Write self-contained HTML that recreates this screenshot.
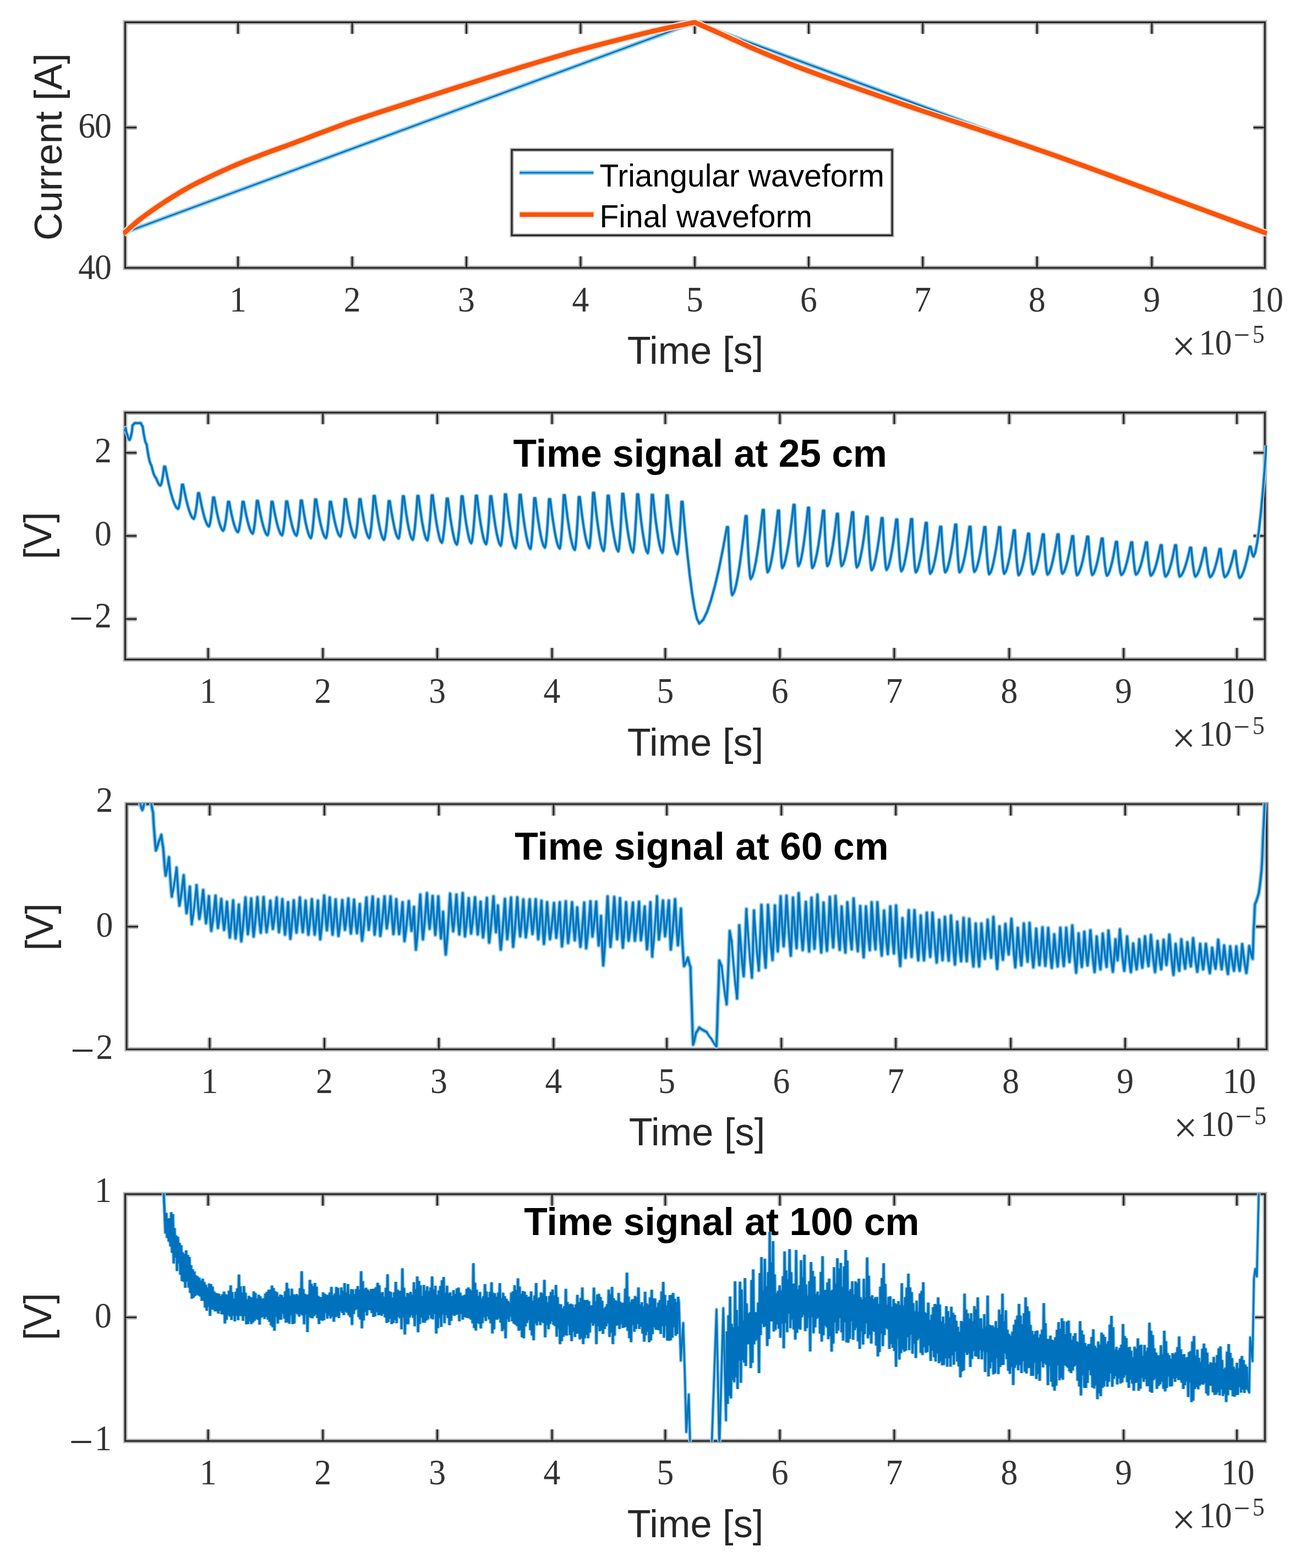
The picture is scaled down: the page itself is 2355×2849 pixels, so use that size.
<!DOCTYPE html>
<html lang="en"><head><meta charset="utf-8"><title>Time signals</title>
<style>
html,body{margin:0;padding:0;background:#fff}
svg{display:block}
.tk{font-family:'Liberation Serif',serif;font-size:65px;fill:#333}
.ex{font-family:'Liberation Serif',serif;font-size:46px;fill:#333}
.lb{font-family:'Liberation Sans',sans-serif;font-size:70.4px;fill:#262626}
.ti{font-family:'Liberation Sans',sans-serif;font-size:69.6px;font-weight:bold;fill:#000}
.lg{font-family:'Liberation Sans',sans-serif;font-size:57px;fill:#000}
</style></head>
<body>
<svg width="2355" height="2849" viewBox="0 0 2355 2849">
<rect width="2355" height="2849" fill="#fff"/>
<defs>
<clipPath id="c1"><rect x="223.4" y="36.5" width="2079.1" height="454.3"/></clipPath>
<clipPath id="c2"><rect x="223.4" y="748.2" width="2079.1" height="451.7"/></clipPath>
<clipPath id="c3"><rect x="226.1" y="1459.4" width="2079.7" height="448.8"/></clipPath>
<clipPath id="c4"><rect x="223.5" y="2168.1" width="2079.1" height="451.7"/></clipPath>
</defs>
<g id="plot1">
<path d="M227.4 40.5H2298.5V486.8H227.4ZM432.5 486.8v-21M432.5 40.5v21M640 486.8v-21M640 40.5v21M847.5 486.8v-21M847.5 40.5v21M1055 486.8v-21M1055 40.5v21M1262.5 486.8v-21M1262.5 40.5v21M1469.5 486.8v-21M1469.5 40.5v21M1676.8 486.8v-21M1676.8 40.5v21M1884.4 486.8v-21M1884.4 40.5v21M2093 486.8v-21M2093 40.5v21M227.4 231.8h21M2298.5 231.8h-21" fill="none" stroke="#b2b2b2" stroke-width="7.9" stroke-linecap="butt" stroke-linejoin="miter"/>
<path d="M227.4 40.5H2298.5V486.8H227.4ZM432.5 486.8v-21M432.5 40.5v21M640 486.8v-21M640 40.5v21M847.5 486.8v-21M847.5 40.5v21M1055 486.8v-21M1055 40.5v21M1262.5 486.8v-21M1262.5 40.5v21M1469.5 486.8v-21M1469.5 40.5v21M1676.8 486.8v-21M1676.8 40.5v21M1884.4 486.8v-21M1884.4 40.5v21M2093 486.8v-21M2093 40.5v21M227.4 231.8h21M2298.5 231.8h-21" fill="none" stroke="#242424" stroke-width="2.9" stroke-linecap="butt" stroke-linejoin="miter"/>

<g clip-path="url(#c1)"><path d="M223.9 423.7L1262.3 40.5L2302 423.7" fill="none" stroke="#8fcbe8" stroke-width="7.8" stroke-linejoin="miter" stroke-linecap="butt"/>
<path d="M223.9 423.7L1262.3 40.5L2302 423.7" fill="none" stroke="#0072bd" stroke-width="2.7" stroke-linejoin="miter" stroke-linecap="butt"/>
<path d="M223.9 425L226.7 422.5L230.6 418.9L235.3 414.7L240.3 410.3L245.3 405.9L249.9 402L254.3 398.5L258.6 395.2L262.9 392L267.3 388.8L271.8 385.6L276.5 382.2L281.4 378.8L286.4 375.4L291.6 371.9L296.9 368.4L302.4 364.8L308 361.2L313.8 357.6L319.8 353.9L325.9 350.1L332.3 346.4L338.8 342.6L345.6 338.9L352.7 335.1L360.3 331.3L368 327.5L375.9 323.7L383.6 320.1L391 316.6L398 313.3L404.7 310.2L411.4 307.2L418 304.2L425 301.2L432.5 298.1L440.5 294.8L449 291.4L457.8 288L466.7 284.6L475.6 281.2L484.4 277.9L493 274.7L501.7 271.5L510.3 268.4L518.9 265.3L527.6 262.1L536.2 258.9L544.9 255.7L553.5 252.5L562.2 249.2L570.8 245.9L579.4 242.7L588.1 239.4L596.1 236.4L603.5 233.6L610.8 230.8L618.8 227.8L628.3 224.3L640 220.3L654.2 215.5L670.7 210.1L688.6 204.3L707.2 198.3L725.8 192.3L743.7 186.5L761 180.9L778.2 175.4L795.5 169.9L812.8 164.3L830.1 158.8L847.4 153.4L864.7 147.9L882 142.4L899.3 136.9L916.5 131.5L933.8 126.1L951.1 120.8L968.4 115.6L985.7 110.4L1003 105.2L1020.3 100.1L1037.6 95.1L1054.8 90.2L1072.7 85.4L1091.3 80.5L1110 75.7L1127.8 71.2L1144.3 67L1158.6 63.5L1170.2 60.6L1179.7 58.3L1187.7 56.4L1195.1 54.8L1202.4 53.1L1210.4 51.4L1219.7 49.3L1229.6 47.2L1239.6 45.2L1248.9 43.3L1256.7 41.7L1262.3 40.5L1267.9 43L1275.7 46.4L1285 50.5L1295 54.9L1304.9 59.3L1314.2 63.5L1322.8 67.4L1331.4 71.4L1340.1 75.3L1348.7 79.3L1357.4 83.2L1366 87.1L1374.7 90.8L1383.3 94.5L1392 98.1L1400.6 101.7L1409.2 105.2L1417.9 108.7L1425.9 112L1433.3 115L1440.6 118L1448.6 121.2L1458.1 124.8L1469.8 129.1L1484 134.4L1500.5 140.3L1518.4 146.7L1537 153.3L1555.6 159.8L1573.5 166.1L1590.8 172.2L1608 178.2L1625.3 184.1L1642.6 190.1L1659.9 196L1677.2 201.8L1694.5 207.6L1711.8 213.4L1729.1 219.1L1746.3 224.8L1763.6 230.5L1780.9 236.2L1798.2 242L1815.5 247.8L1832.8 253.6L1850.1 259.5L1867.4 265.3L1884.6 271.3L1901.9 277.3L1919.2 283.4L1936.5 289.6L1953.8 295.8L1971.1 302L1988.4 308.3L2004.4 314.1L2019 319.5L2033.6 324.9L2049.7 330.8L2068.7 337.9L2092.1 346.5L2123.4 358.1L2162 372.3L2203.5 387.7L2243.6 402.5L2277.9 415.1L2302 424.0" fill="none" stroke="#fde0d4" stroke-width="13" stroke-linejoin="round"/>
<path d="M223.9 425L226.7 422.5L230.6 418.9L235.3 414.7L240.3 410.3L245.3 405.9L249.9 402L254.3 398.5L258.6 395.2L262.9 392L267.3 388.8L271.8 385.6L276.5 382.2L281.4 378.8L286.4 375.4L291.6 371.9L296.9 368.4L302.4 364.8L308 361.2L313.8 357.6L319.8 353.9L325.9 350.1L332.3 346.4L338.8 342.6L345.6 338.9L352.7 335.1L360.3 331.3L368 327.5L375.9 323.7L383.6 320.1L391 316.6L398 313.3L404.7 310.2L411.4 307.2L418 304.2L425 301.2L432.5 298.1L440.5 294.8L449 291.4L457.8 288L466.7 284.6L475.6 281.2L484.4 277.9L493 274.7L501.7 271.5L510.3 268.4L518.9 265.3L527.6 262.1L536.2 258.9L544.9 255.7L553.5 252.5L562.2 249.2L570.8 245.9L579.4 242.7L588.1 239.4L596.1 236.4L603.5 233.6L610.8 230.8L618.8 227.8L628.3 224.3L640 220.3L654.2 215.5L670.7 210.1L688.6 204.3L707.2 198.3L725.8 192.3L743.7 186.5L761 180.9L778.2 175.4L795.5 169.9L812.8 164.3L830.1 158.8L847.4 153.4L864.7 147.9L882 142.4L899.3 136.9L916.5 131.5L933.8 126.1L951.1 120.8L968.4 115.6L985.7 110.4L1003 105.2L1020.3 100.1L1037.6 95.1L1054.8 90.2L1072.7 85.4L1091.3 80.5L1110 75.7L1127.8 71.2L1144.3 67L1158.6 63.5L1170.2 60.6L1179.7 58.3L1187.7 56.4L1195.1 54.8L1202.4 53.1L1210.4 51.4L1219.7 49.3L1229.6 47.2L1239.6 45.2L1248.9 43.3L1256.7 41.7L1262.3 40.5L1267.9 43L1275.7 46.4L1285 50.5L1295 54.9L1304.9 59.3L1314.2 63.5L1322.8 67.4L1331.4 71.4L1340.1 75.3L1348.7 79.3L1357.4 83.2L1366 87.1L1374.7 90.8L1383.3 94.5L1392 98.1L1400.6 101.7L1409.2 105.2L1417.9 108.7L1425.9 112L1433.3 115L1440.6 118L1448.6 121.2L1458.1 124.8L1469.8 129.1L1484 134.4L1500.5 140.3L1518.4 146.7L1537 153.3L1555.6 159.8L1573.5 166.1L1590.8 172.2L1608 178.2L1625.3 184.1L1642.6 190.1L1659.9 196L1677.2 201.8L1694.5 207.6L1711.8 213.4L1729.1 219.1L1746.3 224.8L1763.6 230.5L1780.9 236.2L1798.2 242L1815.5 247.8L1832.8 253.6L1850.1 259.5L1867.4 265.3L1884.6 271.3L1901.9 277.3L1919.2 283.4L1936.5 289.6L1953.8 295.8L1971.1 302L1988.4 308.3L2004.4 314.1L2019 319.5L2033.6 324.9L2049.7 330.8L2068.7 337.9L2092.1 346.5L2123.4 358.1L2162 372.3L2203.5 387.7L2243.6 402.5L2277.9 415.1L2302 424.0" fill="none" stroke="#f9530a" stroke-width="8.8" stroke-linejoin="miter"/></g>
<rect x="930" y="272.3" width="691.2" height="155.3" fill="#fff" stroke="#b2b2b2" stroke-width="7"/>
<rect x="930" y="272.3" width="691.2" height="155.3" fill="none" stroke="#242424" stroke-width="3"/>
<path d="M944 313.8H1078.5" stroke="#8ecbe9" stroke-width="8" fill="none"/>
<path d="M944 313.8H1078.5" stroke="#0070be" stroke-width="2.8" fill="none"/>
<path d="M943 389.8H1079.5" stroke="#fde3d9" stroke-width="13.5" fill="none"/>
<path d="M944.5 389.8H1078.5" stroke="#f9530a" stroke-width="8.3" fill="none"/>
<text class="lg" x="1089.5" y="339">Triangular waveform</text>
<text class="lg" x="1089.5" y="413.4">Final waveform</text>
<text class="tk" transform="scale(0.95 1)"><tspan x="439" y="566">1</tspan></text>
<text class="tk" transform="scale(0.95 1)"><tspan x="657.4" y="566">2</tspan></text>
<text class="tk" transform="scale(0.95 1)"><tspan x="875.9" y="566">3</tspan></text>
<text class="tk" transform="scale(0.95 1)"><tspan x="1094.3" y="566">4</tspan></text>
<text class="tk" transform="scale(0.95 1)"><tspan x="1312.7" y="566">5</tspan></text>
<text class="tk" transform="scale(0.95 1)"><tspan x="1530.6" y="566">6</tspan></text>
<text class="tk" transform="scale(0.95 1)"><tspan x="1748.8" y="566">7</tspan></text>
<text class="tk" transform="scale(0.95 1)"><tspan x="1967.3" y="566">8</tspan></text>
<text class="tk" transform="scale(0.95 1)"><tspan x="2186.9" y="566">9</tspan></text>
<text class="tk" transform="scale(0.95 1)"><tspan x="2391.1" y="566" style="letter-spacing:-1.3px">10</tspan></text>
<text class="tk" transform="scale(0.95 1)"><tspan x="149.8" y="506.6" style="letter-spacing:-1.3px">40</tspan></text>
<text class="tk" transform="scale(0.95 1)"><tspan x="149.8" y="249.8" style="letter-spacing:-1.3px">60</tspan></text>
<text class="lb" x="1263.5" y="661.3" text-anchor="middle">Time [s]</text>
<text class="tk" transform="scale(0.95 1)"><tspan x="2241.3" y="656.3" style="font-size:81px">×</tspan><tspan x="2292.8" y="643.8" style="letter-spacing:-1.3px">10</tspan><tspan x="2359.6" y="627.3" style="font-size:55px">−</tspan><tspan x="2395.8" y="623" style="font-size:46px">5</tspan></text>
<text class="lb" transform="translate(112 266.8) rotate(-90)" text-anchor="middle">Current [A]</text>
</g>
<g id="plot2">
<path d="M227.4 749.8H2298.5V1198.3H227.4ZM378.2 1198.3v-21M378.2 749.8v21M586.7 1198.3v-21M586.7 749.8v21M794.6 1198.3v-21M794.6 749.8v21M1003.1 1198.3v-21M1003.1 749.8v21M1208.9 1198.3v-21M1208.9 749.8v21M1417.1 1198.3v-21M1417.1 749.8v21M1625 1198.3v-21M1625 749.8v21M1833.9 1198.3v-21M1833.9 749.8v21M2041.8 1198.3v-21M2041.8 749.8v21M2247.6 1198.3v-21M2247.6 749.8v21M227.4 822.7h21M2298.5 822.7h-21M227.4 973.7h21M2298.5 973.7h-21M227.4 1124.7h21M2298.5 1124.7h-21" fill="none" stroke="#b2b2b2" stroke-width="7.9" stroke-linecap="butt" stroke-linejoin="miter"/>
<path d="M227.4 749.8H2298.5V1198.3H227.4ZM378.2 1198.3v-21M378.2 749.8v21M586.7 1198.3v-21M586.7 749.8v21M794.6 1198.3v-21M794.6 749.8v21M1003.1 1198.3v-21M1003.1 749.8v21M1208.9 1198.3v-21M1208.9 749.8v21M1417.1 1198.3v-21M1417.1 749.8v21M1625 1198.3v-21M1625 749.8v21M1833.9 1198.3v-21M1833.9 749.8v21M2041.8 1198.3v-21M2041.8 749.8v21M2247.6 1198.3v-21M2247.6 749.8v21M227.4 822.7h21M2298.5 822.7h-21M227.4 973.7h21M2298.5 973.7h-21M227.4 1124.7h21M2298.5 1124.7h-21" fill="none" stroke="#242424" stroke-width="2.9" stroke-linecap="butt" stroke-linejoin="miter"/>
<text class="ti" x="932.5" y="847.6">Time signal at 25 cm</text>
<g clip-path="url(#c2)"><path d="M225.8 782.9L226.2 782.7L226.5 782.2L226.9 781.5L227.3 780.7L227.6 779.7L228 778.5L228.4 777.2L228.8 780.1L229.2 782.6L229.6 784.9L230.1 786.7L230.5 788.3L230.9 789.4L231.3 789.9L231.9 792L232.5 793.9L233 795.6L233.6 797L234.2 798.2L234.7 799L235.3 799.4L235.7 799L236.2 798.2L236.6 797L237.1 795.6L237.5 793.9L238 792L238.4 789.9L238.8 789.2L239.1 787.7L239.4 785.6L239.8 783L240.1 779.9L240.5 776.5L240.8 772.6L241.3 772.4L241.8 772.1L242.3 771.6L242.8 771.1L243.3 770.4L243.8 769.6L244.3 768.8L256 768.8L256.5 770L256.9 771.1L257.4 772.1L257.8 772.9L258.3 773.6L258.7 774.1L259.1 774.3L260.2 781.7L261.2 788.3L262.3 794.1L263.3 799L264.3 803L265.4 805.8L266.4 807.1L267.6 815.7L268.9 823.3L270.1 830.1L271.3 835.8L272.6 840.3L273.8 843.6L275 845.2L276.3 850.4L277.5 855.1L278.7 859.2L280 862.7L281.2 865.5L282.5 867.5L283.7 868.5L284.8 871.6L285.9 874.4L287 876.8L288.1 878.9L289.2 880.6L290.4 881.8L291.5 882.3L292.4 880.9L293.4 877.9L294.4 873.8L295.3 868.6L296.3 862.5L297.3 855.5L298.2 847.8L300.2 847.8L303.6 865L306.9 880.5L310.2 894.1L313.5 905.7L316.8 914.9L320.1 921.6L323.4 924.7L324.5 922.9L325.5 919.1L326.6 913.8L327.6 907.2L328.6 899.4L329.7 890.5L330.7 880.6L332.7 880.6L335.5 894.6L338.2 907.1L341 918.1L343.7 927.4L346.5 934.9L349.2 940.3L351.9 942.8L353.1 940.9L354.2 936.9L355.4 931.3L356.5 924.3L357.7 916L358.8 906.6L359.9 896.1L361.9 896.1L364.5 909.7L367 921.9L369.5 932.6L372 941.7L374.6 949L377.1 954.2L379.6 956.6L380.7 954.5L381.8 950L382.9 943.6L384 935.7L385.1 926.4L386.1 915.8L387.2 903.9L389.2 903.9L391.6 917.5L393.9 929.7L396.2 940.4L398.5 949.5L400.9 956.7L403.2 962L405.5 964.4L406.8 962.3L408 957.7L409.3 951.4L410.6 943.5L411.8 934.1L413.1 923.5L414.4 911.7L416.4 911.7L418.6 924.1L420.9 935.3L423.2 945L425.5 953.3L427.8 960L430 964.8L432.3 967L433.5 964.8L434.7 960L435.9 953.3L437.2 945L438.4 935.3L439.6 924.1L440.8 911.7L442.8 911.7L445.1 924.7L447.5 936.4L449.8 946.6L452.1 955.3L454.4 962.3L456.8 967.3L459.1 969.6L460.2 967.2L461.3 962L462.4 954.9L463.5 945.9L464.5 935.4L465.6 923.4L466.7 910L468.7 910L471.2 924L473.7 936.7L476.2 947.7L478.7 957.1L481.2 964.7L483.6 970.1L486.1 972.6L487.2 970.2L488.2 964.9L489.3 957.6L490.3 948.4L491.3 937.7L492.4 925.4L493.4 911.8L495.4 911.8L497.8 925.4L500.3 937.7L502.7 948.4L505.1 957.6L507.5 964.9L510 970.2L512.4 972.6L513.5 970.1L514.6 964.8L515.7 957.4L516.8 948.2L517.9 937.3L518.9 924.9L520 911.1L522 911.1L524.4 925.1L526.8 937.6L529.2 948.6L531.5 957.9L533.9 965.4L536.3 970.8L538.7 973.3L539.8 970.7L540.9 965.2L542.1 957.5L543.2 947.9L544.4 936.6L545.5 923.7L546.6 909.4L548.6 909.4L551 924.7L553.3 938.5L555.6 950.6L558 960.9L560.3 969.1L562.6 975L564.9 977.8L566 975L567.1 968.9L568.2 960.5L569.3 949.9L570.4 937.5L571.5 923.4L572.6 907.6L574.6 907.6L577.1 923.4L579.6 937.5L582.1 949.9L584.7 960.5L587.2 968.9L589.7 975L592.2 977.8L593.3 975.1L594.3 969.4L595.4 961.5L596.4 951.6L597.4 939.9L598.5 926.6L599.5 911.8L601.5 911.8L604 926L606.4 938.7L608.8 949.9L611.2 959.4L613.7 967L616.1 972.5L618.5 975L619.6 972.3L620.8 966.4L621.9 958.2L623.1 948L624.2 935.9L625.3 922.2L626.5 906.9L628.5 906.9L630.9 922.6L633.2 936.7L635.6 949L638 959.5L640.4 967.9L642.7 973.9L645.1 976.8L646.3 973.9L647.4 967.9L648.5 959.5L649.7 949L650.8 936.7L652 922.6L653.1 906.9L655.1 906.9L657.4 922.8L659.7 937.1L661.9 949.6L664.2 960.3L666.5 968.8L668.8 974.9L671 977.8L672.2 974.7L673.3 968.1L674.5 958.8L675.6 947.3L676.7 933.7L677.9 918.3L679 901.1L681 901.1L683.4 919L685.8 935.1L688.1 949.2L690.5 961.2L692.9 970.8L695.3 977.7L697.6 980.9L698.9 978.1L700.1 972L701.4 963.5L702.6 952.9L703.8 940.4L705.1 926.2L706.3 910.4L708.3 910.4L710.6 925.7L712.9 939.4L715.2 951.4L717.4 961.7L719.7 969.9L722 975.7L724.3 978.5L725.4 975.4L726.4 968.8L727.5 959.5L728.6 948L729.7 934.4L730.8 919L731.9 901.8L733.9 901.8L736.2 919.5L738.5 935.5L740.7 949.5L743 961.3L745.3 970.9L747.6 977.7L749.8 980.9L751.1 977.7L752.3 970.8L753.6 961.2L754.8 949.2L756 935.1L757.3 919L758.5 901.1L760.5 901.1L762.8 919.2L765.1 935.5L767.3 949.8L769.6 962L771.9 971.7L774.2 978.7L776.5 981.9L777.6 978.6L778.7 971.6L779.9 961.7L781 949.4L782.2 934.9L783.3 918.4L784.4 900L786.4 900L788.8 919.4L791.1 936.7L793.4 951.9L795.8 964.8L798.1 975.2L800.4 982.6L802.8 986.1L804.1 982.8L805.3 975.9L806.6 966.3L807.9 954.2L809.2 940.1L810.5 923.9L811.8 905.9L813.8 905.9L816.1 924.7L818.4 941.5L820.8 956.3L823.1 968.9L825.4 979L827.7 986.2L830.1 989.5L831.3 986L832.5 978.4L833.8 967.8L835 954.7L836.3 939.2L837.5 921.5L838.7 901.8L840.7 901.8L843 920.9L845.2 938.1L847.4 953.2L849.7 966L851.9 976.3L854.1 983.7L856.3 987.1L857.5 983.6L858.7 976.2L859.9 965.8L861.1 952.8L862.3 937.5L863.5 920.1L864.7 900.7L866.7 900.7L869 920.5L871.4 938.3L873.8 953.8L876.2 967.1L878.5 977.7L880.9 985.3L883.3 988.8L884.4 985.3L885.5 977.8L886.6 967.3L887.7 954.3L888.8 938.9L889.8 921.3L890.9 901.8L892.9 901.8L895.4 921.9L897.8 940L900.2 955.9L902.6 969.4L905.1 980.2L907.5 988L909.9 991.6L911 987.8L912.1 979.8L913.2 968.6L914.3 954.5L915.4 938.1L916.5 919.3L917.5 898.3L919.5 898.3L922 920.2L924.5 939.8L927 957L929.4 971.7L931.9 983.4L934.4 991.8L936.9 995.8L937.9 991.9L939 983.5L940 971.8L941 957.3L942.1 940.2L943.1 920.7L944.2 899L946.2 899L948.7 921.1L951.2 941L953.7 958.4L956.3 973.2L958.8 985L961.3 993.5L963.8 997.5L964.8 993.8L965.8 985.8L966.8 974.7L967.8 960.8L968.8 944.5L969.8 925.9L970.8 905.2L972.8 905.2L975.2 925.4L977.7 943.5L980.2 959.4L982.7 972.9L985.1 983.7L987.6 991.4L990.1 995.1L991.2 991.5L992.3 983.9L993.4 973.3L994.5 960.1L995.5 944.5L996.6 926.7L997.7 906.9L999.7 906.9L1002.2 927.1L1004.7 945.2L1007.2 961.1L1009.6 974.6L1012.1 985.4L1014.6 993.2L1017.1 996.8L1018.1 992.9L1019.1 984.5L1020.2 972.8L1021.2 958.2L1022.3 941.1L1023.3 921.5L1024.3 899.7L1026.3 899.7L1028.9 922L1031.5 942.1L1034.1 959.7L1036.6 974.6L1039.2 986.6L1041.8 995.2L1044.4 999.2L1045.4 995.3L1046.4 987.1L1047.5 975.5L1048.5 961.1L1049.6 944.1L1050.6 924.7L1051.6 903.1L1053.6 903.1L1056.1 923.9L1058.5 942.6L1060.9 959L1063.3 972.9L1065.8 984L1068.2 992L1070.6 995.8L1071.6 991.7L1072.6 983.1L1073.6 971L1074.6 956L1075.6 938.2L1076.6 918L1077.6 895.5L1079.6 895.5L1082 919.2L1084.5 940.4L1087 959.1L1089.5 974.9L1091.9 987.6L1094.4 996.7L1096.9 1000.9L1097.9 996.9L1099 988.3L1100 976.2L1101.1 961.1L1102.1 943.4L1103.1 923.2L1104.2 900.7L1106.2 900.7L1108.7 923.5L1111.1 943.9L1113.6 961.8L1116.1 977L1118.6 989.2L1121 997.9L1123.5 1002L1124.5 997.8L1125.6 988.7L1126.6 976.1L1127.7 960.4L1128.7 941.9L1129.8 920.8L1130.8 897.3L1132.8 897.3L1135.3 921.2L1137.7 942.6L1140.2 961.4L1142.7 977.4L1145.2 990.2L1147.6 999.4L1150.1 1003.7L1151.2 999.5L1152.3 990.4L1153.4 977.7L1154.5 961.8L1155.6 943.2L1156.7 922L1157.8 898.3L1159.8 898.3L1162.2 922.3L1164.7 943.8L1167.2 962.7L1169.7 978.7L1172.1 991.6L1174.6 1000.8L1177.1 1005.1L1178.1 1000.8L1179.2 991.7L1180.2 978.9L1181.2 962.9L1182.3 944.2L1183.3 922.8L1184.4 899L1186.4 899L1188.8 922.7L1191.3 943.9L1193.8 962.5L1196.3 978.4L1198.7 991.1L1201.2 1000.1L1203.7 1004.4L1204.8 1000.2L1205.9 991.2L1207 978.6L1208.1 962.9L1209.1 944.5L1210.2 923.5L1211.3 900L1213.3 900L1215.8 924L1218.3 945.5L1220.7 964.4L1223.2 980.4L1225.7 993.3L1228.2 1002.5L1230.6 1006.8L1231.7 1003L1232.8 994.8L1233.9 983.3L1235 969.1L1236.1 952.3L1237.2 933.1L1238.3 911.8L1240.3 911.8L1244.6 961.5L1249 1006L1253.3 1045.1L1257.7 1078.3L1262 1105L1266.4 1124.1L1270.7 1133L1277.9 1125.9L1285.1 1110.8L1292.2 1089.7L1299.4 1063.4L1306.6 1032.4L1313.7 997.1L1320.9 957.7L1322.9 957.7L1324 985.5L1325.1 1010.5L1326.2 1032.3L1327.3 1050.9L1328.3 1065.8L1329.4 1076.5L1330.5 1081.5L1334 1075.7L1337.5 1063.3L1340.9 1045.9L1344.4 1024.4L1347.8 999L1351.3 970L1354.8 937.7L1356.8 937.7L1357.8 963.4L1358.8 986.4L1359.9 1006.7L1360.9 1023.8L1362 1037.6L1363 1047.5L1364.1 1052.1L1367.2 1047L1370.3 1036.2L1373.4 1021.1L1376.5 1002.3L1379.7 980.1L1382.8 954.8L1385.9 926.6L1387.9 926.6L1388.9 952.1L1389.9 974.9L1390.9 995L1391.9 1012L1392.9 1025.7L1393.9 1035.4L1394.9 1040L1397.5 1035.5L1400.2 1025.8L1402.9 1012.2L1405.5 995.4L1408.2 975.5L1410.9 952.9L1413.6 927.7L1415.6 927.7L1416.4 951.1L1417.3 972.1L1418.1 990.6L1418.9 1006.3L1419.8 1018.8L1420.6 1027.8L1421.5 1032.1L1424.4 1027.4L1427.3 1017.5L1430.2 1003.7L1433.1 986.5L1436.1 966.2L1439 943.1L1441.9 917.3L1443.9 917.3L1444.9 942.3L1445.9 964.7L1446.9 984.4L1447.9 1001.1L1448.9 1014.5L1449.9 1024.1L1450.9 1028.6L1453.3 1024.3L1455.8 1015.2L1458.3 1002.4L1460.7 986.5L1463.2 967.7L1465.7 946.3L1468.2 922.5L1470.2 922.5L1471 947.1L1471.9 969.2L1472.7 988.5L1473.5 1005L1474.4 1018.2L1475.2 1027.6L1476.1 1032.1L1478.9 1027.8L1481.6 1018.8L1484.4 1006.3L1487.2 990.6L1489.9 972.1L1492.7 951.1L1495.5 927.7L1497.5 927.7L1498.3 950.3L1499.2 970.7L1500 988.5L1500.9 1003.7L1501.7 1015.8L1502.5 1024.5L1503.4 1028.6L1505.9 1024.8L1508.3 1016.6L1510.8 1005.1L1513.3 990.8L1515.8 974L1518.2 954.9L1520.7 933.5L1522.7 933.5L1523.6 954.9L1524.6 974L1525.5 990.8L1526.5 1005.1L1527.4 1016.6L1528.4 1024.8L1529.3 1028.6L1532 1024.7L1534.8 1016.2L1537.5 1004.4L1540.2 989.7L1542.9 972.5L1545.6 952.7L1548.4 930.8L1550.4 930.8L1551.3 953.3L1552.2 973.5L1553.2 991.2L1554.1 1006.2L1555.1 1018.3L1556 1027L1557 1031L1559.5 1027.3L1562 1019.3L1564.5 1008.2L1567.1 994.4L1569.6 978L1572.1 959.5L1574.6 938.7L1576.6 938.7L1577.7 960.6L1578.7 980.3L1579.7 997.5L1580.8 1012.1L1581.8 1023.9L1582.9 1032.3L1583.9 1036.2L1586.5 1032.4L1589.1 1024.2L1591.6 1012.8L1594.2 998.6L1596.8 981.8L1599.4 962.8L1601.9 941.5L1603.9 941.5L1604.9 962.6L1605.9 981.5L1606.9 998.2L1607.9 1012.3L1608.9 1023.6L1609.9 1031.7L1610.9 1035.5L1613.4 1031.8L1615.9 1023.9L1618.4 1012.9L1621 999.1L1623.5 982.9L1626 964.5L1628.5 943.9L1630.5 943.9L1631.6 965L1632.6 984L1633.7 1000.6L1634.7 1014.7L1635.7 1026L1636.8 1034.1L1637.8 1037.9L1640.4 1034.1L1642.9 1025.9L1645.4 1014.5L1647.9 1000.3L1650.5 983.6L1653 964.5L1655.5 943.2L1657.5 943.2L1658.4 965L1659.4 984.5L1660.3 1001.6L1661.3 1016.1L1662.2 1027.8L1663.2 1036.1L1664.1 1040L1666.7 1036.4L1669.2 1028.6L1671.8 1017.8L1674.4 1004.3L1677 988.4L1679.5 970.3L1682.1 950.1L1684.1 950.1L1685 970.9L1685.9 989.5L1686.8 1005.8L1687.7 1019.6L1688.6 1030.7L1689.5 1038.7L1690.4 1042.4L1692.9 1039L1695.5 1031.6L1698.1 1021.3L1700.7 1008.5L1703.2 993.4L1705.8 976.2L1708.4 957.1L1710.4 957.1L1711.4 975.7L1712.5 992.4L1713.5 1007.1L1714.5 1019.5L1715.6 1029.5L1716.6 1036.7L1717.7 1040L1720.2 1036.5L1722.8 1029L1725.4 1018.6L1728 1005.5L1730.5 990.2L1733.1 972.7L1735.7 953.2L1737.7 953.2L1738.5 972.7L1739.4 990.2L1740.2 1005.5L1741.1 1018.6L1741.9 1029L1742.7 1036.5L1743.6 1040L1746.2 1036.7L1748.7 1029.5L1751.3 1019.5L1753.9 1007.1L1756.5 992.4L1759 975.7L1761.6 957.1L1763.6 957.1L1764.6 975.4L1765.6 991.9L1766.6 1006.4L1767.6 1018.7L1768.6 1028.6L1769.6 1035.7L1770.6 1039L1773.1 1035.7L1775.7 1028.7L1778.3 1018.9L1780.8 1006.7L1783.4 992.3L1786 976L1788.6 957.7L1790.6 957.7L1791.6 977L1792.5 994.3L1793.5 1009.4L1794.5 1022.3L1795.5 1032.6L1796.5 1040L1797.5 1043.5L1800.1 1040L1802.7 1032.6L1805.2 1022.3L1807.8 1009.4L1810.4 994.3L1812.9 977L1815.5 957.7L1817.5 957.7L1818.6 976.8L1819.6 993.8L1820.6 1008.8L1821.7 1021.5L1822.7 1031.7L1823.8 1039L1824.8 1042.4L1827.3 1039.2L1829.8 1032.4L1832.2 1022.9L1834.7 1011.1L1837.2 997.2L1839.7 981.3L1842.1 963.6L1844.1 963.6L1845.1 981.9L1846.1 998.4L1847.1 1012.8L1848.1 1025L1849.1 1034.9L1850.1 1041.9L1851.1 1045.2L1853.5 1042.1L1855.9 1035.6L1858.4 1026.6L1860.8 1015.3L1863.2 1001.9L1865.6 986.8L1868.1 969.8L1870.1 969.8L1871 986.4L1872 1001.2L1873 1014.2L1874 1025.3L1875 1034.1L1876 1040.5L1877 1043.5L1879.5 1040.5L1882.1 1034.3L1884.6 1025.5L1887.1 1014.6L1889.6 1001.8L1892.1 987.2L1894.7 970.9L1896.7 970.9L1897.7 987.3L1898.7 1002.1L1899.6 1015L1900.6 1026L1901.6 1034.9L1902.6 1041.2L1903.6 1044.1L1906.2 1041.2L1908.8 1034.9L1911.3 1026L1913.9 1015L1916.5 1002.1L1919.1 987.3L1921.6 970.9L1923.6 970.9L1924.6 986.9L1925.6 1001.4L1926.6 1014L1927.6 1024.7L1928.6 1033.4L1929.6 1039.5L1930.6 1042.4L1933.1 1039.7L1935.6 1033.8L1938.1 1025.6L1940.7 1015.4L1943.2 1003.3L1945.7 989.6L1948.2 974.3L1950.2 974.3L1951.2 990.2L1952.2 1004.5L1953.2 1017L1954.2 1027.7L1955.2 1036.2L1956.2 1042.3L1957.2 1045.2L1959.8 1042.4L1962.4 1036.3L1965.1 1027.8L1967.7 1017.3L1970.3 1004.9L1972.9 990.8L1975.5 975L1977.5 975L1978.6 990.7L1979.6 1004.8L1980.7 1017.1L1981.7 1027.6L1982.8 1036L1983.8 1042L1984.8 1044.8L1987.3 1042.2L1989.7 1036.4L1992.1 1028.4L1994.5 1018.5L1997 1006.8L1999.4 993.4L2001.8 978.5L2003.8 978.5L2004.9 993.6L2006 1007.2L2007.1 1019.1L2008.2 1029.2L2009.3 1037.3L2010.4 1043.2L2011.5 1045.9L2013.8 1043.4L2016.1 1038.1L2018.4 1030.7L2020.8 1021.4L2023.1 1010.6L2025.4 998.2L2027.7 984.4L2029.7 984.4L2030.9 997.9L2032 1010.1L2033.2 1020.8L2034.3 1029.9L2035.4 1037.2L2036.6 1042.4L2037.7 1044.8L2040.2 1042.4L2042.8 1037.3L2045.3 1030.2L2047.8 1021.2L2050.3 1010.7L2052.9 998.7L2055.4 985.4L2057.4 985.4L2058.4 998.6L2059.4 1010.4L2060.4 1020.8L2061.4 1029.6L2062.3 1036.7L2063.3 1041.8L2064.3 1044.1L2066.9 1041.8L2069.5 1036.7L2072.1 1029.6L2074.6 1020.8L2077.2 1010.4L2079.8 998.6L2082.3 985.4L2084.3 985.4L2085.3 999L2086.3 1011.2L2087.3 1021.9L2088.3 1030.9L2089.3 1038.2L2090.3 1043.4L2091.3 1045.9L2093.8 1043.6L2096.3 1038.9L2098.9 1032.2L2101.4 1023.9L2103.9 1014.1L2106.4 1003L2109 990.6L2111 990.6L2111.9 1003.4L2112.9 1014.9L2113.9 1025L2114.9 1033.5L2115.9 1040.4L2116.9 1045.3L2117.9 1047.6L2120.4 1045.3L2122.9 1040.4L2125.3 1033.5L2127.8 1025L2130.3 1014.9L2132.7 1003.4L2135.2 990.6L2137.2 990.6L2138.2 1003.4L2139.1 1014.9L2140.1 1025L2141 1033.5L2141.9 1040.4L2142.9 1045.3L2143.8 1047.6L2146.5 1045.5L2149.2 1041L2151.8 1034.6L2154.5 1026.7L2157.2 1017.5L2159.9 1006.9L2162.5 995.1L2164.5 995.1L2165.6 1006.9L2166.7 1017.5L2167.8 1026.7L2168.9 1034.6L2170 1041L2171.1 1045.5L2172.2 1047.6L2174.5 1045.5L2176.9 1041L2179.3 1034.8L2181.7 1027L2184 1017.8L2186.4 1007.4L2188.8 995.8L2190.8 995.8L2192 1007.6L2193.2 1018.3L2194.4 1027.6L2195.6 1035.6L2196.7 1041.9L2197.9 1046.5L2199.1 1048.6L2201.5 1046.6L2204 1042.2L2206.4 1036L2208.8 1028.3L2211.2 1019.3L2213.7 1009L2216.1 997.5L2218.1 997.5L2219.2 1009L2220.3 1019.3L2221.4 1028.3L2222.5 1036L2223.6 1042.2L2224.6 1046.6L2225.7 1048.6L2228.2 1046.7L2230.7 1042.6L2233.2 1036.9L2235.6 1029.7L2238.1 1021.3L2240.6 1011.7L2243.1 1000.9L2245.1 1000.9L2246.1 1012L2247.2 1021.9L2248.3 1030.5L2249.4 1037.9L2250.5 1043.8L2251.6 1048L2252.7 1050L2255.3 1047.7L2257.8 1042.8L2260.4 1036L2263 1027.5L2265.6 1017.5L2268.1 1006.1L2270.7 993.3L2272.7 993.3L2273.5 997.4L2274.2 1001L2274.9 1004.2L2275.7 1006.9L2276.4 1009L2277.2 1010.6L2277.9 1011.3L2281.2 1003.2L2284.5 985.7L2287.9 961.4L2291.2 931L2294.5 895.3L2297.8 854.5L2301.1 809.1" fill="none" stroke="#a9d6ee" stroke-width="7.0" stroke-linejoin="round" stroke-linecap="butt"/>
<path d="M225.8 782.9L226.2 782.7L226.5 782.2L226.9 781.5L227.3 780.7L227.6 779.7L228 778.5L228.4 777.2L228.8 780.1L229.2 782.6L229.6 784.9L230.1 786.7L230.5 788.3L230.9 789.4L231.3 789.9L231.9 792L232.5 793.9L233 795.6L233.6 797L234.2 798.2L234.7 799L235.3 799.4L235.7 799L236.2 798.2L236.6 797L237.1 795.6L237.5 793.9L238 792L238.4 789.9L238.8 789.2L239.1 787.7L239.4 785.6L239.8 783L240.1 779.9L240.5 776.5L240.8 772.6L241.3 772.4L241.8 772.1L242.3 771.6L242.8 771.1L243.3 770.4L243.8 769.6L244.3 768.8L256 768.8L256.5 770L256.9 771.1L257.4 772.1L257.8 772.9L258.3 773.6L258.7 774.1L259.1 774.3L260.2 781.7L261.2 788.3L262.3 794.1L263.3 799L264.3 803L265.4 805.8L266.4 807.1L267.6 815.7L268.9 823.3L270.1 830.1L271.3 835.8L272.6 840.3L273.8 843.6L275 845.2L276.3 850.4L277.5 855.1L278.7 859.2L280 862.7L281.2 865.5L282.5 867.5L283.7 868.5L284.8 871.6L285.9 874.4L287 876.8L288.1 878.9L289.2 880.6L290.4 881.8L291.5 882.3L292.4 880.9L293.4 877.9L294.4 873.8L295.3 868.6L296.3 862.5L297.3 855.5L298.2 847.8L300.2 847.8L303.6 865L306.9 880.5L310.2 894.1L313.5 905.7L316.8 914.9L320.1 921.6L323.4 924.7L324.5 922.9L325.5 919.1L326.6 913.8L327.6 907.2L328.6 899.4L329.7 890.5L330.7 880.6L332.7 880.6L335.5 894.6L338.2 907.1L341 918.1L343.7 927.4L346.5 934.9L349.2 940.3L351.9 942.8L353.1 940.9L354.2 936.9L355.4 931.3L356.5 924.3L357.7 916L358.8 906.6L359.9 896.1L361.9 896.1L364.5 909.7L367 921.9L369.5 932.6L372 941.7L374.6 949L377.1 954.2L379.6 956.6L380.7 954.5L381.8 950L382.9 943.6L384 935.7L385.1 926.4L386.1 915.8L387.2 903.9L389.2 903.9L391.6 917.5L393.9 929.7L396.2 940.4L398.5 949.5L400.9 956.7L403.2 962L405.5 964.4L406.8 962.3L408 957.7L409.3 951.4L410.6 943.5L411.8 934.1L413.1 923.5L414.4 911.7L416.4 911.7L418.6 924.1L420.9 935.3L423.2 945L425.5 953.3L427.8 960L430 964.8L432.3 967L433.5 964.8L434.7 960L435.9 953.3L437.2 945L438.4 935.3L439.6 924.1L440.8 911.7L442.8 911.7L445.1 924.7L447.5 936.4L449.8 946.6L452.1 955.3L454.4 962.3L456.8 967.3L459.1 969.6L460.2 967.2L461.3 962L462.4 954.9L463.5 945.9L464.5 935.4L465.6 923.4L466.7 910L468.7 910L471.2 924L473.7 936.7L476.2 947.7L478.7 957.1L481.2 964.7L483.6 970.1L486.1 972.6L487.2 970.2L488.2 964.9L489.3 957.6L490.3 948.4L491.3 937.7L492.4 925.4L493.4 911.8L495.4 911.8L497.8 925.4L500.3 937.7L502.7 948.4L505.1 957.6L507.5 964.9L510 970.2L512.4 972.6L513.5 970.1L514.6 964.8L515.7 957.4L516.8 948.2L517.9 937.3L518.9 924.9L520 911.1L522 911.1L524.4 925.1L526.8 937.6L529.2 948.6L531.5 957.9L533.9 965.4L536.3 970.8L538.7 973.3L539.8 970.7L540.9 965.2L542.1 957.5L543.2 947.9L544.4 936.6L545.5 923.7L546.6 909.4L548.6 909.4L551 924.7L553.3 938.5L555.6 950.6L558 960.9L560.3 969.1L562.6 975L564.9 977.8L566 975L567.1 968.9L568.2 960.5L569.3 949.9L570.4 937.5L571.5 923.4L572.6 907.6L574.6 907.6L577.1 923.4L579.6 937.5L582.1 949.9L584.7 960.5L587.2 968.9L589.7 975L592.2 977.8L593.3 975.1L594.3 969.4L595.4 961.5L596.4 951.6L597.4 939.9L598.5 926.6L599.5 911.8L601.5 911.8L604 926L606.4 938.7L608.8 949.9L611.2 959.4L613.7 967L616.1 972.5L618.5 975L619.6 972.3L620.8 966.4L621.9 958.2L623.1 948L624.2 935.9L625.3 922.2L626.5 906.9L628.5 906.9L630.9 922.6L633.2 936.7L635.6 949L638 959.5L640.4 967.9L642.7 973.9L645.1 976.8L646.3 973.9L647.4 967.9L648.5 959.5L649.7 949L650.8 936.7L652 922.6L653.1 906.9L655.1 906.9L657.4 922.8L659.7 937.1L661.9 949.6L664.2 960.3L666.5 968.8L668.8 974.9L671 977.8L672.2 974.7L673.3 968.1L674.5 958.8L675.6 947.3L676.7 933.7L677.9 918.3L679 901.1L681 901.1L683.4 919L685.8 935.1L688.1 949.2L690.5 961.2L692.9 970.8L695.3 977.7L697.6 980.9L698.9 978.1L700.1 972L701.4 963.5L702.6 952.9L703.8 940.4L705.1 926.2L706.3 910.4L708.3 910.4L710.6 925.7L712.9 939.4L715.2 951.4L717.4 961.7L719.7 969.9L722 975.7L724.3 978.5L725.4 975.4L726.4 968.8L727.5 959.5L728.6 948L729.7 934.4L730.8 919L731.9 901.8L733.9 901.8L736.2 919.5L738.5 935.5L740.7 949.5L743 961.3L745.3 970.9L747.6 977.7L749.8 980.9L751.1 977.7L752.3 970.8L753.6 961.2L754.8 949.2L756 935.1L757.3 919L758.5 901.1L760.5 901.1L762.8 919.2L765.1 935.5L767.3 949.8L769.6 962L771.9 971.7L774.2 978.7L776.5 981.9L777.6 978.6L778.7 971.6L779.9 961.7L781 949.4L782.2 934.9L783.3 918.4L784.4 900L786.4 900L788.8 919.4L791.1 936.7L793.4 951.9L795.8 964.8L798.1 975.2L800.4 982.6L802.8 986.1L804.1 982.8L805.3 975.9L806.6 966.3L807.9 954.2L809.2 940.1L810.5 923.9L811.8 905.9L813.8 905.9L816.1 924.7L818.4 941.5L820.8 956.3L823.1 968.9L825.4 979L827.7 986.2L830.1 989.5L831.3 986L832.5 978.4L833.8 967.8L835 954.7L836.3 939.2L837.5 921.5L838.7 901.8L840.7 901.8L843 920.9L845.2 938.1L847.4 953.2L849.7 966L851.9 976.3L854.1 983.7L856.3 987.1L857.5 983.6L858.7 976.2L859.9 965.8L861.1 952.8L862.3 937.5L863.5 920.1L864.7 900.7L866.7 900.7L869 920.5L871.4 938.3L873.8 953.8L876.2 967.1L878.5 977.7L880.9 985.3L883.3 988.8L884.4 985.3L885.5 977.8L886.6 967.3L887.7 954.3L888.8 938.9L889.8 921.3L890.9 901.8L892.9 901.8L895.4 921.9L897.8 940L900.2 955.9L902.6 969.4L905.1 980.2L907.5 988L909.9 991.6L911 987.8L912.1 979.8L913.2 968.6L914.3 954.5L915.4 938.1L916.5 919.3L917.5 898.3L919.5 898.3L922 920.2L924.5 939.8L927 957L929.4 971.7L931.9 983.4L934.4 991.8L936.9 995.8L937.9 991.9L939 983.5L940 971.8L941 957.3L942.1 940.2L943.1 920.7L944.2 899L946.2 899L948.7 921.1L951.2 941L953.7 958.4L956.3 973.2L958.8 985L961.3 993.5L963.8 997.5L964.8 993.8L965.8 985.8L966.8 974.7L967.8 960.8L968.8 944.5L969.8 925.9L970.8 905.2L972.8 905.2L975.2 925.4L977.7 943.5L980.2 959.4L982.7 972.9L985.1 983.7L987.6 991.4L990.1 995.1L991.2 991.5L992.3 983.9L993.4 973.3L994.5 960.1L995.5 944.5L996.6 926.7L997.7 906.9L999.7 906.9L1002.2 927.1L1004.7 945.2L1007.2 961.1L1009.6 974.6L1012.1 985.4L1014.6 993.2L1017.1 996.8L1018.1 992.9L1019.1 984.5L1020.2 972.8L1021.2 958.2L1022.3 941.1L1023.3 921.5L1024.3 899.7L1026.3 899.7L1028.9 922L1031.5 942.1L1034.1 959.7L1036.6 974.6L1039.2 986.6L1041.8 995.2L1044.4 999.2L1045.4 995.3L1046.4 987.1L1047.5 975.5L1048.5 961.1L1049.6 944.1L1050.6 924.7L1051.6 903.1L1053.6 903.1L1056.1 923.9L1058.5 942.6L1060.9 959L1063.3 972.9L1065.8 984L1068.2 992L1070.6 995.8L1071.6 991.7L1072.6 983.1L1073.6 971L1074.6 956L1075.6 938.2L1076.6 918L1077.6 895.5L1079.6 895.5L1082 919.2L1084.5 940.4L1087 959.1L1089.5 974.9L1091.9 987.6L1094.4 996.7L1096.9 1000.9L1097.9 996.9L1099 988.3L1100 976.2L1101.1 961.1L1102.1 943.4L1103.1 923.2L1104.2 900.7L1106.2 900.7L1108.7 923.5L1111.1 943.9L1113.6 961.8L1116.1 977L1118.6 989.2L1121 997.9L1123.5 1002L1124.5 997.8L1125.6 988.7L1126.6 976.1L1127.7 960.4L1128.7 941.9L1129.8 920.8L1130.8 897.3L1132.8 897.3L1135.3 921.2L1137.7 942.6L1140.2 961.4L1142.7 977.4L1145.2 990.2L1147.6 999.4L1150.1 1003.7L1151.2 999.5L1152.3 990.4L1153.4 977.7L1154.5 961.8L1155.6 943.2L1156.7 922L1157.8 898.3L1159.8 898.3L1162.2 922.3L1164.7 943.8L1167.2 962.7L1169.7 978.7L1172.1 991.6L1174.6 1000.8L1177.1 1005.1L1178.1 1000.8L1179.2 991.7L1180.2 978.9L1181.2 962.9L1182.3 944.2L1183.3 922.8L1184.4 899L1186.4 899L1188.8 922.7L1191.3 943.9L1193.8 962.5L1196.3 978.4L1198.7 991.1L1201.2 1000.1L1203.7 1004.4L1204.8 1000.2L1205.9 991.2L1207 978.6L1208.1 962.9L1209.1 944.5L1210.2 923.5L1211.3 900L1213.3 900L1215.8 924L1218.3 945.5L1220.7 964.4L1223.2 980.4L1225.7 993.3L1228.2 1002.5L1230.6 1006.8L1231.7 1003L1232.8 994.8L1233.9 983.3L1235 969.1L1236.1 952.3L1237.2 933.1L1238.3 911.8L1240.3 911.8L1244.6 961.5L1249 1006L1253.3 1045.1L1257.7 1078.3L1262 1105L1266.4 1124.1L1270.7 1133L1277.9 1125.9L1285.1 1110.8L1292.2 1089.7L1299.4 1063.4L1306.6 1032.4L1313.7 997.1L1320.9 957.7L1322.9 957.7L1324 985.5L1325.1 1010.5L1326.2 1032.3L1327.3 1050.9L1328.3 1065.8L1329.4 1076.5L1330.5 1081.5L1334 1075.7L1337.5 1063.3L1340.9 1045.9L1344.4 1024.4L1347.8 999L1351.3 970L1354.8 937.7L1356.8 937.7L1357.8 963.4L1358.8 986.4L1359.9 1006.7L1360.9 1023.8L1362 1037.6L1363 1047.5L1364.1 1052.1L1367.2 1047L1370.3 1036.2L1373.4 1021.1L1376.5 1002.3L1379.7 980.1L1382.8 954.8L1385.9 926.6L1387.9 926.6L1388.9 952.1L1389.9 974.9L1390.9 995L1391.9 1012L1392.9 1025.7L1393.9 1035.4L1394.9 1040L1397.5 1035.5L1400.2 1025.8L1402.9 1012.2L1405.5 995.4L1408.2 975.5L1410.9 952.9L1413.6 927.7L1415.6 927.7L1416.4 951.1L1417.3 972.1L1418.1 990.6L1418.9 1006.3L1419.8 1018.8L1420.6 1027.8L1421.5 1032.1L1424.4 1027.4L1427.3 1017.5L1430.2 1003.7L1433.1 986.5L1436.1 966.2L1439 943.1L1441.9 917.3L1443.9 917.3L1444.9 942.3L1445.9 964.7L1446.9 984.4L1447.9 1001.1L1448.9 1014.5L1449.9 1024.1L1450.9 1028.6L1453.3 1024.3L1455.8 1015.2L1458.3 1002.4L1460.7 986.5L1463.2 967.7L1465.7 946.3L1468.2 922.5L1470.2 922.5L1471 947.1L1471.9 969.2L1472.7 988.5L1473.5 1005L1474.4 1018.2L1475.2 1027.6L1476.1 1032.1L1478.9 1027.8L1481.6 1018.8L1484.4 1006.3L1487.2 990.6L1489.9 972.1L1492.7 951.1L1495.5 927.7L1497.5 927.7L1498.3 950.3L1499.2 970.7L1500 988.5L1500.9 1003.7L1501.7 1015.8L1502.5 1024.5L1503.4 1028.6L1505.9 1024.8L1508.3 1016.6L1510.8 1005.1L1513.3 990.8L1515.8 974L1518.2 954.9L1520.7 933.5L1522.7 933.5L1523.6 954.9L1524.6 974L1525.5 990.8L1526.5 1005.1L1527.4 1016.6L1528.4 1024.8L1529.3 1028.6L1532 1024.7L1534.8 1016.2L1537.5 1004.4L1540.2 989.7L1542.9 972.5L1545.6 952.7L1548.4 930.8L1550.4 930.8L1551.3 953.3L1552.2 973.5L1553.2 991.2L1554.1 1006.2L1555.1 1018.3L1556 1027L1557 1031L1559.5 1027.3L1562 1019.3L1564.5 1008.2L1567.1 994.4L1569.6 978L1572.1 959.5L1574.6 938.7L1576.6 938.7L1577.7 960.6L1578.7 980.3L1579.7 997.5L1580.8 1012.1L1581.8 1023.9L1582.9 1032.3L1583.9 1036.2L1586.5 1032.4L1589.1 1024.2L1591.6 1012.8L1594.2 998.6L1596.8 981.8L1599.4 962.8L1601.9 941.5L1603.9 941.5L1604.9 962.6L1605.9 981.5L1606.9 998.2L1607.9 1012.3L1608.9 1023.6L1609.9 1031.7L1610.9 1035.5L1613.4 1031.8L1615.9 1023.9L1618.4 1012.9L1621 999.1L1623.5 982.9L1626 964.5L1628.5 943.9L1630.5 943.9L1631.6 965L1632.6 984L1633.7 1000.6L1634.7 1014.7L1635.7 1026L1636.8 1034.1L1637.8 1037.9L1640.4 1034.1L1642.9 1025.9L1645.4 1014.5L1647.9 1000.3L1650.5 983.6L1653 964.5L1655.5 943.2L1657.5 943.2L1658.4 965L1659.4 984.5L1660.3 1001.6L1661.3 1016.1L1662.2 1027.8L1663.2 1036.1L1664.1 1040L1666.7 1036.4L1669.2 1028.6L1671.8 1017.8L1674.4 1004.3L1677 988.4L1679.5 970.3L1682.1 950.1L1684.1 950.1L1685 970.9L1685.9 989.5L1686.8 1005.8L1687.7 1019.6L1688.6 1030.7L1689.5 1038.7L1690.4 1042.4L1692.9 1039L1695.5 1031.6L1698.1 1021.3L1700.7 1008.5L1703.2 993.4L1705.8 976.2L1708.4 957.1L1710.4 957.1L1711.4 975.7L1712.5 992.4L1713.5 1007.1L1714.5 1019.5L1715.6 1029.5L1716.6 1036.7L1717.7 1040L1720.2 1036.5L1722.8 1029L1725.4 1018.6L1728 1005.5L1730.5 990.2L1733.1 972.7L1735.7 953.2L1737.7 953.2L1738.5 972.7L1739.4 990.2L1740.2 1005.5L1741.1 1018.6L1741.9 1029L1742.7 1036.5L1743.6 1040L1746.2 1036.7L1748.7 1029.5L1751.3 1019.5L1753.9 1007.1L1756.5 992.4L1759 975.7L1761.6 957.1L1763.6 957.1L1764.6 975.4L1765.6 991.9L1766.6 1006.4L1767.6 1018.7L1768.6 1028.6L1769.6 1035.7L1770.6 1039L1773.1 1035.7L1775.7 1028.7L1778.3 1018.9L1780.8 1006.7L1783.4 992.3L1786 976L1788.6 957.7L1790.6 957.7L1791.6 977L1792.5 994.3L1793.5 1009.4L1794.5 1022.3L1795.5 1032.6L1796.5 1040L1797.5 1043.5L1800.1 1040L1802.7 1032.6L1805.2 1022.3L1807.8 1009.4L1810.4 994.3L1812.9 977L1815.5 957.7L1817.5 957.7L1818.6 976.8L1819.6 993.8L1820.6 1008.8L1821.7 1021.5L1822.7 1031.7L1823.8 1039L1824.8 1042.4L1827.3 1039.2L1829.8 1032.4L1832.2 1022.9L1834.7 1011.1L1837.2 997.2L1839.7 981.3L1842.1 963.6L1844.1 963.6L1845.1 981.9L1846.1 998.4L1847.1 1012.8L1848.1 1025L1849.1 1034.9L1850.1 1041.9L1851.1 1045.2L1853.5 1042.1L1855.9 1035.6L1858.4 1026.6L1860.8 1015.3L1863.2 1001.9L1865.6 986.8L1868.1 969.8L1870.1 969.8L1871 986.4L1872 1001.2L1873 1014.2L1874 1025.3L1875 1034.1L1876 1040.5L1877 1043.5L1879.5 1040.5L1882.1 1034.3L1884.6 1025.5L1887.1 1014.6L1889.6 1001.8L1892.1 987.2L1894.7 970.9L1896.7 970.9L1897.7 987.3L1898.7 1002.1L1899.6 1015L1900.6 1026L1901.6 1034.9L1902.6 1041.2L1903.6 1044.1L1906.2 1041.2L1908.8 1034.9L1911.3 1026L1913.9 1015L1916.5 1002.1L1919.1 987.3L1921.6 970.9L1923.6 970.9L1924.6 986.9L1925.6 1001.4L1926.6 1014L1927.6 1024.7L1928.6 1033.4L1929.6 1039.5L1930.6 1042.4L1933.1 1039.7L1935.6 1033.8L1938.1 1025.6L1940.7 1015.4L1943.2 1003.3L1945.7 989.6L1948.2 974.3L1950.2 974.3L1951.2 990.2L1952.2 1004.5L1953.2 1017L1954.2 1027.7L1955.2 1036.2L1956.2 1042.3L1957.2 1045.2L1959.8 1042.4L1962.4 1036.3L1965.1 1027.8L1967.7 1017.3L1970.3 1004.9L1972.9 990.8L1975.5 975L1977.5 975L1978.6 990.7L1979.6 1004.8L1980.7 1017.1L1981.7 1027.6L1982.8 1036L1983.8 1042L1984.8 1044.8L1987.3 1042.2L1989.7 1036.4L1992.1 1028.4L1994.5 1018.5L1997 1006.8L1999.4 993.4L2001.8 978.5L2003.8 978.5L2004.9 993.6L2006 1007.2L2007.1 1019.1L2008.2 1029.2L2009.3 1037.3L2010.4 1043.2L2011.5 1045.9L2013.8 1043.4L2016.1 1038.1L2018.4 1030.7L2020.8 1021.4L2023.1 1010.6L2025.4 998.2L2027.7 984.4L2029.7 984.4L2030.9 997.9L2032 1010.1L2033.2 1020.8L2034.3 1029.9L2035.4 1037.2L2036.6 1042.4L2037.7 1044.8L2040.2 1042.4L2042.8 1037.3L2045.3 1030.2L2047.8 1021.2L2050.3 1010.7L2052.9 998.7L2055.4 985.4L2057.4 985.4L2058.4 998.6L2059.4 1010.4L2060.4 1020.8L2061.4 1029.6L2062.3 1036.7L2063.3 1041.8L2064.3 1044.1L2066.9 1041.8L2069.5 1036.7L2072.1 1029.6L2074.6 1020.8L2077.2 1010.4L2079.8 998.6L2082.3 985.4L2084.3 985.4L2085.3 999L2086.3 1011.2L2087.3 1021.9L2088.3 1030.9L2089.3 1038.2L2090.3 1043.4L2091.3 1045.9L2093.8 1043.6L2096.3 1038.9L2098.9 1032.2L2101.4 1023.9L2103.9 1014.1L2106.4 1003L2109 990.6L2111 990.6L2111.9 1003.4L2112.9 1014.9L2113.9 1025L2114.9 1033.5L2115.9 1040.4L2116.9 1045.3L2117.9 1047.6L2120.4 1045.3L2122.9 1040.4L2125.3 1033.5L2127.8 1025L2130.3 1014.9L2132.7 1003.4L2135.2 990.6L2137.2 990.6L2138.2 1003.4L2139.1 1014.9L2140.1 1025L2141 1033.5L2141.9 1040.4L2142.9 1045.3L2143.8 1047.6L2146.5 1045.5L2149.2 1041L2151.8 1034.6L2154.5 1026.7L2157.2 1017.5L2159.9 1006.9L2162.5 995.1L2164.5 995.1L2165.6 1006.9L2166.7 1017.5L2167.8 1026.7L2168.9 1034.6L2170 1041L2171.1 1045.5L2172.2 1047.6L2174.5 1045.5L2176.9 1041L2179.3 1034.8L2181.7 1027L2184 1017.8L2186.4 1007.4L2188.8 995.8L2190.8 995.8L2192 1007.6L2193.2 1018.3L2194.4 1027.6L2195.6 1035.6L2196.7 1041.9L2197.9 1046.5L2199.1 1048.6L2201.5 1046.6L2204 1042.2L2206.4 1036L2208.8 1028.3L2211.2 1019.3L2213.7 1009L2216.1 997.5L2218.1 997.5L2219.2 1009L2220.3 1019.3L2221.4 1028.3L2222.5 1036L2223.6 1042.2L2224.6 1046.6L2225.7 1048.6L2228.2 1046.7L2230.7 1042.6L2233.2 1036.9L2235.6 1029.7L2238.1 1021.3L2240.6 1011.7L2243.1 1000.9L2245.1 1000.9L2246.1 1012L2247.2 1021.9L2248.3 1030.5L2249.4 1037.9L2250.5 1043.8L2251.6 1048L2252.7 1050L2255.3 1047.7L2257.8 1042.8L2260.4 1036L2263 1027.5L2265.6 1017.5L2268.1 1006.1L2270.7 993.3L2272.7 993.3L2273.5 997.4L2274.2 1001L2274.9 1004.2L2275.7 1006.9L2276.4 1009L2277.2 1010.6L2277.9 1011.3L2281.2 1003.2L2284.5 985.7L2287.9 961.4L2291.2 931L2294.5 895.3L2297.8 854.5L2301.1 809.1" fill="none" stroke="#3fa2da" stroke-width="4.4" stroke-linejoin="round" stroke-linecap="butt"/>
<path d="M225.8 782.9L226.2 782.7L226.5 782.2L226.9 781.5L227.3 780.7L227.6 779.7L228 778.5L228.4 777.2L228.8 780.1L229.2 782.6L229.6 784.9L230.1 786.7L230.5 788.3L230.9 789.4L231.3 789.9L231.9 792L232.5 793.9L233 795.6L233.6 797L234.2 798.2L234.7 799L235.3 799.4L235.7 799L236.2 798.2L236.6 797L237.1 795.6L237.5 793.9L238 792L238.4 789.9L238.8 789.2L239.1 787.7L239.4 785.6L239.8 783L240.1 779.9L240.5 776.5L240.8 772.6L241.3 772.4L241.8 772.1L242.3 771.6L242.8 771.1L243.3 770.4L243.8 769.6L244.3 768.8L256 768.8L256.5 770L256.9 771.1L257.4 772.1L257.8 772.9L258.3 773.6L258.7 774.1L259.1 774.3L260.2 781.7L261.2 788.3L262.3 794.1L263.3 799L264.3 803L265.4 805.8L266.4 807.1L267.6 815.7L268.9 823.3L270.1 830.1L271.3 835.8L272.6 840.3L273.8 843.6L275 845.2L276.3 850.4L277.5 855.1L278.7 859.2L280 862.7L281.2 865.5L282.5 867.5L283.7 868.5L284.8 871.6L285.9 874.4L287 876.8L288.1 878.9L289.2 880.6L290.4 881.8L291.5 882.3L292.4 880.9L293.4 877.9L294.4 873.8L295.3 868.6L296.3 862.5L297.3 855.5L298.2 847.8L300.2 847.8L303.6 865L306.9 880.5L310.2 894.1L313.5 905.7L316.8 914.9L320.1 921.6L323.4 924.7L324.5 922.9L325.5 919.1L326.6 913.8L327.6 907.2L328.6 899.4L329.7 890.5L330.7 880.6L332.7 880.6L335.5 894.6L338.2 907.1L341 918.1L343.7 927.4L346.5 934.9L349.2 940.3L351.9 942.8L353.1 940.9L354.2 936.9L355.4 931.3L356.5 924.3L357.7 916L358.8 906.6L359.9 896.1L361.9 896.1L364.5 909.7L367 921.9L369.5 932.6L372 941.7L374.6 949L377.1 954.2L379.6 956.6L380.7 954.5L381.8 950L382.9 943.6L384 935.7L385.1 926.4L386.1 915.8L387.2 903.9L389.2 903.9L391.6 917.5L393.9 929.7L396.2 940.4L398.5 949.5L400.9 956.7L403.2 962L405.5 964.4L406.8 962.3L408 957.7L409.3 951.4L410.6 943.5L411.8 934.1L413.1 923.5L414.4 911.7L416.4 911.7L418.6 924.1L420.9 935.3L423.2 945L425.5 953.3L427.8 960L430 964.8L432.3 967L433.5 964.8L434.7 960L435.9 953.3L437.2 945L438.4 935.3L439.6 924.1L440.8 911.7L442.8 911.7L445.1 924.7L447.5 936.4L449.8 946.6L452.1 955.3L454.4 962.3L456.8 967.3L459.1 969.6L460.2 967.2L461.3 962L462.4 954.9L463.5 945.9L464.5 935.4L465.6 923.4L466.7 910L468.7 910L471.2 924L473.7 936.7L476.2 947.7L478.7 957.1L481.2 964.7L483.6 970.1L486.1 972.6L487.2 970.2L488.2 964.9L489.3 957.6L490.3 948.4L491.3 937.7L492.4 925.4L493.4 911.8L495.4 911.8L497.8 925.4L500.3 937.7L502.7 948.4L505.1 957.6L507.5 964.9L510 970.2L512.4 972.6L513.5 970.1L514.6 964.8L515.7 957.4L516.8 948.2L517.9 937.3L518.9 924.9L520 911.1L522 911.1L524.4 925.1L526.8 937.6L529.2 948.6L531.5 957.9L533.9 965.4L536.3 970.8L538.7 973.3L539.8 970.7L540.9 965.2L542.1 957.5L543.2 947.9L544.4 936.6L545.5 923.7L546.6 909.4L548.6 909.4L551 924.7L553.3 938.5L555.6 950.6L558 960.9L560.3 969.1L562.6 975L564.9 977.8L566 975L567.1 968.9L568.2 960.5L569.3 949.9L570.4 937.5L571.5 923.4L572.6 907.6L574.6 907.6L577.1 923.4L579.6 937.5L582.1 949.9L584.7 960.5L587.2 968.9L589.7 975L592.2 977.8L593.3 975.1L594.3 969.4L595.4 961.5L596.4 951.6L597.4 939.9L598.5 926.6L599.5 911.8L601.5 911.8L604 926L606.4 938.7L608.8 949.9L611.2 959.4L613.7 967L616.1 972.5L618.5 975L619.6 972.3L620.8 966.4L621.9 958.2L623.1 948L624.2 935.9L625.3 922.2L626.5 906.9L628.5 906.9L630.9 922.6L633.2 936.7L635.6 949L638 959.5L640.4 967.9L642.7 973.9L645.1 976.8L646.3 973.9L647.4 967.9L648.5 959.5L649.7 949L650.8 936.7L652 922.6L653.1 906.9L655.1 906.9L657.4 922.8L659.7 937.1L661.9 949.6L664.2 960.3L666.5 968.8L668.8 974.9L671 977.8L672.2 974.7L673.3 968.1L674.5 958.8L675.6 947.3L676.7 933.7L677.9 918.3L679 901.1L681 901.1L683.4 919L685.8 935.1L688.1 949.2L690.5 961.2L692.9 970.8L695.3 977.7L697.6 980.9L698.9 978.1L700.1 972L701.4 963.5L702.6 952.9L703.8 940.4L705.1 926.2L706.3 910.4L708.3 910.4L710.6 925.7L712.9 939.4L715.2 951.4L717.4 961.7L719.7 969.9L722 975.7L724.3 978.5L725.4 975.4L726.4 968.8L727.5 959.5L728.6 948L729.7 934.4L730.8 919L731.9 901.8L733.9 901.8L736.2 919.5L738.5 935.5L740.7 949.5L743 961.3L745.3 970.9L747.6 977.7L749.8 980.9L751.1 977.7L752.3 970.8L753.6 961.2L754.8 949.2L756 935.1L757.3 919L758.5 901.1L760.5 901.1L762.8 919.2L765.1 935.5L767.3 949.8L769.6 962L771.9 971.7L774.2 978.7L776.5 981.9L777.6 978.6L778.7 971.6L779.9 961.7L781 949.4L782.2 934.9L783.3 918.4L784.4 900L786.4 900L788.8 919.4L791.1 936.7L793.4 951.9L795.8 964.8L798.1 975.2L800.4 982.6L802.8 986.1L804.1 982.8L805.3 975.9L806.6 966.3L807.9 954.2L809.2 940.1L810.5 923.9L811.8 905.9L813.8 905.9L816.1 924.7L818.4 941.5L820.8 956.3L823.1 968.9L825.4 979L827.7 986.2L830.1 989.5L831.3 986L832.5 978.4L833.8 967.8L835 954.7L836.3 939.2L837.5 921.5L838.7 901.8L840.7 901.8L843 920.9L845.2 938.1L847.4 953.2L849.7 966L851.9 976.3L854.1 983.7L856.3 987.1L857.5 983.6L858.7 976.2L859.9 965.8L861.1 952.8L862.3 937.5L863.5 920.1L864.7 900.7L866.7 900.7L869 920.5L871.4 938.3L873.8 953.8L876.2 967.1L878.5 977.7L880.9 985.3L883.3 988.8L884.4 985.3L885.5 977.8L886.6 967.3L887.7 954.3L888.8 938.9L889.8 921.3L890.9 901.8L892.9 901.8L895.4 921.9L897.8 940L900.2 955.9L902.6 969.4L905.1 980.2L907.5 988L909.9 991.6L911 987.8L912.1 979.8L913.2 968.6L914.3 954.5L915.4 938.1L916.5 919.3L917.5 898.3L919.5 898.3L922 920.2L924.5 939.8L927 957L929.4 971.7L931.9 983.4L934.4 991.8L936.9 995.8L937.9 991.9L939 983.5L940 971.8L941 957.3L942.1 940.2L943.1 920.7L944.2 899L946.2 899L948.7 921.1L951.2 941L953.7 958.4L956.3 973.2L958.8 985L961.3 993.5L963.8 997.5L964.8 993.8L965.8 985.8L966.8 974.7L967.8 960.8L968.8 944.5L969.8 925.9L970.8 905.2L972.8 905.2L975.2 925.4L977.7 943.5L980.2 959.4L982.7 972.9L985.1 983.7L987.6 991.4L990.1 995.1L991.2 991.5L992.3 983.9L993.4 973.3L994.5 960.1L995.5 944.5L996.6 926.7L997.7 906.9L999.7 906.9L1002.2 927.1L1004.7 945.2L1007.2 961.1L1009.6 974.6L1012.1 985.4L1014.6 993.2L1017.1 996.8L1018.1 992.9L1019.1 984.5L1020.2 972.8L1021.2 958.2L1022.3 941.1L1023.3 921.5L1024.3 899.7L1026.3 899.7L1028.9 922L1031.5 942.1L1034.1 959.7L1036.6 974.6L1039.2 986.6L1041.8 995.2L1044.4 999.2L1045.4 995.3L1046.4 987.1L1047.5 975.5L1048.5 961.1L1049.6 944.1L1050.6 924.7L1051.6 903.1L1053.6 903.1L1056.1 923.9L1058.5 942.6L1060.9 959L1063.3 972.9L1065.8 984L1068.2 992L1070.6 995.8L1071.6 991.7L1072.6 983.1L1073.6 971L1074.6 956L1075.6 938.2L1076.6 918L1077.6 895.5L1079.6 895.5L1082 919.2L1084.5 940.4L1087 959.1L1089.5 974.9L1091.9 987.6L1094.4 996.7L1096.9 1000.9L1097.9 996.9L1099 988.3L1100 976.2L1101.1 961.1L1102.1 943.4L1103.1 923.2L1104.2 900.7L1106.2 900.7L1108.7 923.5L1111.1 943.9L1113.6 961.8L1116.1 977L1118.6 989.2L1121 997.9L1123.5 1002L1124.5 997.8L1125.6 988.7L1126.6 976.1L1127.7 960.4L1128.7 941.9L1129.8 920.8L1130.8 897.3L1132.8 897.3L1135.3 921.2L1137.7 942.6L1140.2 961.4L1142.7 977.4L1145.2 990.2L1147.6 999.4L1150.1 1003.7L1151.2 999.5L1152.3 990.4L1153.4 977.7L1154.5 961.8L1155.6 943.2L1156.7 922L1157.8 898.3L1159.8 898.3L1162.2 922.3L1164.7 943.8L1167.2 962.7L1169.7 978.7L1172.1 991.6L1174.6 1000.8L1177.1 1005.1L1178.1 1000.8L1179.2 991.7L1180.2 978.9L1181.2 962.9L1182.3 944.2L1183.3 922.8L1184.4 899L1186.4 899L1188.8 922.7L1191.3 943.9L1193.8 962.5L1196.3 978.4L1198.7 991.1L1201.2 1000.1L1203.7 1004.4L1204.8 1000.2L1205.9 991.2L1207 978.6L1208.1 962.9L1209.1 944.5L1210.2 923.5L1211.3 900L1213.3 900L1215.8 924L1218.3 945.5L1220.7 964.4L1223.2 980.4L1225.7 993.3L1228.2 1002.5L1230.6 1006.8L1231.7 1003L1232.8 994.8L1233.9 983.3L1235 969.1L1236.1 952.3L1237.2 933.1L1238.3 911.8L1240.3 911.8L1244.6 961.5L1249 1006L1253.3 1045.1L1257.7 1078.3L1262 1105L1266.4 1124.1L1270.7 1133L1277.9 1125.9L1285.1 1110.8L1292.2 1089.7L1299.4 1063.4L1306.6 1032.4L1313.7 997.1L1320.9 957.7L1322.9 957.7L1324 985.5L1325.1 1010.5L1326.2 1032.3L1327.3 1050.9L1328.3 1065.8L1329.4 1076.5L1330.5 1081.5L1334 1075.7L1337.5 1063.3L1340.9 1045.9L1344.4 1024.4L1347.8 999L1351.3 970L1354.8 937.7L1356.8 937.7L1357.8 963.4L1358.8 986.4L1359.9 1006.7L1360.9 1023.8L1362 1037.6L1363 1047.5L1364.1 1052.1L1367.2 1047L1370.3 1036.2L1373.4 1021.1L1376.5 1002.3L1379.7 980.1L1382.8 954.8L1385.9 926.6L1387.9 926.6L1388.9 952.1L1389.9 974.9L1390.9 995L1391.9 1012L1392.9 1025.7L1393.9 1035.4L1394.9 1040L1397.5 1035.5L1400.2 1025.8L1402.9 1012.2L1405.5 995.4L1408.2 975.5L1410.9 952.9L1413.6 927.7L1415.6 927.7L1416.4 951.1L1417.3 972.1L1418.1 990.6L1418.9 1006.3L1419.8 1018.8L1420.6 1027.8L1421.5 1032.1L1424.4 1027.4L1427.3 1017.5L1430.2 1003.7L1433.1 986.5L1436.1 966.2L1439 943.1L1441.9 917.3L1443.9 917.3L1444.9 942.3L1445.9 964.7L1446.9 984.4L1447.9 1001.1L1448.9 1014.5L1449.9 1024.1L1450.9 1028.6L1453.3 1024.3L1455.8 1015.2L1458.3 1002.4L1460.7 986.5L1463.2 967.7L1465.7 946.3L1468.2 922.5L1470.2 922.5L1471 947.1L1471.9 969.2L1472.7 988.5L1473.5 1005L1474.4 1018.2L1475.2 1027.6L1476.1 1032.1L1478.9 1027.8L1481.6 1018.8L1484.4 1006.3L1487.2 990.6L1489.9 972.1L1492.7 951.1L1495.5 927.7L1497.5 927.7L1498.3 950.3L1499.2 970.7L1500 988.5L1500.9 1003.7L1501.7 1015.8L1502.5 1024.5L1503.4 1028.6L1505.9 1024.8L1508.3 1016.6L1510.8 1005.1L1513.3 990.8L1515.8 974L1518.2 954.9L1520.7 933.5L1522.7 933.5L1523.6 954.9L1524.6 974L1525.5 990.8L1526.5 1005.1L1527.4 1016.6L1528.4 1024.8L1529.3 1028.6L1532 1024.7L1534.8 1016.2L1537.5 1004.4L1540.2 989.7L1542.9 972.5L1545.6 952.7L1548.4 930.8L1550.4 930.8L1551.3 953.3L1552.2 973.5L1553.2 991.2L1554.1 1006.2L1555.1 1018.3L1556 1027L1557 1031L1559.5 1027.3L1562 1019.3L1564.5 1008.2L1567.1 994.4L1569.6 978L1572.1 959.5L1574.6 938.7L1576.6 938.7L1577.7 960.6L1578.7 980.3L1579.7 997.5L1580.8 1012.1L1581.8 1023.9L1582.9 1032.3L1583.9 1036.2L1586.5 1032.4L1589.1 1024.2L1591.6 1012.8L1594.2 998.6L1596.8 981.8L1599.4 962.8L1601.9 941.5L1603.9 941.5L1604.9 962.6L1605.9 981.5L1606.9 998.2L1607.9 1012.3L1608.9 1023.6L1609.9 1031.7L1610.9 1035.5L1613.4 1031.8L1615.9 1023.9L1618.4 1012.9L1621 999.1L1623.5 982.9L1626 964.5L1628.5 943.9L1630.5 943.9L1631.6 965L1632.6 984L1633.7 1000.6L1634.7 1014.7L1635.7 1026L1636.8 1034.1L1637.8 1037.9L1640.4 1034.1L1642.9 1025.9L1645.4 1014.5L1647.9 1000.3L1650.5 983.6L1653 964.5L1655.5 943.2L1657.5 943.2L1658.4 965L1659.4 984.5L1660.3 1001.6L1661.3 1016.1L1662.2 1027.8L1663.2 1036.1L1664.1 1040L1666.7 1036.4L1669.2 1028.6L1671.8 1017.8L1674.4 1004.3L1677 988.4L1679.5 970.3L1682.1 950.1L1684.1 950.1L1685 970.9L1685.9 989.5L1686.8 1005.8L1687.7 1019.6L1688.6 1030.7L1689.5 1038.7L1690.4 1042.4L1692.9 1039L1695.5 1031.6L1698.1 1021.3L1700.7 1008.5L1703.2 993.4L1705.8 976.2L1708.4 957.1L1710.4 957.1L1711.4 975.7L1712.5 992.4L1713.5 1007.1L1714.5 1019.5L1715.6 1029.5L1716.6 1036.7L1717.7 1040L1720.2 1036.5L1722.8 1029L1725.4 1018.6L1728 1005.5L1730.5 990.2L1733.1 972.7L1735.7 953.2L1737.7 953.2L1738.5 972.7L1739.4 990.2L1740.2 1005.5L1741.1 1018.6L1741.9 1029L1742.7 1036.5L1743.6 1040L1746.2 1036.7L1748.7 1029.5L1751.3 1019.5L1753.9 1007.1L1756.5 992.4L1759 975.7L1761.6 957.1L1763.6 957.1L1764.6 975.4L1765.6 991.9L1766.6 1006.4L1767.6 1018.7L1768.6 1028.6L1769.6 1035.7L1770.6 1039L1773.1 1035.7L1775.7 1028.7L1778.3 1018.9L1780.8 1006.7L1783.4 992.3L1786 976L1788.6 957.7L1790.6 957.7L1791.6 977L1792.5 994.3L1793.5 1009.4L1794.5 1022.3L1795.5 1032.6L1796.5 1040L1797.5 1043.5L1800.1 1040L1802.7 1032.6L1805.2 1022.3L1807.8 1009.4L1810.4 994.3L1812.9 977L1815.5 957.7L1817.5 957.7L1818.6 976.8L1819.6 993.8L1820.6 1008.8L1821.7 1021.5L1822.7 1031.7L1823.8 1039L1824.8 1042.4L1827.3 1039.2L1829.8 1032.4L1832.2 1022.9L1834.7 1011.1L1837.2 997.2L1839.7 981.3L1842.1 963.6L1844.1 963.6L1845.1 981.9L1846.1 998.4L1847.1 1012.8L1848.1 1025L1849.1 1034.9L1850.1 1041.9L1851.1 1045.2L1853.5 1042.1L1855.9 1035.6L1858.4 1026.6L1860.8 1015.3L1863.2 1001.9L1865.6 986.8L1868.1 969.8L1870.1 969.8L1871 986.4L1872 1001.2L1873 1014.2L1874 1025.3L1875 1034.1L1876 1040.5L1877 1043.5L1879.5 1040.5L1882.1 1034.3L1884.6 1025.5L1887.1 1014.6L1889.6 1001.8L1892.1 987.2L1894.7 970.9L1896.7 970.9L1897.7 987.3L1898.7 1002.1L1899.6 1015L1900.6 1026L1901.6 1034.9L1902.6 1041.2L1903.6 1044.1L1906.2 1041.2L1908.8 1034.9L1911.3 1026L1913.9 1015L1916.5 1002.1L1919.1 987.3L1921.6 970.9L1923.6 970.9L1924.6 986.9L1925.6 1001.4L1926.6 1014L1927.6 1024.7L1928.6 1033.4L1929.6 1039.5L1930.6 1042.4L1933.1 1039.7L1935.6 1033.8L1938.1 1025.6L1940.7 1015.4L1943.2 1003.3L1945.7 989.6L1948.2 974.3L1950.2 974.3L1951.2 990.2L1952.2 1004.5L1953.2 1017L1954.2 1027.7L1955.2 1036.2L1956.2 1042.3L1957.2 1045.2L1959.8 1042.4L1962.4 1036.3L1965.1 1027.8L1967.7 1017.3L1970.3 1004.9L1972.9 990.8L1975.5 975L1977.5 975L1978.6 990.7L1979.6 1004.8L1980.7 1017.1L1981.7 1027.6L1982.8 1036L1983.8 1042L1984.8 1044.8L1987.3 1042.2L1989.7 1036.4L1992.1 1028.4L1994.5 1018.5L1997 1006.8L1999.4 993.4L2001.8 978.5L2003.8 978.5L2004.9 993.6L2006 1007.2L2007.1 1019.1L2008.2 1029.2L2009.3 1037.3L2010.4 1043.2L2011.5 1045.9L2013.8 1043.4L2016.1 1038.1L2018.4 1030.7L2020.8 1021.4L2023.1 1010.6L2025.4 998.2L2027.7 984.4L2029.7 984.4L2030.9 997.9L2032 1010.1L2033.2 1020.8L2034.3 1029.9L2035.4 1037.2L2036.6 1042.4L2037.7 1044.8L2040.2 1042.4L2042.8 1037.3L2045.3 1030.2L2047.8 1021.2L2050.3 1010.7L2052.9 998.7L2055.4 985.4L2057.4 985.4L2058.4 998.6L2059.4 1010.4L2060.4 1020.8L2061.4 1029.6L2062.3 1036.7L2063.3 1041.8L2064.3 1044.1L2066.9 1041.8L2069.5 1036.7L2072.1 1029.6L2074.6 1020.8L2077.2 1010.4L2079.8 998.6L2082.3 985.4L2084.3 985.4L2085.3 999L2086.3 1011.2L2087.3 1021.9L2088.3 1030.9L2089.3 1038.2L2090.3 1043.4L2091.3 1045.9L2093.8 1043.6L2096.3 1038.9L2098.9 1032.2L2101.4 1023.9L2103.9 1014.1L2106.4 1003L2109 990.6L2111 990.6L2111.9 1003.4L2112.9 1014.9L2113.9 1025L2114.9 1033.5L2115.9 1040.4L2116.9 1045.3L2117.9 1047.6L2120.4 1045.3L2122.9 1040.4L2125.3 1033.5L2127.8 1025L2130.3 1014.9L2132.7 1003.4L2135.2 990.6L2137.2 990.6L2138.2 1003.4L2139.1 1014.9L2140.1 1025L2141 1033.5L2141.9 1040.4L2142.9 1045.3L2143.8 1047.6L2146.5 1045.5L2149.2 1041L2151.8 1034.6L2154.5 1026.7L2157.2 1017.5L2159.9 1006.9L2162.5 995.1L2164.5 995.1L2165.6 1006.9L2166.7 1017.5L2167.8 1026.7L2168.9 1034.6L2170 1041L2171.1 1045.5L2172.2 1047.6L2174.5 1045.5L2176.9 1041L2179.3 1034.8L2181.7 1027L2184 1017.8L2186.4 1007.4L2188.8 995.8L2190.8 995.8L2192 1007.6L2193.2 1018.3L2194.4 1027.6L2195.6 1035.6L2196.7 1041.9L2197.9 1046.5L2199.1 1048.6L2201.5 1046.6L2204 1042.2L2206.4 1036L2208.8 1028.3L2211.2 1019.3L2213.7 1009L2216.1 997.5L2218.1 997.5L2219.2 1009L2220.3 1019.3L2221.4 1028.3L2222.5 1036L2223.6 1042.2L2224.6 1046.6L2225.7 1048.6L2228.2 1046.7L2230.7 1042.6L2233.2 1036.9L2235.6 1029.7L2238.1 1021.3L2240.6 1011.7L2243.1 1000.9L2245.1 1000.9L2246.1 1012L2247.2 1021.9L2248.3 1030.5L2249.4 1037.9L2250.5 1043.8L2251.6 1048L2252.7 1050L2255.3 1047.7L2257.8 1042.8L2260.4 1036L2263 1027.5L2265.6 1017.5L2268.1 1006.1L2270.7 993.3L2272.7 993.3L2273.5 997.4L2274.2 1001L2274.9 1004.2L2275.7 1006.9L2276.4 1009L2277.2 1010.6L2277.9 1011.3L2281.2 1003.2L2284.5 985.7L2287.9 961.4L2291.2 931L2294.5 895.3L2297.8 854.5L2301.1 809.1" fill="none" stroke="#0072bd" stroke-width="3.0" stroke-linejoin="round" stroke-linecap="butt"/>
</g>
<text class="tk" transform="scale(0.95 1)"><tspan x="381.9" y="1277.5">1</tspan></text>
<text class="tk" transform="scale(0.95 1)"><tspan x="601.3" y="1277.5">2</tspan></text>
<text class="tk" transform="scale(0.95 1)"><tspan x="820.2" y="1277.5">3</tspan></text>
<text class="tk" transform="scale(0.95 1)"><tspan x="1039.6" y="1277.5">4</tspan></text>
<text class="tk" transform="scale(0.95 1)"><tspan x="1256.3" y="1277.5">5</tspan></text>
<text class="tk" transform="scale(0.95 1)"><tspan x="1475.4" y="1277.5">6</tspan></text>
<text class="tk" transform="scale(0.95 1)"><tspan x="1694.3" y="1277.5">7</tspan></text>
<text class="tk" transform="scale(0.95 1)"><tspan x="1914.2" y="1277.5">8</tspan></text>
<text class="tk" transform="scale(0.95 1)"><tspan x="2133" y="1277.5">9</tspan></text>
<text class="tk" transform="scale(0.95 1)"><tspan x="2335.9" y="1277.5" style="letter-spacing:-1.3px">10</tspan></text>
<text class="tk" transform="scale(0.95 1)"><tspan x="181" y="840.1">2</tspan></text>
<text class="tk" transform="scale(0.95 1)"><tspan x="181" y="991">0</tspan></text>
<text class="tk" transform="scale(0.95 1)"><tspan x="132" y="1151.4" style="font-size:82px">−</tspan><tspan x="181" y="1139.6">2</tspan></text>
<text class="lb" x="1263.5" y="1372.8" text-anchor="middle">Time [s]</text>
<text class="tk" transform="scale(0.95 1)"><tspan x="2241.3" y="1367.8" style="font-size:81px">×</tspan><tspan x="2292.8" y="1355.3" style="letter-spacing:-1.3px">10</tspan><tspan x="2359.6" y="1338.8" style="font-size:55px">−</tspan><tspan x="2395.8" y="1334.5" style="font-size:46px">5</tspan></text>
<text class="lb" transform="translate(93 973.3) rotate(-90)" text-anchor="middle">[V]</text>
</g>
<g id="plot3">
<path d="M230.1 1461H2301.8V1906.6H230.1ZM381 1906.6v-21M381 1461v21M589.5 1906.6v-21M589.5 1461v21M797.4 1906.6v-21M797.4 1461v21M1005.9 1906.6v-21M1005.9 1461v21M1211.7 1906.6v-21M1211.7 1461v21M1419.9 1906.6v-21M1419.9 1461v21M1627.8 1906.6v-21M1627.8 1461v21M1836.7 1906.6v-21M1836.7 1461v21M2044.6 1906.6v-21M2044.6 1461v21M2250.4 1906.6v-21M2250.4 1461v21M230.1 1683.8h21M2301.8 1683.8h-21" fill="none" stroke="#b2b2b2" stroke-width="7.9" stroke-linecap="butt" stroke-linejoin="miter"/>
<path d="M230.1 1461H2301.8V1906.6H230.1ZM381 1906.6v-21M381 1461v21M589.5 1906.6v-21M589.5 1461v21M797.4 1906.6v-21M797.4 1461v21M1005.9 1906.6v-21M1005.9 1461v21M1211.7 1906.6v-21M1211.7 1461v21M1419.9 1906.6v-21M1419.9 1461v21M1627.8 1906.6v-21M1627.8 1461v21M1836.7 1906.6v-21M1836.7 1461v21M2044.6 1906.6v-21M2044.6 1461v21M2250.4 1906.6v-21M2250.4 1461v21M230.1 1683.8h21M2301.8 1683.8h-21" fill="none" stroke="#242424" stroke-width="2.9" stroke-linecap="butt" stroke-linejoin="miter"/>
<text class="ti" x="935.2" y="1562.2">Time signal at 60 cm</text>
<g clip-path="url(#c3)"><path d="M253.4 1454.6L255.2 1461.2L256.9 1467.2L258.6 1471.8L260.2 1467.2L261.7 1461.2L263.3 1454.6M274.2 1454.6L275.5 1463.2L276.8 1471L278.2 1477L278.8 1489.7L279.5 1501.1L280.2 1509.9L281.3 1523.5L282.3 1535.8L283.3 1545.3L284.9 1541.4L286.5 1536.3L288 1530.6L289.7 1526.9L291.5 1522.1L293.2 1516.8L294.3 1526.1L295.5 1534.5L296.6 1541L298.1 1560.3L299.5 1577.7L301 1591.1L303 1582.1L305 1570.4L307 1557.4L308.7 1585L310.5 1609.9L312.2 1629.1M320.8 1576.4L322.6 1603L324.3 1627L326 1645.5L328.6 1630.7L331.2 1611.5L333.8 1590.2L335.5 1616.8L337.3 1640.8L339 1659.3L341 1646.4L343 1629.6L345 1611L346.2 1637.3L347.3 1661L348.5 1679.2M357.1 1608.4L358.9 1632L360.6 1653.3L362.3 1669.7L364.6 1655.6L366.9 1637.3L369.2 1617L371 1640.3L372.7 1661.3L374.4 1677.5L376.1 1664.3L377.9 1647.2L379.6 1628.2L381 1652.5L382.5 1674.4L383.9 1691.3L386.5 1674.2L389.1 1652L391.7 1627.4L393.1 1650L394.6 1670.4L396 1686.1L398 1672L400 1653.7L402.1 1633.4L403.8 1655.1L405.5 1674.6L407.2 1689.6L409 1675.9L410.7 1658.2L412.4 1638.6L414.2 1663.6L415.9 1686.1L417.6 1703.4L419.6 1685.4L421.6 1662L423.7 1636L425.1 1662.6L426.5 1686.6L428 1705.1L430 1688.7L432 1667.4L434 1643.8L435.5 1669.4L436.9 1692.5L438.4 1710.3L440.9 1689.1L443.5 1661.5L446.1 1630.8L447.6 1656.5L449 1679.6L450.4 1697.4L452.5 1680L454.5 1657.5L456.5 1632.6L457.9 1659.2L459.4 1683.2L460.8 1701.7L463.1 1682.5L465.4 1657.6L467.7 1630L469.7 1654.9L471.8 1677.4L473.8 1694.8L475.5 1677.4L477.2 1654.9L479 1630L480.8 1654.5L482.6 1676.6L484.4 1693.7L486.7 1678.4L489 1658.6L491.3 1636.6L492.8 1656.3L494.3 1674.1L495.8 1687.8L498.1 1672.5L500.4 1652.7L502.7 1630.8L504.1 1655L505.5 1676.8L506.9 1693.7L508.9 1677.7L511 1656.9L513.1 1633.9L514.7 1658.6L516.3 1681L517.9 1698.2L519.8 1682.4L521.6 1662L523.5 1639.4L524.8 1665L526.2 1688L527.6 1705.8L529.7 1687.1L531.8 1662.8L533.8 1635.9L535.4 1658.4L537.1 1678.7L538.7 1694.4L540.7 1677.3L542.8 1655.3L544.9 1630.8L546.6 1655L548.3 1676.8L550.1 1693.7L551.8 1678.4L553.5 1658.6L555.3 1636.6L557 1660.3L558.7 1681.7L560.4 1698.2L562.5 1681L564.6 1658.6L566.7 1633.9L568.4 1658.6L570.1 1681L571.8 1698.2L573.8 1681.7L575.8 1660.3L577.7 1636.6L579.1 1663.7L580.5 1688L581.9 1706.8L584.3 1685.5L586.7 1657.9L589.1 1627.3L590.7 1651.5L592.4 1673.4L594 1690.2L595.7 1674.3L597.4 1653.7L599.1 1630.8L600.9 1656.7L602.6 1680.1L604.3 1698.2L606.2 1681L608 1658.9L609.9 1634.2L611.6 1659.8L613.3 1682.8L615 1700.6L617.4 1683.2L619.7 1660.6L622 1635.6L623.6 1656.4L625.2 1675.1L626.8 1689.5L628.9 1674.3L630.9 1654.5L633 1632.5L634.5 1657L636 1679.1L637.5 1696.1L639.5 1679.7L641.4 1658.5L643.4 1634.9L645.1 1658.2L646.8 1679.2L648.6 1695.4L650.3 1681.2L652 1662.9L653.8 1642.5L655.1 1668.2L656.5 1691.4L657.9 1709.2L660.6 1688.2L663.2 1661L665.9 1630.8L667.2 1653.4L668.6 1673.8L670 1689.5L672.4 1673.3L674.8 1652.3L677.3 1629L678.4 1655.7L679.6 1679.7L680.7 1698.2L682.9 1681L685.1 1658.6L687.3 1633.9L688.5 1659.6L689.8 1682.7L691.1 1700.6L693.6 1681.3L696.2 1656.4L698.7 1628.7L700.1 1651.1L701.5 1671.2L702.8 1686.8L705.1 1671.2L707.4 1651.1L709.7 1628.7L711.5 1655.1L713.2 1678.8L714.9 1697.1L716.7 1680.2L718.4 1658.2L720.1 1633.9L721.8 1658.2L723.6 1680.2L725.3 1697.1L727.4 1681.7L729.4 1661.6L731.5 1639.4L732.7 1666.6L733.8 1691L735 1709.9L737.6 1690.5L740.3 1665.3L742.9 1637.3L744.5 1658.1L746.2 1676.8L747.8 1691.2L749.3 1679.6L750.8 1664.5L752.3 1647.7L753.4 1677.7L754.6 1704.7L755.7 1725.5L758.4 1698.7L761 1664.1L763.7 1625.6L765.3 1656.9L766.9 1685.1L768.5 1706.8L770.9 1684.3L773.3 1655.2L775.8 1622.8L777.4 1647.8L779 1670.4L780.6 1687.8L782.4 1671.8L784.3 1651L786.1 1628L787.7 1655.3L789.4 1679.9L791 1698.8L792.8 1680.1L794.7 1655.7L796.5 1628.7L798.1 1658.1L799.7 1684.6L801.3 1705.1L802.6 1692.1L803.9 1675.3L805.1 1656.7L806.8 1686.6L808.4 1713.6L810 1734.4L812.6 1704.9L815.3 1666.5L817.9 1623.8L819.8 1650.1L821.6 1673.7L823.5 1691.9L825.5 1674.2L827.4 1651.1L829.4 1625.6L831.1 1653.4L832.8 1678.5L834.6 1697.8L836.6 1677.7L838.7 1651.7L840.8 1622.8L842.2 1653L843.5 1680.3L844.9 1701.3L847.2 1682.8L849.5 1658.8L851.8 1632.1L853.2 1656.8L854.6 1679L856 1696.1L858.4 1678.5L860.8 1655.7L863.2 1630.4L864.9 1656.4L866.5 1679.8L868.1 1697.8L869.8 1681.9L871.5 1661.3L873.3 1638.4L874.8 1663.4L876.3 1686L877.8 1703.3L880.1 1684.1L882.4 1659.1L884.7 1631.5L886.1 1662.7L887.4 1690.9L888.8 1712.7L891.5 1690.2L894.1 1661L896.8 1628.7L898.3 1653.7L899.8 1676.3L901.3 1693.7L902.4 1680.7L903.6 1663.9L904.7 1645.3L906.5 1676.2L908.2 1704L909.9 1725.5L912.4 1700.8L915 1668.7L917.5 1633.2L918.9 1661.4L920.3 1686.8L921.7 1706.5L924 1686.2L926.3 1659.9L928.6 1630.8L929.8 1665.2L931.1 1696.3L932.4 1720.3L934.9 1696.2L937.4 1665L940 1630.4L941.7 1657.7L943.4 1682.3L945.2 1701.3L947.1 1683.3L949.1 1660L951 1634.2L952.5 1660.7L954 1684.6L955.5 1703L957.8 1684.6L960.1 1660.7L962.4 1634.2L964.2 1658.5L965.9 1680.3L967.6 1697.1L969.6 1680.2L971.5 1658.2L973.5 1633.9L975 1661.8L976.5 1687L978 1706.5L980 1687.8L981.9 1663.5L983.9 1636.6L985.4 1666.9L986.9 1694.1L988.4 1715.1L990.3 1694.8L992.3 1668.6L994.2 1639.4L996 1665.2L997.7 1688.5L999.4 1706.5L1001.8 1688.9L1004.3 1666.1L1006.7 1640.8L1008.1 1665.2L1009.4 1687.1L1010.8 1704L1012.9 1686.7L1015 1664.3L1017.1 1639.4L1018.4 1670.3L1019.8 1698.1L1021.2 1719.6L1023.5 1697.7L1025.8 1669.2L1028.1 1637.7L1029.5 1666.8L1030.9 1693.1L1032.3 1713.4L1034.7 1693.6L1037.1 1667.9L1039.5 1639.4L1041.1 1666L1042.7 1690L1044.4 1708.5L1045.9 1692.5L1047.4 1671.8L1048.8 1648.7L1050.8 1676.3L1052.8 1701.1L1054.7 1720.3L1057 1698.8L1059.3 1671L1061.6 1640.1L1062.8 1672L1063.9 1700.8L1065.1 1723L1067.7 1700.2L1070.4 1670.6L1073 1637.7L1074.2 1662.3L1075.3 1684.5L1076.5 1701.6L1078.8 1684.7L1081.1 1662.7L1083.4 1638.4L1084.9 1669L1086.4 1696.6L1087.9 1717.9L1089.3 1703.5L1090.7 1684.9L1092.1 1664.3L1093.4 1698.9L1094.8 1730.1L1096.2 1754.1L1098.8 1720.6L1101.5 1677L1104.1 1628.7L1105.9 1664L1107.6 1695.8L1109.3 1720.3L1111.6 1696L1113.9 1664.6L1116.2 1629.7L1118 1659.3L1119.7 1685.9L1121.4 1706.5L1123.2 1686.6L1124.9 1660.8L1126.6 1632.1L1128.3 1666.8L1130.1 1698L1131.8 1722L1133.8 1699.9L1135.7 1671.2L1137.7 1639.4L1139.2 1666.3L1140.7 1690.5L1142.2 1709.2L1144.8 1690.7L1147.5 1666.7L1150.1 1640.1L1151.3 1666.7L1152.4 1690.7L1153.6 1709.2L1156.1 1690.3L1158.6 1665.7L1161.2 1638.4L1162.3 1665.4L1163.5 1689.8L1164.6 1708.5L1166.9 1692.1L1169.2 1670.7L1171.5 1647L1172.9 1677L1174.3 1704L1175.7 1724.8L1177.8 1701.9L1179.8 1672.3L1181.9 1639.4L1183 1677.5L1184.1 1711.8L1185.2 1738.2M1193.8 1628.5L1195 1658.8L1196.1 1686.1L1197.3 1707.1L1199.8 1688.2L1202.2 1663.6L1204.7 1636.3L1206 1661.3L1207.2 1683.8L1208.5 1701.1L1210.8 1683.8L1213.1 1661.3L1215.4 1636.3L1216.6 1670.6L1217.7 1701.5L1218.9 1725.3L1221.5 1700.8L1224.1 1669L1226.7 1633.7L1228.4 1666L1230.1 1695.1L1231.8 1717.5L1233.7 1699.7L1235.5 1676.6L1237.4 1651L1238.4 1677.9L1239.4 1702.2L1240.5 1721L1241.3 1734.3L1242.2 1746.3L1243.1 1755.5L1245.4 1751.4L1247.7 1746L1250 1740L1251.5 1746.6L1253.1 1752.6L1254.7 1757.3L1255.4 1783.2L1256.2 1806.6L1256.9 1824.7L1257.8 1852.9L1258.6 1878.4L1259.5 1898.1L1261.2 1892.3L1262.9 1884.8L1264.7 1876.5L1266.7 1874L1268.7 1870.7L1270.7 1867L1272.7 1868.7L1274.8 1870.2L1276.8 1871.3L1279.1 1872.6L1281.4 1873.8L1283.7 1874.8M1301.8 1901.6L1302.7 1881L1303.6 1854.3L1304.4 1824.7L1305.3 1803.4L1306.2 1775.8L1307 1745.2L1308.5 1749.2L1309.9 1752.8L1311.3 1755.5M1320.3 1824.7L1322.2 1789L1324.1 1742.9L1326 1691.6L1327.2 1698.9L1328.3 1705.5L1329.5 1710.6M1339.3 1814.3L1340.7 1778.7L1342 1732.5L1343.3 1681.2L1346 1716.8L1348.7 1748.9L1351.4 1773.7L1353 1741.1L1354.7 1698.8L1356.3 1651.8M1366.3 1776.3L1367.6 1743.7L1368.8 1701.4L1370.1 1654.4M1378.7 1763.3L1380.3 1731.4L1382 1690L1383.6 1644.1L1386.1 1688L1388.6 1727.6L1391.2 1758.1L1392.6 1727.6L1394.1 1688L1395.5 1644.1L1398.3 1682.7L1401 1717.5L1403.8 1744.3L1405.2 1717.8L1406.7 1683.4L1408.1 1645.3L1409.8 1677.4L1411.6 1706.4L1413.3 1728.7L1415 1701.9L1416.8 1667.1L1418.5 1628.5L1420.3 1663.5L1422.2 1695L1424 1719.2L1425.7 1694.7L1427.5 1662.9L1429.2 1627.6L1431.8 1669.6L1434.4 1707.4L1437 1736.5L1438.3 1708.3L1439.6 1671.7L1440.9 1631.1L1443.1 1666.4L1445.3 1698.2L1447.5 1722.7L1448.8 1696L1450 1661.4L1451.3 1623L1453.7 1662.7L1456.2 1698.5L1458.6 1726.2L1460.5 1702.8L1462.4 1672.5L1464.3 1638.9L1466.3 1673.5L1468.3 1704.7L1470.3 1728.7L1471.8 1702.6L1473.2 1668.7L1474.6 1631.1L1476.4 1666.7L1478.2 1698.8L1480 1723.6L1481.8 1697.3L1483.6 1663.3L1485.4 1625.6L1487.7 1666.1L1490 1702.5L1492.3 1730.6L1493.7 1706.4L1495.1 1675L1496.5 1640.1L1498.5 1673.8L1500.6 1704.1L1502.7 1727.5L1504.4 1701.4L1506.2 1667.4L1507.9 1629.7L1510 1665L1512 1696.8L1514.1 1721.3L1515.5 1696.3L1516.9 1663.9L1518.2 1628L1520.8 1665.7L1523.3 1699.6L1525.9 1725.8L1527 1704.7L1528.2 1677.4L1529.3 1647L1531.6 1679.2L1533.9 1708.3L1536.2 1730.6L1537.4 1706.2L1538.5 1674.6L1539.7 1639.4L1542.3 1672.3L1545 1701.9L1547.6 1724.8L1548.8 1700.1L1549.9 1668L1551.1 1632.5L1553.6 1669.4L1556.2 1702.6L1558.7 1728.2L1560.2 1706.3L1561.7 1677.9L1563.2 1646.3L1565.3 1682.1L1567.3 1714.4L1569.4 1739.3L1570.8 1714.6L1572.2 1682.6L1573.5 1647L1575.9 1677.6L1578.2 1705.2L1580.5 1726.5L1581.6 1703.2L1582.8 1673L1583.9 1639.4L1586.2 1672.3L1588.5 1701.9L1590.8 1724.8L1592 1701.9L1593.1 1672.3L1594.3 1639.4L1596.9 1676.7L1599.6 1710.3L1602.2 1736.2L1603.6 1714.3L1605 1686L1606.4 1654.6L1608.7 1685L1611 1712.3L1613.3 1733.4L1614.8 1710.3L1616.3 1680.3L1617.8 1647L1620 1679.9L1622.2 1709.5L1624.4 1732.4L1625.6 1709.1L1626.9 1678.8L1628.2 1645.3L1630.7 1687.6L1633.2 1725.8L1635.8 1755.2L1637.1 1732L1638.5 1701.9L1639.9 1668.4L1641.8 1696.1L1643.6 1721.1L1645.4 1740.3L1647.4 1717.2L1649.4 1687.2L1651.3 1653.9L1653 1686.5L1654.8 1715.9L1656.5 1738.6L1658.2 1715.9L1660 1686.5L1661.7 1653.9L1664 1688.9L1666.3 1720.5L1668.6 1744.8L1670.1 1723.1L1671.6 1694.9L1673.1 1663.6L1675 1694.9L1677 1723.1L1679 1744.8L1680.7 1721.7L1682.4 1691.7L1684.1 1658.4L1686.2 1689.3L1688.3 1717.1L1690.4 1738.6L1691.8 1717.1L1693.1 1689.3L1694.5 1658.4L1697.1 1693.3L1699.6 1724.7L1702.1 1749L1703.6 1728.2L1705.1 1701.2L1706.6 1671.2L1708.7 1699.4L1710.8 1724.9L1712.8 1744.5L1714.2 1723.5L1715.6 1696.2L1717 1666L1719.3 1696.6L1721.6 1724.2L1723.9 1745.5L1725.3 1723.6L1726.7 1695.2L1728 1663.6L1730.5 1697.8L1732.9 1728.7L1735.3 1752.4L1736.7 1731.6L1738.1 1704.6L1739.4 1674.7L1741.8 1702.4L1744.1 1727.3L1746.4 1746.5L1747.9 1725.5L1749.4 1698.1L1750.9 1667.7L1752.8 1698.1L1754.8 1725.5L1756.7 1746.5L1758.2 1725.9L1759.7 1699.2L1761.2 1669.5L1763.8 1702.8L1766.3 1732.8L1768.8 1755.9L1770.2 1735.1L1771.6 1708.1L1773 1678.1L1775 1708.1L1777.1 1735.1L1779.2 1755.9L1780.6 1735.1L1782 1708.1L1783.3 1678.1L1785.4 1702.7L1787.5 1724.9L1789.6 1742.1L1791.3 1723.1L1793 1698.5L1794.7 1671.2L1796.8 1697.8L1798.9 1721.8L1801 1740.3L1802.4 1720.4L1803.7 1694.6L1805.1 1666L1807.4 1702.4L1809.7 1735.1L1812 1760.4L1813.4 1739.7L1814.8 1713L1816.2 1683.3L1818.2 1706.6L1820.3 1727.6L1822.4 1743.8L1823.9 1726.4L1825.4 1703.8L1826.9 1678.8L1828.8 1700.1L1830.8 1719.3L1832.8 1734.1L1834.5 1716.8L1836.2 1694.4L1837.9 1669.5L1840.3 1703.4L1842.6 1734L1844.9 1757.6L1846.4 1738.5L1847.9 1713.6L1849.4 1686.1L1851.5 1712.3L1853.7 1735.9L1855.9 1754.1L1857.4 1733.8L1858.9 1707.4L1860.4 1678.1L1862.7 1704.7L1865 1728.7L1867.3 1747.2L1868.5 1728.5L1869.6 1704.1L1870.8 1677.1L1873.1 1708.1L1875.4 1736.1L1877.7 1757.6L1879.4 1738.8L1881.2 1714.5L1882.9 1687.4L1884.8 1712.9L1886.8 1735.8L1888.8 1753.5L1890.6 1735.1L1892.4 1711.4L1894.3 1685L1896 1711.9L1897.7 1736.2L1899.5 1754.8L1901.2 1736.4L1902.9 1712.6L1904.7 1686.1L1906.8 1714L1909 1739.2L1911.2 1758.6L1912.7 1742.4L1914.2 1721.2L1915.7 1697.8L1917.8 1720.2L1919.9 1740.3L1921.9 1755.9L1923.5 1737.1L1925.2 1712.7L1926.8 1685.7L1928.8 1712.5L1930.9 1736.6L1933 1755.2L1934.5 1736.6L1936 1712.5L1937.5 1685.7L1939.4 1709.7L1941.4 1731.3L1943.4 1747.9L1945.1 1730.2L1946.8 1707.1L1948.5 1681.6L1950.9 1714.6L1953.2 1744.3L1955.5 1767.3L1957 1748.2L1958.5 1723.5L1960 1696.1L1961.9 1719.5L1963.9 1740.6L1965.8 1756.9L1967.3 1739.8L1968.8 1717.6L1970.3 1693L1972.3 1716.5L1974.2 1737.8L1976.2 1754.1L1977.9 1737L1979.7 1714.8L1981.4 1690.2L1983.9 1719.5L1986.5 1745.9L1989 1766.2L1990.3 1749L1991.5 1726.5L1992.8 1701.6L1995.1 1724.5L1997.4 1745.2L1999.7 1761.1L2001.1 1743.8L2002.5 1721.3L2003.8 1696.4L2006.2 1719.6L2008.5 1740.5L2010.8 1756.6L2011.9 1739L2013.1 1716.2L2014.2 1690.9L2016.9 1719.7L2019.5 1745.6L2022.2 1765.6L2023.8 1749.8L2025.4 1729.4L2027 1706.8L2028.3 1721.4L2029.5 1734.6L2030.8 1744.8L2032.2 1729.7L2033.6 1710.2L2035 1688.5L2037.6 1717.5L2040.3 1743.7L2042.9 1763.8L2044.6 1747.2L2046.4 1725.6L2048.1 1701.6L2050.4 1726.5L2052.7 1749L2055 1766.2L2056.4 1752.4L2057.8 1734.4L2059.1 1714.4L2061.2 1732.4L2063.3 1748.6L2065.4 1761.1L2067 1746.5L2068.6 1727.7L2070.2 1706.8L2072.1 1726.6L2073.9 1744.5L2075.7 1758.3L2077.4 1743L2079 1723.2L2080.6 1701.3L2082.6 1722L2084.7 1740.8L2086.8 1755.2L2088.3 1740.1L2089.8 1720.6L2091.3 1698.8L2093.8 1724.8L2096.4 1748.2L2098.9 1766.2L2100.4 1751.2L2101.9 1731.6L2103.4 1709.9L2105.6 1729.6L2107.8 1747.4L2110 1761.1L2111.5 1746.7L2112.9 1728.1L2114.4 1707.5L2116.2 1725.1L2117.9 1740.9L2119.6 1753.1L2121.4 1738.4L2123.1 1719.3L2124.8 1698.2L2127.4 1726.4L2129.9 1751.8L2132.4 1771.4L2133.7 1756.4L2135 1736.8L2136.2 1715.1L2138.4 1733.9L2140.6 1750.8L2142.8 1763.8L2144.1 1748.6L2145.3 1728.8L2146.6 1706.8L2148.9 1727.3L2151.2 1745.8L2153.5 1760L2154.9 1747.2L2156.3 1730.5L2157.6 1712L2159.7 1728.9L2161.8 1744.1L2163.9 1755.9L2165.3 1742.2L2166.6 1724.4L2168 1704.7L2170.6 1728.2L2173.1 1749.3L2175.6 1765.6L2177.4 1752.1L2179.1 1734.5L2180.8 1715.1L2182.6 1732.8L2184.5 1748.8L2186.3 1761.1L2187.9 1748.8L2189.6 1732.8L2191.2 1715.1L2193.6 1735.5L2196 1753.8L2198.4 1768L2199.8 1755.7L2201.2 1739.7L2202.6 1722L2204.7 1736.7L2206.7 1749.9L2208.8 1760L2210.4 1746L2212 1727.7L2213.6 1707.5L2215.7 1728.1L2217.8 1746.7L2219.9 1761.1L2221.4 1749.5L2222.9 1734.5L2224.4 1717.9L2226.7 1737.8L2229 1755.8L2231.3 1769.7L2232.6 1756.3L2234 1738.9L2235.4 1719.6L2237.7 1736.6L2240 1752L2242.3 1763.8L2243.7 1752L2245.1 1736.6L2246.5 1719.6L2248.5 1736.6L2250.6 1752L2252.7 1763.8L2254.2 1750.9L2255.7 1734.1L2257.2 1715.4L2259.7 1735.7L2262.3 1753.9L2264.8 1768L2266.5 1754.8L2268.2 1737.8L2270 1718.9L2272.1 1727.8L2274.1 1735.9L2276.2 1742.1L2276.8 1728.6L2277.4 1711.2L2277.9 1691.9L2278.7 1679L2279.5 1662.2L2280.3 1643.5L2282.6 1638L2285 1630.8L2287.3 1622.8L2289 1611.7L2290.7 1597.3L2292.4 1581.3L2293.4 1564.7L2294.3 1543.1L2295.2 1519.1L2296.2 1500.6L2297.3 1476.6L2298.3 1450.0" fill="none" stroke="#9fd1ec" stroke-width="8" stroke-linejoin="round" stroke-linecap="round"/>
<path d="M263.3 1454.6L274.2 1454.6M312.2 1629.1L315.1 1615L318 1596.7L320.8 1576.4M348.5 1679.2L351.4 1660.3L354.3 1635.7L357.1 1608.4M1185.2 1738.2L1188.1 1708.9L1190.9 1670.8L1193.8 1628.5M1283.7 1874.8L1286.6 1879.4L1289.4 1883.6L1292.3 1886.9L1295.5 1892.5L1298.7 1897.6L1301.8 1901.6M1311.3 1755.5L1314.3 1782.2L1317.3 1806.2L1320.3 1824.7M1329.5 1710.6L1332.8 1750.5L1336 1786.5L1339.3 1814.3M1356.3 1651.8L1359.6 1699.8L1362.9 1743L1366.3 1776.3M1370.1 1654.4L1373 1696.4L1375.9 1734.2L1378.7 1763.3" fill="none" stroke="#a9d6ee" stroke-width="6.8" stroke-linejoin="round" stroke-linecap="round"/>
<path d="M253.4 1454.6L255.2 1461.2L256.9 1467.2L258.6 1471.8L260.2 1467.2L261.7 1461.2L263.3 1454.6M274.2 1454.6L275.5 1463.2L276.8 1471L278.2 1477L278.8 1489.7L279.5 1501.1L280.2 1509.9L281.3 1523.5L282.3 1535.8L283.3 1545.3L284.9 1541.4L286.5 1536.3L288 1530.6L289.7 1526.9L291.5 1522.1L293.2 1516.8L294.3 1526.1L295.5 1534.5L296.6 1541L298.1 1560.3L299.5 1577.7L301 1591.1L303 1582.1L305 1570.4L307 1557.4L308.7 1585L310.5 1609.9L312.2 1629.1M320.8 1576.4L322.6 1603L324.3 1627L326 1645.5L328.6 1630.7L331.2 1611.5L333.8 1590.2L335.5 1616.8L337.3 1640.8L339 1659.3L341 1646.4L343 1629.6L345 1611L346.2 1637.3L347.3 1661L348.5 1679.2M357.1 1608.4L358.9 1632L360.6 1653.3L362.3 1669.7L364.6 1655.6L366.9 1637.3L369.2 1617L371 1640.3L372.7 1661.3L374.4 1677.5L376.1 1664.3L377.9 1647.2L379.6 1628.2L381 1652.5L382.5 1674.4L383.9 1691.3L386.5 1674.2L389.1 1652L391.7 1627.4L393.1 1650L394.6 1670.4L396 1686.1L398 1672L400 1653.7L402.1 1633.4L403.8 1655.1L405.5 1674.6L407.2 1689.6L409 1675.9L410.7 1658.2L412.4 1638.6L414.2 1663.6L415.9 1686.1L417.6 1703.4L419.6 1685.4L421.6 1662L423.7 1636L425.1 1662.6L426.5 1686.6L428 1705.1L430 1688.7L432 1667.4L434 1643.8L435.5 1669.4L436.9 1692.5L438.4 1710.3L440.9 1689.1L443.5 1661.5L446.1 1630.8L447.6 1656.5L449 1679.6L450.4 1697.4L452.5 1680L454.5 1657.5L456.5 1632.6L457.9 1659.2L459.4 1683.2L460.8 1701.7L463.1 1682.5L465.4 1657.6L467.7 1630L469.7 1654.9L471.8 1677.4L473.8 1694.8L475.5 1677.4L477.2 1654.9L479 1630L480.8 1654.5L482.6 1676.6L484.4 1693.7L486.7 1678.4L489 1658.6L491.3 1636.6L492.8 1656.3L494.3 1674.1L495.8 1687.8L498.1 1672.5L500.4 1652.7L502.7 1630.8L504.1 1655L505.5 1676.8L506.9 1693.7L508.9 1677.7L511 1656.9L513.1 1633.9L514.7 1658.6L516.3 1681L517.9 1698.2L519.8 1682.4L521.6 1662L523.5 1639.4L524.8 1665L526.2 1688L527.6 1705.8L529.7 1687.1L531.8 1662.8L533.8 1635.9L535.4 1658.4L537.1 1678.7L538.7 1694.4L540.7 1677.3L542.8 1655.3L544.9 1630.8L546.6 1655L548.3 1676.8L550.1 1693.7L551.8 1678.4L553.5 1658.6L555.3 1636.6L557 1660.3L558.7 1681.7L560.4 1698.2L562.5 1681L564.6 1658.6L566.7 1633.9L568.4 1658.6L570.1 1681L571.8 1698.2L573.8 1681.7L575.8 1660.3L577.7 1636.6L579.1 1663.7L580.5 1688L581.9 1706.8L584.3 1685.5L586.7 1657.9L589.1 1627.3L590.7 1651.5L592.4 1673.4L594 1690.2L595.7 1674.3L597.4 1653.7L599.1 1630.8L600.9 1656.7L602.6 1680.1L604.3 1698.2L606.2 1681L608 1658.9L609.9 1634.2L611.6 1659.8L613.3 1682.8L615 1700.6L617.4 1683.2L619.7 1660.6L622 1635.6L623.6 1656.4L625.2 1675.1L626.8 1689.5L628.9 1674.3L630.9 1654.5L633 1632.5L634.5 1657L636 1679.1L637.5 1696.1L639.5 1679.7L641.4 1658.5L643.4 1634.9L645.1 1658.2L646.8 1679.2L648.6 1695.4L650.3 1681.2L652 1662.9L653.8 1642.5L655.1 1668.2L656.5 1691.4L657.9 1709.2L660.6 1688.2L663.2 1661L665.9 1630.8L667.2 1653.4L668.6 1673.8L670 1689.5L672.4 1673.3L674.8 1652.3L677.3 1629L678.4 1655.7L679.6 1679.7L680.7 1698.2L682.9 1681L685.1 1658.6L687.3 1633.9L688.5 1659.6L689.8 1682.7L691.1 1700.6L693.6 1681.3L696.2 1656.4L698.7 1628.7L700.1 1651.1L701.5 1671.2L702.8 1686.8L705.1 1671.2L707.4 1651.1L709.7 1628.7L711.5 1655.1L713.2 1678.8L714.9 1697.1L716.7 1680.2L718.4 1658.2L720.1 1633.9L721.8 1658.2L723.6 1680.2L725.3 1697.1L727.4 1681.7L729.4 1661.6L731.5 1639.4L732.7 1666.6L733.8 1691L735 1709.9L737.6 1690.5L740.3 1665.3L742.9 1637.3L744.5 1658.1L746.2 1676.8L747.8 1691.2L749.3 1679.6L750.8 1664.5L752.3 1647.7L753.4 1677.7L754.6 1704.7L755.7 1725.5L758.4 1698.7L761 1664.1L763.7 1625.6L765.3 1656.9L766.9 1685.1L768.5 1706.8L770.9 1684.3L773.3 1655.2L775.8 1622.8L777.4 1647.8L779 1670.4L780.6 1687.8L782.4 1671.8L784.3 1651L786.1 1628L787.7 1655.3L789.4 1679.9L791 1698.8L792.8 1680.1L794.7 1655.7L796.5 1628.7L798.1 1658.1L799.7 1684.6L801.3 1705.1L802.6 1692.1L803.9 1675.3L805.1 1656.7L806.8 1686.6L808.4 1713.6L810 1734.4L812.6 1704.9L815.3 1666.5L817.9 1623.8L819.8 1650.1L821.6 1673.7L823.5 1691.9L825.5 1674.2L827.4 1651.1L829.4 1625.6L831.1 1653.4L832.8 1678.5L834.6 1697.8L836.6 1677.7L838.7 1651.7L840.8 1622.8L842.2 1653L843.5 1680.3L844.9 1701.3L847.2 1682.8L849.5 1658.8L851.8 1632.1L853.2 1656.8L854.6 1679L856 1696.1L858.4 1678.5L860.8 1655.7L863.2 1630.4L864.9 1656.4L866.5 1679.8L868.1 1697.8L869.8 1681.9L871.5 1661.3L873.3 1638.4L874.8 1663.4L876.3 1686L877.8 1703.3L880.1 1684.1L882.4 1659.1L884.7 1631.5L886.1 1662.7L887.4 1690.9L888.8 1712.7L891.5 1690.2L894.1 1661L896.8 1628.7L898.3 1653.7L899.8 1676.3L901.3 1693.7L902.4 1680.7L903.6 1663.9L904.7 1645.3L906.5 1676.2L908.2 1704L909.9 1725.5L912.4 1700.8L915 1668.7L917.5 1633.2L918.9 1661.4L920.3 1686.8L921.7 1706.5L924 1686.2L926.3 1659.9L928.6 1630.8L929.8 1665.2L931.1 1696.3L932.4 1720.3L934.9 1696.2L937.4 1665L940 1630.4L941.7 1657.7L943.4 1682.3L945.2 1701.3L947.1 1683.3L949.1 1660L951 1634.2L952.5 1660.7L954 1684.6L955.5 1703L957.8 1684.6L960.1 1660.7L962.4 1634.2L964.2 1658.5L965.9 1680.3L967.6 1697.1L969.6 1680.2L971.5 1658.2L973.5 1633.9L975 1661.8L976.5 1687L978 1706.5L980 1687.8L981.9 1663.5L983.9 1636.6L985.4 1666.9L986.9 1694.1L988.4 1715.1L990.3 1694.8L992.3 1668.6L994.2 1639.4L996 1665.2L997.7 1688.5L999.4 1706.5L1001.8 1688.9L1004.3 1666.1L1006.7 1640.8L1008.1 1665.2L1009.4 1687.1L1010.8 1704L1012.9 1686.7L1015 1664.3L1017.1 1639.4L1018.4 1670.3L1019.8 1698.1L1021.2 1719.6L1023.5 1697.7L1025.8 1669.2L1028.1 1637.7L1029.5 1666.8L1030.9 1693.1L1032.3 1713.4L1034.7 1693.6L1037.1 1667.9L1039.5 1639.4L1041.1 1666L1042.7 1690L1044.4 1708.5L1045.9 1692.5L1047.4 1671.8L1048.8 1648.7L1050.8 1676.3L1052.8 1701.1L1054.7 1720.3L1057 1698.8L1059.3 1671L1061.6 1640.1L1062.8 1672L1063.9 1700.8L1065.1 1723L1067.7 1700.2L1070.4 1670.6L1073 1637.7L1074.2 1662.3L1075.3 1684.5L1076.5 1701.6L1078.8 1684.7L1081.1 1662.7L1083.4 1638.4L1084.9 1669L1086.4 1696.6L1087.9 1717.9L1089.3 1703.5L1090.7 1684.9L1092.1 1664.3L1093.4 1698.9L1094.8 1730.1L1096.2 1754.1L1098.8 1720.6L1101.5 1677L1104.1 1628.7L1105.9 1664L1107.6 1695.8L1109.3 1720.3L1111.6 1696L1113.9 1664.6L1116.2 1629.7L1118 1659.3L1119.7 1685.9L1121.4 1706.5L1123.2 1686.6L1124.9 1660.8L1126.6 1632.1L1128.3 1666.8L1130.1 1698L1131.8 1722L1133.8 1699.9L1135.7 1671.2L1137.7 1639.4L1139.2 1666.3L1140.7 1690.5L1142.2 1709.2L1144.8 1690.7L1147.5 1666.7L1150.1 1640.1L1151.3 1666.7L1152.4 1690.7L1153.6 1709.2L1156.1 1690.3L1158.6 1665.7L1161.2 1638.4L1162.3 1665.4L1163.5 1689.8L1164.6 1708.5L1166.9 1692.1L1169.2 1670.7L1171.5 1647L1172.9 1677L1174.3 1704L1175.7 1724.8L1177.8 1701.9L1179.8 1672.3L1181.9 1639.4L1183 1677.5L1184.1 1711.8L1185.2 1738.2M1193.8 1628.5L1195 1658.8L1196.1 1686.1L1197.3 1707.1L1199.8 1688.2L1202.2 1663.6L1204.7 1636.3L1206 1661.3L1207.2 1683.8L1208.5 1701.1L1210.8 1683.8L1213.1 1661.3L1215.4 1636.3L1216.6 1670.6L1217.7 1701.5L1218.9 1725.3L1221.5 1700.8L1224.1 1669L1226.7 1633.7L1228.4 1666L1230.1 1695.1L1231.8 1717.5L1233.7 1699.7L1235.5 1676.6L1237.4 1651L1238.4 1677.9L1239.4 1702.2L1240.5 1721L1241.3 1734.3L1242.2 1746.3L1243.1 1755.5L1245.4 1751.4L1247.7 1746L1250 1740L1251.5 1746.6L1253.1 1752.6L1254.7 1757.3L1255.4 1783.2L1256.2 1806.6L1256.9 1824.7L1257.8 1852.9L1258.6 1878.4L1259.5 1898.1L1261.2 1892.3L1262.9 1884.8L1264.7 1876.5L1266.7 1874L1268.7 1870.7L1270.7 1867L1272.7 1868.7L1274.8 1870.2L1276.8 1871.3L1279.1 1872.6L1281.4 1873.8L1283.7 1874.8M1301.8 1901.6L1302.7 1881L1303.6 1854.3L1304.4 1824.7L1305.3 1803.4L1306.2 1775.8L1307 1745.2L1308.5 1749.2L1309.9 1752.8L1311.3 1755.5M1320.3 1824.7L1322.2 1789L1324.1 1742.9L1326 1691.6L1327.2 1698.9L1328.3 1705.5L1329.5 1710.6M1339.3 1814.3L1340.7 1778.7L1342 1732.5L1343.3 1681.2L1346 1716.8L1348.7 1748.9L1351.4 1773.7L1353 1741.1L1354.7 1698.8L1356.3 1651.8M1366.3 1776.3L1367.6 1743.7L1368.8 1701.4L1370.1 1654.4M1378.7 1763.3L1380.3 1731.4L1382 1690L1383.6 1644.1L1386.1 1688L1388.6 1727.6L1391.2 1758.1L1392.6 1727.6L1394.1 1688L1395.5 1644.1L1398.3 1682.7L1401 1717.5L1403.8 1744.3L1405.2 1717.8L1406.7 1683.4L1408.1 1645.3L1409.8 1677.4L1411.6 1706.4L1413.3 1728.7L1415 1701.9L1416.8 1667.1L1418.5 1628.5L1420.3 1663.5L1422.2 1695L1424 1719.2L1425.7 1694.7L1427.5 1662.9L1429.2 1627.6L1431.8 1669.6L1434.4 1707.4L1437 1736.5L1438.3 1708.3L1439.6 1671.7L1440.9 1631.1L1443.1 1666.4L1445.3 1698.2L1447.5 1722.7L1448.8 1696L1450 1661.4L1451.3 1623L1453.7 1662.7L1456.2 1698.5L1458.6 1726.2L1460.5 1702.8L1462.4 1672.5L1464.3 1638.9L1466.3 1673.5L1468.3 1704.7L1470.3 1728.7L1471.8 1702.6L1473.2 1668.7L1474.6 1631.1L1476.4 1666.7L1478.2 1698.8L1480 1723.6L1481.8 1697.3L1483.6 1663.3L1485.4 1625.6L1487.7 1666.1L1490 1702.5L1492.3 1730.6L1493.7 1706.4L1495.1 1675L1496.5 1640.1L1498.5 1673.8L1500.6 1704.1L1502.7 1727.5L1504.4 1701.4L1506.2 1667.4L1507.9 1629.7L1510 1665L1512 1696.8L1514.1 1721.3L1515.5 1696.3L1516.9 1663.9L1518.2 1628L1520.8 1665.7L1523.3 1699.6L1525.9 1725.8L1527 1704.7L1528.2 1677.4L1529.3 1647L1531.6 1679.2L1533.9 1708.3L1536.2 1730.6L1537.4 1706.2L1538.5 1674.6L1539.7 1639.4L1542.3 1672.3L1545 1701.9L1547.6 1724.8L1548.8 1700.1L1549.9 1668L1551.1 1632.5L1553.6 1669.4L1556.2 1702.6L1558.7 1728.2L1560.2 1706.3L1561.7 1677.9L1563.2 1646.3L1565.3 1682.1L1567.3 1714.4L1569.4 1739.3L1570.8 1714.6L1572.2 1682.6L1573.5 1647L1575.9 1677.6L1578.2 1705.2L1580.5 1726.5L1581.6 1703.2L1582.8 1673L1583.9 1639.4L1586.2 1672.3L1588.5 1701.9L1590.8 1724.8L1592 1701.9L1593.1 1672.3L1594.3 1639.4L1596.9 1676.7L1599.6 1710.3L1602.2 1736.2L1603.6 1714.3L1605 1686L1606.4 1654.6L1608.7 1685L1611 1712.3L1613.3 1733.4L1614.8 1710.3L1616.3 1680.3L1617.8 1647L1620 1679.9L1622.2 1709.5L1624.4 1732.4L1625.6 1709.1L1626.9 1678.8L1628.2 1645.3L1630.7 1687.6L1633.2 1725.8L1635.8 1755.2L1637.1 1732L1638.5 1701.9L1639.9 1668.4L1641.8 1696.1L1643.6 1721.1L1645.4 1740.3L1647.4 1717.2L1649.4 1687.2L1651.3 1653.9L1653 1686.5L1654.8 1715.9L1656.5 1738.6L1658.2 1715.9L1660 1686.5L1661.7 1653.9L1664 1688.9L1666.3 1720.5L1668.6 1744.8L1670.1 1723.1L1671.6 1694.9L1673.1 1663.6L1675 1694.9L1677 1723.1L1679 1744.8L1680.7 1721.7L1682.4 1691.7L1684.1 1658.4L1686.2 1689.3L1688.3 1717.1L1690.4 1738.6L1691.8 1717.1L1693.1 1689.3L1694.5 1658.4L1697.1 1693.3L1699.6 1724.7L1702.1 1749L1703.6 1728.2L1705.1 1701.2L1706.6 1671.2L1708.7 1699.4L1710.8 1724.9L1712.8 1744.5L1714.2 1723.5L1715.6 1696.2L1717 1666L1719.3 1696.6L1721.6 1724.2L1723.9 1745.5L1725.3 1723.6L1726.7 1695.2L1728 1663.6L1730.5 1697.8L1732.9 1728.7L1735.3 1752.4L1736.7 1731.6L1738.1 1704.6L1739.4 1674.7L1741.8 1702.4L1744.1 1727.3L1746.4 1746.5L1747.9 1725.5L1749.4 1698.1L1750.9 1667.7L1752.8 1698.1L1754.8 1725.5L1756.7 1746.5L1758.2 1725.9L1759.7 1699.2L1761.2 1669.5L1763.8 1702.8L1766.3 1732.8L1768.8 1755.9L1770.2 1735.1L1771.6 1708.1L1773 1678.1L1775 1708.1L1777.1 1735.1L1779.2 1755.9L1780.6 1735.1L1782 1708.1L1783.3 1678.1L1785.4 1702.7L1787.5 1724.9L1789.6 1742.1L1791.3 1723.1L1793 1698.5L1794.7 1671.2L1796.8 1697.8L1798.9 1721.8L1801 1740.3L1802.4 1720.4L1803.7 1694.6L1805.1 1666L1807.4 1702.4L1809.7 1735.1L1812 1760.4L1813.4 1739.7L1814.8 1713L1816.2 1683.3L1818.2 1706.6L1820.3 1727.6L1822.4 1743.8L1823.9 1726.4L1825.4 1703.8L1826.9 1678.8L1828.8 1700.1L1830.8 1719.3L1832.8 1734.1L1834.5 1716.8L1836.2 1694.4L1837.9 1669.5L1840.3 1703.4L1842.6 1734L1844.9 1757.6L1846.4 1738.5L1847.9 1713.6L1849.4 1686.1L1851.5 1712.3L1853.7 1735.9L1855.9 1754.1L1857.4 1733.8L1858.9 1707.4L1860.4 1678.1L1862.7 1704.7L1865 1728.7L1867.3 1747.2L1868.5 1728.5L1869.6 1704.1L1870.8 1677.1L1873.1 1708.1L1875.4 1736.1L1877.7 1757.6L1879.4 1738.8L1881.2 1714.5L1882.9 1687.4L1884.8 1712.9L1886.8 1735.8L1888.8 1753.5L1890.6 1735.1L1892.4 1711.4L1894.3 1685L1896 1711.9L1897.7 1736.2L1899.5 1754.8L1901.2 1736.4L1902.9 1712.6L1904.7 1686.1L1906.8 1714L1909 1739.2L1911.2 1758.6L1912.7 1742.4L1914.2 1721.2L1915.7 1697.8L1917.8 1720.2L1919.9 1740.3L1921.9 1755.9L1923.5 1737.1L1925.2 1712.7L1926.8 1685.7L1928.8 1712.5L1930.9 1736.6L1933 1755.2L1934.5 1736.6L1936 1712.5L1937.5 1685.7L1939.4 1709.7L1941.4 1731.3L1943.4 1747.9L1945.1 1730.2L1946.8 1707.1L1948.5 1681.6L1950.9 1714.6L1953.2 1744.3L1955.5 1767.3L1957 1748.2L1958.5 1723.5L1960 1696.1L1961.9 1719.5L1963.9 1740.6L1965.8 1756.9L1967.3 1739.8L1968.8 1717.6L1970.3 1693L1972.3 1716.5L1974.2 1737.8L1976.2 1754.1L1977.9 1737L1979.7 1714.8L1981.4 1690.2L1983.9 1719.5L1986.5 1745.9L1989 1766.2L1990.3 1749L1991.5 1726.5L1992.8 1701.6L1995.1 1724.5L1997.4 1745.2L1999.7 1761.1L2001.1 1743.8L2002.5 1721.3L2003.8 1696.4L2006.2 1719.6L2008.5 1740.5L2010.8 1756.6L2011.9 1739L2013.1 1716.2L2014.2 1690.9L2016.9 1719.7L2019.5 1745.6L2022.2 1765.6L2023.8 1749.8L2025.4 1729.4L2027 1706.8L2028.3 1721.4L2029.5 1734.6L2030.8 1744.8L2032.2 1729.7L2033.6 1710.2L2035 1688.5L2037.6 1717.5L2040.3 1743.7L2042.9 1763.8L2044.6 1747.2L2046.4 1725.6L2048.1 1701.6L2050.4 1726.5L2052.7 1749L2055 1766.2L2056.4 1752.4L2057.8 1734.4L2059.1 1714.4L2061.2 1732.4L2063.3 1748.6L2065.4 1761.1L2067 1746.5L2068.6 1727.7L2070.2 1706.8L2072.1 1726.6L2073.9 1744.5L2075.7 1758.3L2077.4 1743L2079 1723.2L2080.6 1701.3L2082.6 1722L2084.7 1740.8L2086.8 1755.2L2088.3 1740.1L2089.8 1720.6L2091.3 1698.8L2093.8 1724.8L2096.4 1748.2L2098.9 1766.2L2100.4 1751.2L2101.9 1731.6L2103.4 1709.9L2105.6 1729.6L2107.8 1747.4L2110 1761.1L2111.5 1746.7L2112.9 1728.1L2114.4 1707.5L2116.2 1725.1L2117.9 1740.9L2119.6 1753.1L2121.4 1738.4L2123.1 1719.3L2124.8 1698.2L2127.4 1726.4L2129.9 1751.8L2132.4 1771.4L2133.7 1756.4L2135 1736.8L2136.2 1715.1L2138.4 1733.9L2140.6 1750.8L2142.8 1763.8L2144.1 1748.6L2145.3 1728.8L2146.6 1706.8L2148.9 1727.3L2151.2 1745.8L2153.5 1760L2154.9 1747.2L2156.3 1730.5L2157.6 1712L2159.7 1728.9L2161.8 1744.1L2163.9 1755.9L2165.3 1742.2L2166.6 1724.4L2168 1704.7L2170.6 1728.2L2173.1 1749.3L2175.6 1765.6L2177.4 1752.1L2179.1 1734.5L2180.8 1715.1L2182.6 1732.8L2184.5 1748.8L2186.3 1761.1L2187.9 1748.8L2189.6 1732.8L2191.2 1715.1L2193.6 1735.5L2196 1753.8L2198.4 1768L2199.8 1755.7L2201.2 1739.7L2202.6 1722L2204.7 1736.7L2206.7 1749.9L2208.8 1760L2210.4 1746L2212 1727.7L2213.6 1707.5L2215.7 1728.1L2217.8 1746.7L2219.9 1761.1L2221.4 1749.5L2222.9 1734.5L2224.4 1717.9L2226.7 1737.8L2229 1755.8L2231.3 1769.7L2232.6 1756.3L2234 1738.9L2235.4 1719.6L2237.7 1736.6L2240 1752L2242.3 1763.8L2243.7 1752L2245.1 1736.6L2246.5 1719.6L2248.5 1736.6L2250.6 1752L2252.7 1763.8L2254.2 1750.9L2255.7 1734.1L2257.2 1715.4L2259.7 1735.7L2262.3 1753.9L2264.8 1768L2266.5 1754.8L2268.2 1737.8L2270 1718.9L2272.1 1727.8L2274.1 1735.9L2276.2 1742.1L2276.8 1728.6L2277.4 1711.2L2277.9 1691.9L2278.7 1679L2279.5 1662.2L2280.3 1643.5L2282.6 1638L2285 1630.8L2287.3 1622.8L2289 1611.7L2290.7 1597.3L2292.4 1581.3L2293.4 1564.7L2294.3 1543.1L2295.2 1519.1L2296.2 1500.6L2297.3 1476.6L2298.3 1450.0" fill="none" stroke="#47a7dc" stroke-width="4.6" stroke-linejoin="round" stroke-linecap="round"/>
<path d="M263.3 1454.6L274.2 1454.6M312.2 1629.1L315.1 1615L318 1596.7L320.8 1576.4M348.5 1679.2L351.4 1660.3L354.3 1635.7L357.1 1608.4M1185.2 1738.2L1188.1 1708.9L1190.9 1670.8L1193.8 1628.5M1283.7 1874.8L1286.6 1879.4L1289.4 1883.6L1292.3 1886.9L1295.5 1892.5L1298.7 1897.6L1301.8 1901.6M1311.3 1755.5L1314.3 1782.2L1317.3 1806.2L1320.3 1824.7M1329.5 1710.6L1332.8 1750.5L1336 1786.5L1339.3 1814.3M1356.3 1651.8L1359.6 1699.8L1362.9 1743L1366.3 1776.3M1370.1 1654.4L1373 1696.4L1375.9 1734.2L1378.7 1763.3" fill="none" stroke="#47a7dc" stroke-width="4.0" stroke-linejoin="round" stroke-linecap="round"/>
<path d="M253.4 1454.6L255.2 1461.2L256.9 1467.2L258.6 1471.8L260.2 1467.2L261.7 1461.2L263.3 1454.6M274.2 1454.6L275.5 1463.2L276.8 1471L278.2 1477L278.8 1489.7L279.5 1501.1L280.2 1509.9L281.3 1523.5L282.3 1535.8L283.3 1545.3L284.9 1541.4L286.5 1536.3L288 1530.6L289.7 1526.9L291.5 1522.1L293.2 1516.8L294.3 1526.1L295.5 1534.5L296.6 1541L298.1 1560.3L299.5 1577.7L301 1591.1L303 1582.1L305 1570.4L307 1557.4L308.7 1585L310.5 1609.9L312.2 1629.1M320.8 1576.4L322.6 1603L324.3 1627L326 1645.5L328.6 1630.7L331.2 1611.5L333.8 1590.2L335.5 1616.8L337.3 1640.8L339 1659.3L341 1646.4L343 1629.6L345 1611L346.2 1637.3L347.3 1661L348.5 1679.2M357.1 1608.4L358.9 1632L360.6 1653.3L362.3 1669.7L364.6 1655.6L366.9 1637.3L369.2 1617L371 1640.3L372.7 1661.3L374.4 1677.5L376.1 1664.3L377.9 1647.2L379.6 1628.2L381 1652.5L382.5 1674.4L383.9 1691.3L386.5 1674.2L389.1 1652L391.7 1627.4L393.1 1650L394.6 1670.4L396 1686.1L398 1672L400 1653.7L402.1 1633.4L403.8 1655.1L405.5 1674.6L407.2 1689.6L409 1675.9L410.7 1658.2L412.4 1638.6L414.2 1663.6L415.9 1686.1L417.6 1703.4L419.6 1685.4L421.6 1662L423.7 1636L425.1 1662.6L426.5 1686.6L428 1705.1L430 1688.7L432 1667.4L434 1643.8L435.5 1669.4L436.9 1692.5L438.4 1710.3L440.9 1689.1L443.5 1661.5L446.1 1630.8L447.6 1656.5L449 1679.6L450.4 1697.4L452.5 1680L454.5 1657.5L456.5 1632.6L457.9 1659.2L459.4 1683.2L460.8 1701.7L463.1 1682.5L465.4 1657.6L467.7 1630L469.7 1654.9L471.8 1677.4L473.8 1694.8L475.5 1677.4L477.2 1654.9L479 1630L480.8 1654.5L482.6 1676.6L484.4 1693.7L486.7 1678.4L489 1658.6L491.3 1636.6L492.8 1656.3L494.3 1674.1L495.8 1687.8L498.1 1672.5L500.4 1652.7L502.7 1630.8L504.1 1655L505.5 1676.8L506.9 1693.7L508.9 1677.7L511 1656.9L513.1 1633.9L514.7 1658.6L516.3 1681L517.9 1698.2L519.8 1682.4L521.6 1662L523.5 1639.4L524.8 1665L526.2 1688L527.6 1705.8L529.7 1687.1L531.8 1662.8L533.8 1635.9L535.4 1658.4L537.1 1678.7L538.7 1694.4L540.7 1677.3L542.8 1655.3L544.9 1630.8L546.6 1655L548.3 1676.8L550.1 1693.7L551.8 1678.4L553.5 1658.6L555.3 1636.6L557 1660.3L558.7 1681.7L560.4 1698.2L562.5 1681L564.6 1658.6L566.7 1633.9L568.4 1658.6L570.1 1681L571.8 1698.2L573.8 1681.7L575.8 1660.3L577.7 1636.6L579.1 1663.7L580.5 1688L581.9 1706.8L584.3 1685.5L586.7 1657.9L589.1 1627.3L590.7 1651.5L592.4 1673.4L594 1690.2L595.7 1674.3L597.4 1653.7L599.1 1630.8L600.9 1656.7L602.6 1680.1L604.3 1698.2L606.2 1681L608 1658.9L609.9 1634.2L611.6 1659.8L613.3 1682.8L615 1700.6L617.4 1683.2L619.7 1660.6L622 1635.6L623.6 1656.4L625.2 1675.1L626.8 1689.5L628.9 1674.3L630.9 1654.5L633 1632.5L634.5 1657L636 1679.1L637.5 1696.1L639.5 1679.7L641.4 1658.5L643.4 1634.9L645.1 1658.2L646.8 1679.2L648.6 1695.4L650.3 1681.2L652 1662.9L653.8 1642.5L655.1 1668.2L656.5 1691.4L657.9 1709.2L660.6 1688.2L663.2 1661L665.9 1630.8L667.2 1653.4L668.6 1673.8L670 1689.5L672.4 1673.3L674.8 1652.3L677.3 1629L678.4 1655.7L679.6 1679.7L680.7 1698.2L682.9 1681L685.1 1658.6L687.3 1633.9L688.5 1659.6L689.8 1682.7L691.1 1700.6L693.6 1681.3L696.2 1656.4L698.7 1628.7L700.1 1651.1L701.5 1671.2L702.8 1686.8L705.1 1671.2L707.4 1651.1L709.7 1628.7L711.5 1655.1L713.2 1678.8L714.9 1697.1L716.7 1680.2L718.4 1658.2L720.1 1633.9L721.8 1658.2L723.6 1680.2L725.3 1697.1L727.4 1681.7L729.4 1661.6L731.5 1639.4L732.7 1666.6L733.8 1691L735 1709.9L737.6 1690.5L740.3 1665.3L742.9 1637.3L744.5 1658.1L746.2 1676.8L747.8 1691.2L749.3 1679.6L750.8 1664.5L752.3 1647.7L753.4 1677.7L754.6 1704.7L755.7 1725.5L758.4 1698.7L761 1664.1L763.7 1625.6L765.3 1656.9L766.9 1685.1L768.5 1706.8L770.9 1684.3L773.3 1655.2L775.8 1622.8L777.4 1647.8L779 1670.4L780.6 1687.8L782.4 1671.8L784.3 1651L786.1 1628L787.7 1655.3L789.4 1679.9L791 1698.8L792.8 1680.1L794.7 1655.7L796.5 1628.7L798.1 1658.1L799.7 1684.6L801.3 1705.1L802.6 1692.1L803.9 1675.3L805.1 1656.7L806.8 1686.6L808.4 1713.6L810 1734.4L812.6 1704.9L815.3 1666.5L817.9 1623.8L819.8 1650.1L821.6 1673.7L823.5 1691.9L825.5 1674.2L827.4 1651.1L829.4 1625.6L831.1 1653.4L832.8 1678.5L834.6 1697.8L836.6 1677.7L838.7 1651.7L840.8 1622.8L842.2 1653L843.5 1680.3L844.9 1701.3L847.2 1682.8L849.5 1658.8L851.8 1632.1L853.2 1656.8L854.6 1679L856 1696.1L858.4 1678.5L860.8 1655.7L863.2 1630.4L864.9 1656.4L866.5 1679.8L868.1 1697.8L869.8 1681.9L871.5 1661.3L873.3 1638.4L874.8 1663.4L876.3 1686L877.8 1703.3L880.1 1684.1L882.4 1659.1L884.7 1631.5L886.1 1662.7L887.4 1690.9L888.8 1712.7L891.5 1690.2L894.1 1661L896.8 1628.7L898.3 1653.7L899.8 1676.3L901.3 1693.7L902.4 1680.7L903.6 1663.9L904.7 1645.3L906.5 1676.2L908.2 1704L909.9 1725.5L912.4 1700.8L915 1668.7L917.5 1633.2L918.9 1661.4L920.3 1686.8L921.7 1706.5L924 1686.2L926.3 1659.9L928.6 1630.8L929.8 1665.2L931.1 1696.3L932.4 1720.3L934.9 1696.2L937.4 1665L940 1630.4L941.7 1657.7L943.4 1682.3L945.2 1701.3L947.1 1683.3L949.1 1660L951 1634.2L952.5 1660.7L954 1684.6L955.5 1703L957.8 1684.6L960.1 1660.7L962.4 1634.2L964.2 1658.5L965.9 1680.3L967.6 1697.1L969.6 1680.2L971.5 1658.2L973.5 1633.9L975 1661.8L976.5 1687L978 1706.5L980 1687.8L981.9 1663.5L983.9 1636.6L985.4 1666.9L986.9 1694.1L988.4 1715.1L990.3 1694.8L992.3 1668.6L994.2 1639.4L996 1665.2L997.7 1688.5L999.4 1706.5L1001.8 1688.9L1004.3 1666.1L1006.7 1640.8L1008.1 1665.2L1009.4 1687.1L1010.8 1704L1012.9 1686.7L1015 1664.3L1017.1 1639.4L1018.4 1670.3L1019.8 1698.1L1021.2 1719.6L1023.5 1697.7L1025.8 1669.2L1028.1 1637.7L1029.5 1666.8L1030.9 1693.1L1032.3 1713.4L1034.7 1693.6L1037.1 1667.9L1039.5 1639.4L1041.1 1666L1042.7 1690L1044.4 1708.5L1045.9 1692.5L1047.4 1671.8L1048.8 1648.7L1050.8 1676.3L1052.8 1701.1L1054.7 1720.3L1057 1698.8L1059.3 1671L1061.6 1640.1L1062.8 1672L1063.9 1700.8L1065.1 1723L1067.7 1700.2L1070.4 1670.6L1073 1637.7L1074.2 1662.3L1075.3 1684.5L1076.5 1701.6L1078.8 1684.7L1081.1 1662.7L1083.4 1638.4L1084.9 1669L1086.4 1696.6L1087.9 1717.9L1089.3 1703.5L1090.7 1684.9L1092.1 1664.3L1093.4 1698.9L1094.8 1730.1L1096.2 1754.1L1098.8 1720.6L1101.5 1677L1104.1 1628.7L1105.9 1664L1107.6 1695.8L1109.3 1720.3L1111.6 1696L1113.9 1664.6L1116.2 1629.7L1118 1659.3L1119.7 1685.9L1121.4 1706.5L1123.2 1686.6L1124.9 1660.8L1126.6 1632.1L1128.3 1666.8L1130.1 1698L1131.8 1722L1133.8 1699.9L1135.7 1671.2L1137.7 1639.4L1139.2 1666.3L1140.7 1690.5L1142.2 1709.2L1144.8 1690.7L1147.5 1666.7L1150.1 1640.1L1151.3 1666.7L1152.4 1690.7L1153.6 1709.2L1156.1 1690.3L1158.6 1665.7L1161.2 1638.4L1162.3 1665.4L1163.5 1689.8L1164.6 1708.5L1166.9 1692.1L1169.2 1670.7L1171.5 1647L1172.9 1677L1174.3 1704L1175.7 1724.8L1177.8 1701.9L1179.8 1672.3L1181.9 1639.4L1183 1677.5L1184.1 1711.8L1185.2 1738.2M1193.8 1628.5L1195 1658.8L1196.1 1686.1L1197.3 1707.1L1199.8 1688.2L1202.2 1663.6L1204.7 1636.3L1206 1661.3L1207.2 1683.8L1208.5 1701.1L1210.8 1683.8L1213.1 1661.3L1215.4 1636.3L1216.6 1670.6L1217.7 1701.5L1218.9 1725.3L1221.5 1700.8L1224.1 1669L1226.7 1633.7L1228.4 1666L1230.1 1695.1L1231.8 1717.5L1233.7 1699.7L1235.5 1676.6L1237.4 1651L1238.4 1677.9L1239.4 1702.2L1240.5 1721L1241.3 1734.3L1242.2 1746.3L1243.1 1755.5L1245.4 1751.4L1247.7 1746L1250 1740L1251.5 1746.6L1253.1 1752.6L1254.7 1757.3L1255.4 1783.2L1256.2 1806.6L1256.9 1824.7L1257.8 1852.9L1258.6 1878.4L1259.5 1898.1L1261.2 1892.3L1262.9 1884.8L1264.7 1876.5L1266.7 1874L1268.7 1870.7L1270.7 1867L1272.7 1868.7L1274.8 1870.2L1276.8 1871.3L1279.1 1872.6L1281.4 1873.8L1283.7 1874.8M1301.8 1901.6L1302.7 1881L1303.6 1854.3L1304.4 1824.7L1305.3 1803.4L1306.2 1775.8L1307 1745.2L1308.5 1749.2L1309.9 1752.8L1311.3 1755.5M1320.3 1824.7L1322.2 1789L1324.1 1742.9L1326 1691.6L1327.2 1698.9L1328.3 1705.5L1329.5 1710.6M1339.3 1814.3L1340.7 1778.7L1342 1732.5L1343.3 1681.2L1346 1716.8L1348.7 1748.9L1351.4 1773.7L1353 1741.1L1354.7 1698.8L1356.3 1651.8M1366.3 1776.3L1367.6 1743.7L1368.8 1701.4L1370.1 1654.4M1378.7 1763.3L1380.3 1731.4L1382 1690L1383.6 1644.1L1386.1 1688L1388.6 1727.6L1391.2 1758.1L1392.6 1727.6L1394.1 1688L1395.5 1644.1L1398.3 1682.7L1401 1717.5L1403.8 1744.3L1405.2 1717.8L1406.7 1683.4L1408.1 1645.3L1409.8 1677.4L1411.6 1706.4L1413.3 1728.7L1415 1701.9L1416.8 1667.1L1418.5 1628.5L1420.3 1663.5L1422.2 1695L1424 1719.2L1425.7 1694.7L1427.5 1662.9L1429.2 1627.6L1431.8 1669.6L1434.4 1707.4L1437 1736.5L1438.3 1708.3L1439.6 1671.7L1440.9 1631.1L1443.1 1666.4L1445.3 1698.2L1447.5 1722.7L1448.8 1696L1450 1661.4L1451.3 1623L1453.7 1662.7L1456.2 1698.5L1458.6 1726.2L1460.5 1702.8L1462.4 1672.5L1464.3 1638.9L1466.3 1673.5L1468.3 1704.7L1470.3 1728.7L1471.8 1702.6L1473.2 1668.7L1474.6 1631.1L1476.4 1666.7L1478.2 1698.8L1480 1723.6L1481.8 1697.3L1483.6 1663.3L1485.4 1625.6L1487.7 1666.1L1490 1702.5L1492.3 1730.6L1493.7 1706.4L1495.1 1675L1496.5 1640.1L1498.5 1673.8L1500.6 1704.1L1502.7 1727.5L1504.4 1701.4L1506.2 1667.4L1507.9 1629.7L1510 1665L1512 1696.8L1514.1 1721.3L1515.5 1696.3L1516.9 1663.9L1518.2 1628L1520.8 1665.7L1523.3 1699.6L1525.9 1725.8L1527 1704.7L1528.2 1677.4L1529.3 1647L1531.6 1679.2L1533.9 1708.3L1536.2 1730.6L1537.4 1706.2L1538.5 1674.6L1539.7 1639.4L1542.3 1672.3L1545 1701.9L1547.6 1724.8L1548.8 1700.1L1549.9 1668L1551.1 1632.5L1553.6 1669.4L1556.2 1702.6L1558.7 1728.2L1560.2 1706.3L1561.7 1677.9L1563.2 1646.3L1565.3 1682.1L1567.3 1714.4L1569.4 1739.3L1570.8 1714.6L1572.2 1682.6L1573.5 1647L1575.9 1677.6L1578.2 1705.2L1580.5 1726.5L1581.6 1703.2L1582.8 1673L1583.9 1639.4L1586.2 1672.3L1588.5 1701.9L1590.8 1724.8L1592 1701.9L1593.1 1672.3L1594.3 1639.4L1596.9 1676.7L1599.6 1710.3L1602.2 1736.2L1603.6 1714.3L1605 1686L1606.4 1654.6L1608.7 1685L1611 1712.3L1613.3 1733.4L1614.8 1710.3L1616.3 1680.3L1617.8 1647L1620 1679.9L1622.2 1709.5L1624.4 1732.4L1625.6 1709.1L1626.9 1678.8L1628.2 1645.3L1630.7 1687.6L1633.2 1725.8L1635.8 1755.2L1637.1 1732L1638.5 1701.9L1639.9 1668.4L1641.8 1696.1L1643.6 1721.1L1645.4 1740.3L1647.4 1717.2L1649.4 1687.2L1651.3 1653.9L1653 1686.5L1654.8 1715.9L1656.5 1738.6L1658.2 1715.9L1660 1686.5L1661.7 1653.9L1664 1688.9L1666.3 1720.5L1668.6 1744.8L1670.1 1723.1L1671.6 1694.9L1673.1 1663.6L1675 1694.9L1677 1723.1L1679 1744.8L1680.7 1721.7L1682.4 1691.7L1684.1 1658.4L1686.2 1689.3L1688.3 1717.1L1690.4 1738.6L1691.8 1717.1L1693.1 1689.3L1694.5 1658.4L1697.1 1693.3L1699.6 1724.7L1702.1 1749L1703.6 1728.2L1705.1 1701.2L1706.6 1671.2L1708.7 1699.4L1710.8 1724.9L1712.8 1744.5L1714.2 1723.5L1715.6 1696.2L1717 1666L1719.3 1696.6L1721.6 1724.2L1723.9 1745.5L1725.3 1723.6L1726.7 1695.2L1728 1663.6L1730.5 1697.8L1732.9 1728.7L1735.3 1752.4L1736.7 1731.6L1738.1 1704.6L1739.4 1674.7L1741.8 1702.4L1744.1 1727.3L1746.4 1746.5L1747.9 1725.5L1749.4 1698.1L1750.9 1667.7L1752.8 1698.1L1754.8 1725.5L1756.7 1746.5L1758.2 1725.9L1759.7 1699.2L1761.2 1669.5L1763.8 1702.8L1766.3 1732.8L1768.8 1755.9L1770.2 1735.1L1771.6 1708.1L1773 1678.1L1775 1708.1L1777.1 1735.1L1779.2 1755.9L1780.6 1735.1L1782 1708.1L1783.3 1678.1L1785.4 1702.7L1787.5 1724.9L1789.6 1742.1L1791.3 1723.1L1793 1698.5L1794.7 1671.2L1796.8 1697.8L1798.9 1721.8L1801 1740.3L1802.4 1720.4L1803.7 1694.6L1805.1 1666L1807.4 1702.4L1809.7 1735.1L1812 1760.4L1813.4 1739.7L1814.8 1713L1816.2 1683.3L1818.2 1706.6L1820.3 1727.6L1822.4 1743.8L1823.9 1726.4L1825.4 1703.8L1826.9 1678.8L1828.8 1700.1L1830.8 1719.3L1832.8 1734.1L1834.5 1716.8L1836.2 1694.4L1837.9 1669.5L1840.3 1703.4L1842.6 1734L1844.9 1757.6L1846.4 1738.5L1847.9 1713.6L1849.4 1686.1L1851.5 1712.3L1853.7 1735.9L1855.9 1754.1L1857.4 1733.8L1858.9 1707.4L1860.4 1678.1L1862.7 1704.7L1865 1728.7L1867.3 1747.2L1868.5 1728.5L1869.6 1704.1L1870.8 1677.1L1873.1 1708.1L1875.4 1736.1L1877.7 1757.6L1879.4 1738.8L1881.2 1714.5L1882.9 1687.4L1884.8 1712.9L1886.8 1735.8L1888.8 1753.5L1890.6 1735.1L1892.4 1711.4L1894.3 1685L1896 1711.9L1897.7 1736.2L1899.5 1754.8L1901.2 1736.4L1902.9 1712.6L1904.7 1686.1L1906.8 1714L1909 1739.2L1911.2 1758.6L1912.7 1742.4L1914.2 1721.2L1915.7 1697.8L1917.8 1720.2L1919.9 1740.3L1921.9 1755.9L1923.5 1737.1L1925.2 1712.7L1926.8 1685.7L1928.8 1712.5L1930.9 1736.6L1933 1755.2L1934.5 1736.6L1936 1712.5L1937.5 1685.7L1939.4 1709.7L1941.4 1731.3L1943.4 1747.9L1945.1 1730.2L1946.8 1707.1L1948.5 1681.6L1950.9 1714.6L1953.2 1744.3L1955.5 1767.3L1957 1748.2L1958.5 1723.5L1960 1696.1L1961.9 1719.5L1963.9 1740.6L1965.8 1756.9L1967.3 1739.8L1968.8 1717.6L1970.3 1693L1972.3 1716.5L1974.2 1737.8L1976.2 1754.1L1977.9 1737L1979.7 1714.8L1981.4 1690.2L1983.9 1719.5L1986.5 1745.9L1989 1766.2L1990.3 1749L1991.5 1726.5L1992.8 1701.6L1995.1 1724.5L1997.4 1745.2L1999.7 1761.1L2001.1 1743.8L2002.5 1721.3L2003.8 1696.4L2006.2 1719.6L2008.5 1740.5L2010.8 1756.6L2011.9 1739L2013.1 1716.2L2014.2 1690.9L2016.9 1719.7L2019.5 1745.6L2022.2 1765.6L2023.8 1749.8L2025.4 1729.4L2027 1706.8L2028.3 1721.4L2029.5 1734.6L2030.8 1744.8L2032.2 1729.7L2033.6 1710.2L2035 1688.5L2037.6 1717.5L2040.3 1743.7L2042.9 1763.8L2044.6 1747.2L2046.4 1725.6L2048.1 1701.6L2050.4 1726.5L2052.7 1749L2055 1766.2L2056.4 1752.4L2057.8 1734.4L2059.1 1714.4L2061.2 1732.4L2063.3 1748.6L2065.4 1761.1L2067 1746.5L2068.6 1727.7L2070.2 1706.8L2072.1 1726.6L2073.9 1744.5L2075.7 1758.3L2077.4 1743L2079 1723.2L2080.6 1701.3L2082.6 1722L2084.7 1740.8L2086.8 1755.2L2088.3 1740.1L2089.8 1720.6L2091.3 1698.8L2093.8 1724.8L2096.4 1748.2L2098.9 1766.2L2100.4 1751.2L2101.9 1731.6L2103.4 1709.9L2105.6 1729.6L2107.8 1747.4L2110 1761.1L2111.5 1746.7L2112.9 1728.1L2114.4 1707.5L2116.2 1725.1L2117.9 1740.9L2119.6 1753.1L2121.4 1738.4L2123.1 1719.3L2124.8 1698.2L2127.4 1726.4L2129.9 1751.8L2132.4 1771.4L2133.7 1756.4L2135 1736.8L2136.2 1715.1L2138.4 1733.9L2140.6 1750.8L2142.8 1763.8L2144.1 1748.6L2145.3 1728.8L2146.6 1706.8L2148.9 1727.3L2151.2 1745.8L2153.5 1760L2154.9 1747.2L2156.3 1730.5L2157.6 1712L2159.7 1728.9L2161.8 1744.1L2163.9 1755.9L2165.3 1742.2L2166.6 1724.4L2168 1704.7L2170.6 1728.2L2173.1 1749.3L2175.6 1765.6L2177.4 1752.1L2179.1 1734.5L2180.8 1715.1L2182.6 1732.8L2184.5 1748.8L2186.3 1761.1L2187.9 1748.8L2189.6 1732.8L2191.2 1715.1L2193.6 1735.5L2196 1753.8L2198.4 1768L2199.8 1755.7L2201.2 1739.7L2202.6 1722L2204.7 1736.7L2206.7 1749.9L2208.8 1760L2210.4 1746L2212 1727.7L2213.6 1707.5L2215.7 1728.1L2217.8 1746.7L2219.9 1761.1L2221.4 1749.5L2222.9 1734.5L2224.4 1717.9L2226.7 1737.8L2229 1755.8L2231.3 1769.7L2232.6 1756.3L2234 1738.9L2235.4 1719.6L2237.7 1736.6L2240 1752L2242.3 1763.8L2243.7 1752L2245.1 1736.6L2246.5 1719.6L2248.5 1736.6L2250.6 1752L2252.7 1763.8L2254.2 1750.9L2255.7 1734.1L2257.2 1715.4L2259.7 1735.7L2262.3 1753.9L2264.8 1768L2266.5 1754.8L2268.2 1737.8L2270 1718.9L2272.1 1727.8L2274.1 1735.9L2276.2 1742.1L2276.8 1728.6L2277.4 1711.2L2277.9 1691.9L2278.7 1679L2279.5 1662.2L2280.3 1643.5L2282.6 1638L2285 1630.8L2287.3 1622.8L2289 1611.7L2290.7 1597.3L2292.4 1581.3L2293.4 1564.7L2294.3 1543.1L2295.2 1519.1L2296.2 1500.6L2297.3 1476.6L2298.3 1450.0" fill="none" stroke="#0072bd" stroke-width="3.1" stroke-linejoin="round" stroke-linecap="round"/>
<path d="M263.3 1454.6L274.2 1454.6M312.2 1629.1L315.1 1615L318 1596.7L320.8 1576.4M348.5 1679.2L351.4 1660.3L354.3 1635.7L357.1 1608.4M1185.2 1738.2L1188.1 1708.9L1190.9 1670.8L1193.8 1628.5M1283.7 1874.8L1286.6 1879.4L1289.4 1883.6L1292.3 1886.9L1295.5 1892.5L1298.7 1897.6L1301.8 1901.6M1311.3 1755.5L1314.3 1782.2L1317.3 1806.2L1320.3 1824.7M1329.5 1710.6L1332.8 1750.5L1336 1786.5L1339.3 1814.3M1356.3 1651.8L1359.6 1699.8L1362.9 1743L1366.3 1776.3M1370.1 1654.4L1373 1696.4L1375.9 1734.2L1378.7 1763.3" fill="none" stroke="#0072bd" stroke-width="2.7" stroke-linejoin="round" stroke-linecap="round"/>
</g>
<text class="tk" transform="scale(0.95 1)"><tspan x="384.8" y="1985.8">1</tspan></text>
<text class="tk" transform="scale(0.95 1)"><tspan x="604.3" y="1985.8">2</tspan></text>
<text class="tk" transform="scale(0.95 1)"><tspan x="823.1" y="1985.8">3</tspan></text>
<text class="tk" transform="scale(0.95 1)"><tspan x="1042.6" y="1985.8">4</tspan></text>
<text class="tk" transform="scale(0.95 1)"><tspan x="1259.2" y="1985.8">5</tspan></text>
<text class="tk" transform="scale(0.95 1)"><tspan x="1478.4" y="1985.8">6</tspan></text>
<text class="tk" transform="scale(0.95 1)"><tspan x="1697.2" y="1985.8">7</tspan></text>
<text class="tk" transform="scale(0.95 1)"><tspan x="1917.1" y="1985.8">8</tspan></text>
<text class="tk" transform="scale(0.95 1)"><tspan x="2136" y="1985.8">9</tspan></text>
<text class="tk" transform="scale(0.95 1)"><tspan x="2338.9" y="1985.8" style="letter-spacing:-1.3px">10</tspan></text>
<text class="tk" transform="scale(0.95 1)"><tspan x="183.8" y="1475.3">2</tspan></text>
<text class="tk" transform="scale(0.95 1)"><tspan x="183.8" y="1702.3">0</tspan></text>
<text class="tk" transform="scale(0.95 1)"><tspan x="134.8" y="1935.8" style="font-size:82px">−</tspan><tspan x="183.8" y="1924">2</tspan></text>
<text class="lb" x="1266.5" y="2081.1" text-anchor="middle">Time [s]</text>
<text class="tk" transform="scale(0.95 1)"><tspan x="2244.8" y="2076.1" style="font-size:81px">×</tspan><tspan x="2296.3" y="2063.6" style="letter-spacing:-1.3px">10</tspan><tspan x="2363" y="2047.1" style="font-size:55px">−</tspan><tspan x="2399.2" y="2042.8" style="font-size:46px">5</tspan></text>
<text class="lb" transform="translate(95.7 1684.2) rotate(-90)" text-anchor="middle">[V]</text>
</g>
<g id="plot4">
<path d="M227.5 2169.7H2298.6V2618.2H227.5ZM378.2 2618.2v-21M378.2 2169.7v21M586.7 2618.2v-21M586.7 2169.7v21M794.6 2618.2v-21M794.6 2169.7v21M1003.1 2618.2v-21M1003.1 2169.7v21M1208.9 2618.2v-21M1208.9 2169.7v21M1417.1 2618.2v-21M1417.1 2169.7v21M1625 2618.2v-21M1625 2169.7v21M1833.9 2618.2v-21M1833.9 2169.7v21M2041.8 2618.2v-21M2041.8 2169.7v21M2247.6 2618.2v-21M2247.6 2169.7v21M227.5 2393.6h21M2298.6 2393.6h-21" fill="none" stroke="#b2b2b2" stroke-width="7.9" stroke-linecap="butt" stroke-linejoin="miter"/>
<path d="M227.5 2169.7H2298.6V2618.2H227.5ZM378.2 2618.2v-21M378.2 2169.7v21M586.7 2618.2v-21M586.7 2169.7v21M794.6 2618.2v-21M794.6 2169.7v21M1003.1 2618.2v-21M1003.1 2169.7v21M1208.9 2618.2v-21M1208.9 2169.7v21M1417.1 2618.2v-21M1417.1 2169.7v21M1625 2618.2v-21M1625 2169.7v21M1833.9 2618.2v-21M1833.9 2169.7v21M2041.8 2618.2v-21M2041.8 2169.7v21M2247.6 2618.2v-21M2247.6 2169.7v21M227.5 2393.6h21M2298.6 2393.6h-21" fill="none" stroke="#242424" stroke-width="2.9" stroke-linecap="butt" stroke-linejoin="miter"/>
<text class="ti" x="952.3" y="2243.7">Time signal at 100 cm</text>
<g clip-path="url(#c4)"><path d="M295.7 2147.3L297.7 2173.2L300.7 2241.1L302.2 2203.9L303.7 2249.4L305.2 2214L306.7 2256.1L308.2 2213.3L309.7 2264.9L311.2 2202.5L312.7 2276.4L314.2 2206.1L315.7 2295.8L317.2 2231.3L318.7 2285L320.2 2244.8L321.7 2309.4L323.2 2247.3L324.7 2295.4L326.2 2258.1L327.7 2316.2L329.2 2262.5L330.7 2327.6L332.2 2275.3L333.7 2328.8L335.2 2278.3L336.7 2339.9L338.2 2271.8L339.7 2328.2L341.2 2280.1L342.7 2339.5L344.2 2283.7L345.7 2349.1L347.2 2298.8L348.7 2359.6L350.2 2306.2L351.7 2357.6L353.2 2310.2L354.7 2354.8L356.2 2317.3L357.7 2352.2L359.2 2319.3L360.7 2353.8L362.2 2321.8L363.7 2355.8L365.2 2326.7L366.7 2363.5L368.2 2323.3L369.7 2363.4L371.2 2329.3L372.7 2375.8L374.2 2334.2L375.7 2381.4L377.2 2339.3L378.7 2374.5L380.2 2332.1L381.7 2390.9L383.2 2333.4L384.7 2378.6L386.2 2337.7L387.7 2379.6L389.2 2346.6L390.7 2382.6L392.2 2349L393.7 2382.3L395.2 2350L396.7 2386.7L398.2 2350.9L399.7 2381.5L401.2 2354.3L402.7 2387.9L404.2 2351.6L405.7 2388.3L407.2 2346.9L408.7 2404.8L410.2 2351.7L411.7 2398.2L413.2 2352.6L414.7 2390L416.2 2345.1L417.7 2392.2L419.2 2335.6L420.7 2398.3L422.2 2347.9L423.7 2390.5L425.2 2359.6L426.7 2400.9L428.2 2347L429.7 2390.7L431.2 2340.8L432.7 2398.7L434.2 2315.8L435.7 2390.7L437.2 2337.2L438.7 2391.1L440.2 2348.6L441.7 2399.6L443.2 2336.7L444.7 2391.1L446.2 2348.8L447.7 2406.2L449.2 2360.7L450.7 2406L452.2 2354.5L453.7 2401L455.2 2356.9L456.7 2405.9L458.2 2357.5L459.7 2402.7L461.2 2346.5L462.7 2399.7L464.2 2349.5L465.7 2396.6L467.2 2359.5L468.7 2398L470.2 2352.5L471.7 2406.8L473.2 2355.6L474.7 2394.1L476.2 2359.9L477.7 2392.7L479.2 2358.9L480.7 2396.5L482.2 2350.2L483.7 2392.6L485.2 2347.2L486.7 2397.7L488.2 2343.5L489.7 2401.6L491.2 2343.1L492.7 2408.4L494.2 2335.9L495.7 2411.5L497.2 2340.3L498.7 2417.9L500.2 2346.3L501.7 2392.5L503.2 2347.8L504.7 2404.9L506.2 2355.8L507.7 2397.9L509.2 2352.1L510.7 2397.9L512.2 2353.4L513.7 2387L515.2 2356.8L516.7 2395.7L518.2 2346.2L519.7 2403.3L521.2 2330.8L522.7 2402.3L524.2 2341.4L525.7 2405.2L527.2 2354.3L528.7 2389.6L530.2 2341.5L531.7 2406L533.2 2351.6L534.7 2404.7L536.2 2352.9L537.7 2386.3L539.2 2351.4L540.7 2388.1L542.2 2353.9L543.7 2392.2L545.2 2340.6L546.7 2388.1L548.2 2309.7L549.7 2390.3L551.2 2342.2L552.7 2406.2L554.2 2350.9L555.7 2387.8L557.2 2352.8L558.7 2420.3L560.2 2351.8L561.7 2392.9L563.2 2325.6L564.7 2394.5L566.2 2332.7L567.7 2395.1L569.2 2336.9L570.7 2391.5L572.2 2331L573.7 2388.8L575.2 2337.8L576.7 2395L578.2 2354.6L579.7 2405.8L581.2 2356.5L582.7 2398.4L584.2 2357.2L585.7 2399.7L587.2 2348.1L588.7 2398.8L590.2 2350.7L591.7 2385.8L593.2 2352.7L594.7 2396L596.2 2352.7L597.7 2390.6L599.2 2348.4L600.7 2395.4L602.2 2338.4L603.7 2392.6L605.2 2353.5L606.7 2401.4L608.2 2350.2L609.7 2393.2L611.2 2338.3L612.7 2391.5L614.2 2340.1L615.7 2395L617.2 2353.3L618.7 2382.3L620.2 2339.2L621.7 2385.3L623.2 2345.4L624.7 2389.4L626.2 2331.4L627.7 2383.3L629.2 2348.6L630.7 2385.2L632.2 2333.1L633.7 2389.6L635.2 2351.8L636.7 2393.5L638.2 2342.6L639.7 2407.5L641.2 2342.9L642.7 2387.6L644.2 2351.2L645.7 2380.3L647.2 2342L648.7 2378.7L650.2 2336.8L651.7 2393.1L653.2 2343.4L654.7 2397.4L656.2 2309.7L657.7 2413.4L659.2 2327.7L660.7 2399.2L662.2 2341.5L663.7 2383.3L665.2 2339.8L666.7 2390.2L668.2 2343L669.7 2380.3L671.2 2345.8L672.7 2380.4L674.2 2342.2L675.7 2385.7L677.2 2341.9L678.7 2392.9L680.2 2341.6L681.7 2391.5L683.2 2338.9L684.7 2384.1L686.2 2330.9L687.7 2389.7L689.2 2335.3L690.7 2389.3L692.2 2348.8L693.7 2390.6L695.2 2347.8L696.7 2387.1L698.2 2356L699.7 2393.6L701.2 2339.8L702.7 2403.6L704.2 2315.2L705.7 2402L707.2 2346.1L708.7 2396.1L710.2 2347.6L711.7 2405.8L713.2 2357.5L714.7 2404L716.2 2348.1L717.7 2398.8L719.2 2329L720.7 2404.1L722.2 2343.3L723.7 2392.6L725.2 2345.7L726.7 2395.3L728.2 2345.3L729.7 2415.3L731.2 2304.5L732.7 2393.7L734.2 2339.9L735.7 2424.8L737.2 2356L738.7 2406L740.2 2349.3L741.7 2406.3L743.2 2350.2L744.7 2393.8L746.2 2347.3L747.7 2389.7L749.2 2352.4L750.7 2394.2L752.2 2329.7L753.7 2410L755.2 2342.5L756.7 2388.6L758.2 2319.4L759.7 2420.6L761.2 2327.6L762.7 2405.4L764.2 2335.4L765.7 2393.9L767.2 2355L768.7 2403.3L770.2 2334.8L771.7 2403.2L773.2 2345.1L774.7 2399.2L776.2 2337.4L777.7 2397.2L779.2 2345.9L780.7 2389.3L782.2 2339.3L783.7 2395.5L785.2 2319.4L786.7 2397.1L788.2 2342.9L789.7 2387.8L791.2 2336.1L792.7 2423L794.2 2352.7L795.7 2413.3L797.2 2344.7L798.7 2395L800.2 2336.6L801.7 2410.9L803.2 2326.4L804.7 2388.7L806.2 2320.3L807.7 2404.2L809.2 2348.9L810.7 2389.4L812.2 2336L813.7 2394.8L815.2 2349.7L816.7 2407.9L818.2 2348.3L819.7 2400L821.2 2355L822.7 2389.2L824.2 2344.2L825.7 2390.6L827.2 2351.1L828.7 2388.9L830.2 2341.1L831.7 2388.2L833.2 2339.6L834.7 2400.8L836.2 2348.7L837.7 2387L839.2 2354.3L840.7 2397.8L842.2 2353.9L843.7 2393.2L845.2 2352.5L846.7 2393.6L848.2 2341.7L849.7 2394.9L851.2 2339.3L852.7 2395.2L854.2 2342.6L855.7 2397.6L857.2 2345L858.7 2404.5L860.2 2295.2L861.7 2413.2L863.2 2330.7L864.7 2417.5L866.2 2343.4L867.7 2403.6L869.2 2354.6L870.7 2405.4L872.2 2347.6L873.7 2413.8L875.2 2358.8L876.7 2404.2L878.2 2355L879.7 2393.5L881.2 2333.2L882.7 2400.2L884.2 2346.9L885.7 2391.7L887.2 2357.2L888.7 2397.3L890.2 2347L891.7 2404.5L893.2 2329.7L894.7 2423L896.2 2348.8L897.7 2415.4L899.2 2350.1L900.7 2397.6L902.2 2356.1L903.7 2397.9L905.2 2348.6L906.7 2395.5L908.2 2331.5L909.7 2403.1L911.2 2358.8L912.7 2418.5L914.2 2348.9L915.7 2415.7L917.2 2355.1L918.7 2431.7L920.2 2359.9L921.7 2396.9L923.2 2363.5L924.7 2401.4L926.2 2366.9L927.7 2392.5L929.2 2348.7L930.7 2400.9L932.2 2346.2L933.7 2404.9L935.2 2335.3L936.7 2406.9L938.2 2343.9L939.7 2409.8L941.2 2322.8L942.7 2418L944.2 2337.6L945.7 2416.6L947.2 2350.8L948.7 2429.6L950.2 2345.7L951.7 2431.7L953.2 2346.9L954.7 2410.1L956.2 2352.8L957.7 2403.7L959.2 2356.7L960.7 2398.7L962.2 2355.8L963.7 2416.9L965.2 2346.6L966.7 2426.5L968.2 2363.2L969.7 2435.1L971.2 2353.7L972.7 2404.4L974.2 2331.3L975.7 2408.1L977.2 2359.6L978.7 2400.6L980.2 2357L981.7 2407.8L983.2 2348.4L984.7 2402.1L986.2 2349.8L987.7 2404.2L989.2 2325.6L990.7 2430L992.2 2355L993.7 2407.4L995.2 2366.3L996.7 2415.2L998.2 2354.8L999.7 2405.4L1001.2 2347.6L1002.7 2401.2L1004.2 2343L1005.7 2407.2L1007.2 2353.7L1008.7 2409.4L1010.2 2334.9L1011.7 2428.8L1013.2 2356.5L1014.7 2414.4L1016.2 2369.5L1017.7 2442.1L1019.2 2369.9L1020.7 2437L1022.2 2377.4L1023.7 2429L1025.2 2373.3L1026.7 2425.7L1028.2 2341.8L1029.7 2426.8L1031.2 2365.7L1032.7 2408.5L1034.2 2370L1035.7 2425.9L1037.2 2368.9L1038.7 2436.9L1040.2 2370.1L1041.7 2419.5L1043.2 2375.8L1044.7 2429.3L1046.2 2370.1L1047.7 2423.1L1049.2 2352.9L1050.7 2423.3L1052.2 2366L1053.7 2433.6L1055.2 2358.3L1056.7 2431.1L1058.2 2339.4L1059.7 2442.1L1061.2 2361.8L1062.7 2431.8L1064.2 2362.7L1065.7 2425.4L1067.2 2361.8L1068.7 2431.5L1070.2 2364.4L1071.7 2421.2L1073.2 2372L1074.7 2403.3L1076.2 2371.6L1077.7 2408.8L1079.2 2339.6L1080.7 2404.9L1082.2 2364.6L1083.7 2442.1L1085.2 2352.3L1086.7 2409.7L1088.2 2350.8L1089.7 2418.9L1091.2 2356.5L1092.7 2417.2L1094.2 2363.5L1095.7 2423.5L1097.2 2377.2L1098.7 2414.8L1100.2 2374.6L1101.7 2409.7L1103.2 2369.6L1104.7 2404.6L1106.2 2343.2L1107.7 2429.2L1109.2 2351.6L1110.7 2421.1L1112.2 2338.3L1113.7 2442.1L1115.2 2358.9L1116.7 2426.9L1118.2 2362.6L1119.7 2409L1121.2 2364.1L1122.7 2407.7L1124.2 2349.3L1125.7 2414.8L1127.2 2365.4L1128.7 2405.8L1130.2 2367.9L1131.7 2412.9L1133.2 2366.8L1134.7 2411.9L1136.2 2341.3L1137.7 2410.9L1139.2 2312.4L1140.7 2418.3L1142.2 2355.9L1143.7 2431.4L1145.2 2365.7L1146.7 2438.6L1148.2 2361L1149.7 2407.3L1151.2 2360.6L1152.7 2419.7L1154.2 2354.7L1155.7 2414.5L1157.2 2357.1L1158.7 2405.7L1160.2 2339.4L1161.7 2414.7L1163.2 2370.4L1164.7 2410.4L1166.2 2366.1L1167.7 2423.3L1169.2 2373.3L1170.7 2437.6L1172.2 2347L1173.7 2426.3L1175.2 2368.2L1176.7 2420L1178.2 2370.6L1179.7 2438.8L1181.2 2357.2L1182.7 2435.4L1184.2 2343.5L1185.7 2424.2L1187.2 2359.1L1188.7 2411.8L1190.2 2359.6L1191.7 2415.8L1193.2 2375.5L1194.7 2416.3L1196.2 2366.9L1197.7 2416.9L1199.2 2362.3L1200.7 2423.6L1202.2 2346.6L1203.7 2409.5L1205.2 2329L1206.7 2430.5L1208.2 2352.9L1209.7 2408.6L1211.2 2372L1212.7 2435.6L1214.2 2363.1L1215.7 2436.1L1217.2 2353.4L1218.7 2435.1L1220.2 2352.9L1221.7 2430.5L1223.2 2349L1224.7 2411.7L1226.2 2359.9L1227.7 2426.9L1229.2 2365.9L1230.7 2423.9L1232.2 2356.2M1320.7 2418.9L1322.2 2551.1L1323.7 2389.7L1325.2 2536L1326.7 2355.7L1328.2 2540.7L1329.7 2405.6L1331.2 2507.9L1332.7 2411.7L1334.2 2511.6L1335.7 2328L1337.2 2502.6L1338.7 2380.2L1340.2 2523.7L1341.7 2410.1L1343.2 2472.2L1344.7 2328.7L1346.2 2512.4L1347.7 2343.1L1349.2 2471.4L1350.7 2399.6L1352.2 2476L1353.7 2322.3L1355.2 2482.1L1356.7 2368.4L1358.2 2442.4L1359.7 2386.5L1361.2 2442.3L1362.7 2384.3L1364.2 2485.8L1365.7 2325.8L1367.2 2476.3L1368.7 2306.5L1370.2 2442.6L1371.7 2384L1373.2 2436.1L1374.7 2384.4L1376.2 2433.9L1377.7 2366.7L1379.2 2495L1380.7 2313.2L1382.2 2425.8L1383.7 2284L1385.2 2405.1L1386.7 2345.2L1388.2 2411.2L1389.7 2287.1L1391.2 2409.7L1392.7 2337.3L1394.2 2445.8L1395.7 2311.5L1397.2 2432.9L1398.7 2237.9L1400.2 2401.1L1401.7 2293.8L1403.2 2401L1404.7 2254.9L1406.2 2419.2L1407.7 2315.6L1409.2 2416.1L1410.7 2349.5L1412.2 2406.5L1413.7 2345.6L1415.2 2414.1L1416.7 2335.5L1418.2 2430.5L1419.7 2344.6L1421.2 2404.8L1422.7 2318.8L1424.2 2449.9L1425.7 2273.8L1427.2 2403.6L1428.7 2308.4L1430.2 2420.5L1431.7 2324.4L1433.2 2386.8L1434.7 2269.7L1436.2 2413.2L1437.7 2311.5L1439.2 2397.5L1440.7 2332.4L1442.2 2415.4L1443.7 2332L1445.2 2434.1L1446.7 2271.2L1448.2 2421.8L1449.7 2342.2L1451.2 2414.4L1452.7 2335.4L1454.2 2415.9L1455.7 2289.8L1457.2 2393.5L1458.7 2321.1L1460.2 2389.1L1461.7 2279.7L1463.2 2418.4L1464.7 2333.8L1466.2 2413.1L1467.7 2354.3L1469.2 2394.2L1470.7 2327.8L1472.2 2455.4L1473.7 2293.1L1475.2 2393.1L1476.7 2309.3L1478.2 2422.5L1479.7 2319.2L1481.2 2412L1482.7 2350.9L1484.2 2396.1L1485.7 2346.9L1487.2 2393.7L1488.7 2353.6L1490.2 2423.2L1491.7 2311L1493.2 2437.5L1494.7 2282.6L1496.2 2426.3L1497.7 2343.9L1499.2 2408.7L1500.7 2343.9L1502.2 2412L1503.7 2330L1505.2 2433.3L1506.7 2323.2L1508.2 2428L1509.7 2345.5L1511.2 2455.9L1512.7 2343.4L1514.2 2441.2L1515.7 2302.5L1517.2 2402.7L1518.7 2332.5L1520.2 2422.6L1521.7 2286.1L1523.2 2417.4L1524.7 2304.8L1526.2 2394.7L1527.7 2294.7L1529.2 2420.8L1530.7 2338.5L1532.2 2435.7L1533.7 2301L1535.2 2402.6L1536.7 2271L1538.2 2438.8L1539.7 2290.5L1541.2 2439.6L1542.7 2345.5L1544.2 2432.5L1545.7 2342.2L1547.2 2400.2L1548.7 2328L1550.2 2434.1L1551.7 2352.1L1553.2 2417L1554.7 2328.2L1556.2 2412.5L1557.7 2331.5L1559.2 2437.3L1560.7 2323.4L1562.2 2450.7L1563.7 2356.8L1565.2 2418.7L1566.7 2360.8L1568.2 2443L1569.7 2323.6L1571.2 2423.9L1572.7 2357.1L1574.2 2404.7L1575.7 2284.8L1577.2 2431.7L1578.7 2317.8L1580.2 2425.3L1581.7 2356.2L1583.2 2441.1L1584.7 2353.5L1586.2 2418.9L1587.7 2360.3L1589.2 2420L1590.7 2357L1592.2 2444.9L1593.7 2356.5L1595.2 2464.5L1596.7 2369.2L1598.2 2456.8L1599.7 2337.7L1601.2 2423L1602.7 2322L1604.2 2446L1605.7 2295.2L1607.2 2426L1608.7 2332.9L1610.2 2413.3L1611.7 2370.8L1613.2 2415.3L1614.7 2356.2L1616.2 2450.7L1617.7 2355.4L1619.2 2441.6L1620.7 2374.5L1622.2 2448.6L1623.7 2360.1L1625.2 2455L1626.7 2367.9L1628.2 2483.5L1629.7 2369.8L1631.2 2432L1632.7 2364.2L1634.2 2470.2L1635.7 2371.2L1637.2 2458.5L1638.7 2331.5L1640.2 2452L1641.7 2372.1L1643.2 2455.9L1644.7 2356.7L1646.2 2453.9L1647.7 2339.5L1649.2 2429.4L1650.7 2314.2L1652.2 2453.1L1653.7 2339L1655.2 2425L1656.7 2347.8L1658.2 2459.4L1659.7 2367.9L1661.2 2441.8L1662.7 2382.5L1664.2 2467.4L1665.7 2363.3L1667.2 2435.2L1668.7 2383.6L1670.2 2431.6L1671.7 2350.3L1673.2 2458.1L1674.7 2345.6L1676.2 2462.1L1677.7 2329.7L1679.2 2447.7L1680.7 2384.3L1682.2 2457.9L1683.7 2386.1L1685.2 2456.7L1686.7 2366.9L1688.2 2444.7L1689.7 2398.2L1691.2 2472.7L1692.7 2388.8L1694.2 2454.3L1695.7 2375L1697.2 2466L1698.7 2369.4L1700.2 2473.8L1701.7 2370.2L1703.2 2459.1L1704.7 2357.4L1706.2 2476.9L1707.7 2370.2L1709.2 2473.7L1710.7 2401L1712.2 2480.7L1713.7 2392.3L1715.2 2480.2L1716.7 2405L1718.2 2467.8L1719.7 2373.3L1721.2 2483.3L1722.7 2382.4L1724.2 2467.9L1725.7 2393.9L1727.2 2483.1L1728.7 2374.2L1730.2 2462.7L1731.7 2385.3L1733.2 2479.4L1734.7 2389L1736.2 2455.8L1737.7 2399.7L1739.2 2473.9L1740.7 2410.8L1742.2 2482.8L1743.7 2419.8L1745.2 2502.5L1746.7 2400L1748.2 2492L1749.7 2401.3L1751.2 2489.9L1752.7 2350.5L1754.2 2457.7L1755.7 2379.5L1757.2 2461.7L1758.7 2386.4L1760.2 2458.6L1761.7 2396.1L1763.2 2483.7L1764.7 2386.1L1766.2 2469.2L1767.7 2400.7L1769.2 2455.1L1770.7 2373.4L1772.2 2464.1L1773.7 2378.9L1775.2 2465L1776.7 2357.4L1778.2 2469.2L1779.7 2395.7L1781.2 2452.9L1782.7 2395.6L1784.2 2470L1785.7 2414L1787.2 2455.2L1788.7 2387.8L1790.2 2492.9L1791.7 2410.3L1793.2 2457.2L1794.7 2353.9L1796.2 2500.9L1797.7 2406.7L1799.2 2486.1L1800.7 2408.2L1802.2 2474.9L1803.7 2408.3L1805.2 2497.3L1806.7 2411.6L1808.2 2495.2L1809.7 2400.6L1811.2 2467.5L1812.7 2413L1814.2 2496.6L1815.7 2379.6L1817.2 2483.8L1818.7 2388.4L1820.2 2480.3L1821.7 2350.5L1823.2 2480L1824.7 2400.9L1826.2 2459.1L1827.7 2380.8L1829.2 2469.4L1830.7 2416.3L1832.2 2490.7L1833.7 2423.9L1835.2 2496.1L1836.7 2426.8L1838.2 2483.9L1839.7 2419.5L1841.2 2516.4L1842.7 2406.8L1844.2 2485.1L1845.7 2397.7L1847.2 2479.9L1848.7 2390.6L1850.2 2489.6L1851.7 2369L1853.2 2480.3L1854.7 2390.4L1856.2 2494.7L1857.7 2406.3L1859.2 2473.1L1860.7 2386.1L1862.2 2492.5L1863.7 2357.4L1865.2 2495.5L1866.7 2373.7L1868.2 2485.6L1869.7 2382.4L1871.2 2485.5L1872.7 2407.6L1874.2 2500L1875.7 2418.2L1877.2 2499.6L1878.7 2424.9L1880.2 2475.5L1881.7 2418.7L1883.2 2505.4L1884.7 2417.5L1886.2 2496.5L1887.7 2430.5L1889.2 2509L1890.7 2424.4L1892.2 2473.6L1893.7 2415.8L1895.2 2484.4L1896.7 2367.7L1898.2 2477.2L1899.7 2404.1L1901.2 2479.7L1902.7 2432.7L1904.2 2516.8L1905.7 2433.1L1907.2 2482.1L1908.7 2426.8L1910.2 2510.4L1911.7 2434.4L1913.2 2519.7L1914.7 2435.3L1916.2 2526.7L1917.7 2429.9L1919.2 2517.6L1920.7 2416.2L1922.2 2481L1923.7 2402L1925.2 2507.9L1926.7 2414.5L1928.2 2503.6L1929.7 2395.4L1931.2 2506.7L1932.7 2400.6L1934.2 2480.6L1935.7 2424.3L1937.2 2482.1L1938.7 2401.5L1940.2 2484.9L1941.7 2399.5L1943.2 2491.7L1944.7 2422.2L1946.2 2495L1947.7 2434.5L1949.2 2490.3L1950.7 2427.6L1952.2 2483L1953.7 2422.2L1955.2 2480.8L1956.7 2437L1958.2 2508.7L1959.7 2438.6L1961.2 2519.3L1962.7 2400.6L1964.2 2535.4L1965.7 2417.3L1967.2 2499.1L1968.7 2424.7L1970.2 2521.4L1971.7 2440L1973.2 2522L1974.7 2445.7L1976.2 2512.6L1977.7 2442.3L1979.2 2489.3L1980.7 2441.9L1982.2 2499L1983.7 2429.3L1985.2 2521L1986.7 2415.4L1988.2 2522.8L1989.7 2445.3L1991.2 2517.2L1992.7 2449L1994.2 2542.3L1995.7 2437.5L1997.2 2531.6L1998.7 2443.1L2000.2 2536.9L2001.7 2421.2L2003.2 2521.7L2004.7 2424.7L2006.2 2519.3L2007.7 2429L2009.2 2509.1L2010.7 2441.8L2012.2 2519.5L2013.7 2437L2015.2 2510.4L2016.7 2406.7L2018.2 2495.4L2019.7 2390.9L2021.2 2519.7L2022.7 2411.6L2024.2 2505.1L2025.7 2452.6L2027.2 2500.1L2028.7 2447.3L2030.2 2515.4L2031.7 2453.2L2033.2 2504.4L2034.7 2449.2L2036.2 2513.6L2037.7 2443.1L2039.2 2511.7L2040.7 2405.8L2042.2 2503.2L2043.7 2427.6L2045.2 2498.9L2046.7 2431.3L2048.2 2511.5L2049.7 2448.1L2051.2 2521.5L2052.7 2447.2L2054.2 2506.2L2055.7 2454.3L2057.2 2514L2058.7 2466L2060.2 2527L2061.7 2446.8L2063.2 2512.7L2064.7 2450L2066.2 2511.6L2067.7 2431.7L2069.2 2526.9L2070.7 2444.5L2072.2 2523.3L2073.7 2443.3L2075.2 2503.8L2076.7 2463.6L2078.2 2510.7L2079.7 2443.8L2081.2 2506.2L2082.7 2455L2084.2 2518.6L2085.7 2448.7L2087.2 2518.6L2088.7 2403.3L2090.2 2528.8L2091.7 2417.9L2093.2 2530.4L2094.7 2425.9L2096.2 2507.7L2097.7 2449.9L2099.2 2505L2100.7 2457.6L2102.2 2523.5L2103.7 2462.5L2105.2 2518.2L2106.7 2462.9L2108.2 2515.2L2109.7 2444.2L2111.2 2510.7L2112.7 2460.9L2114.2 2523.4L2115.7 2417.9L2117.2 2528.1L2118.7 2436.7L2120.2 2521.9L2121.7 2458.5L2123.2 2501.2L2124.7 2462.6L2126.2 2519.1L2127.7 2468.8L2129.2 2518.8L2130.7 2458.7L2132.2 2505L2133.7 2460.2L2135.2 2510.6L2136.7 2457.3L2138.2 2503.8L2139.7 2447.6L2141.2 2507.5L2142.7 2428.2L2144.2 2507.5L2145.7 2451.7L2147.2 2512.1L2148.7 2461.5L2150.2 2523.8L2151.7 2460.4L2153.2 2516.9L2154.7 2466.7L2156.2 2510.2L2157.7 2465.9L2159.2 2538.1L2160.7 2456.9L2162.2 2511.8L2163.7 2454.8L2165.2 2547.5L2166.7 2437.6L2168.2 2545L2169.7 2427.5L2171.2 2524L2172.7 2463.2L2174.2 2520.3L2175.7 2452L2177.2 2524.3L2178.7 2467.2L2180.2 2517.4L2181.7 2474.7L2183.2 2515L2184.7 2450.6L2186.2 2515.9L2187.7 2441.4L2189.2 2513.3L2190.7 2449.5L2192.2 2532L2193.7 2457.7L2195.2 2535.5L2196.7 2478.7L2198.2 2517.7L2199.7 2475.3L2201.2 2517.6L2202.7 2476.1L2204.2 2529.8L2205.7 2465.5L2207.2 2534.4L2208.7 2476.1L2210.2 2533.6L2211.7 2462L2213.2 2529.7L2214.7 2449.8L2216.2 2535.2L2217.7 2446.5L2219.2 2524.2L2220.7 2471L2222.2 2536.4L2223.7 2487.3L2225.2 2532.6L2226.7 2484.9L2228.2 2547.5L2229.7 2455.7L2231.2 2535.3L2232.7 2442.1L2234.2 2524.7L2235.7 2458L2237.2 2525.9L2238.7 2467.6L2240.2 2536.8L2241.7 2483.2L2243.2 2537.8L2244.7 2486.7L2246.2 2535L2247.7 2476.1L2249.2 2534.4L2250.7 2486L2252.2 2520.2L2253.7 2468.9L2255.2 2530.3L2256.7 2463.8L2258.2 2524.5L2259.7 2471.1L2261.2 2530.9L2262.7 2479.4L2264.2 2524.6L2265.7 2483.2L2267.2 2522.9" fill="none" stroke="#a9d6ee" stroke-width="7.2" stroke-linejoin="miter"/>
<path d="M1232.2 2356.2L1233.7 2365.9L1237.1 2472.2L1241.5 2403.9L1244.4 2495.7L1247.1 2602L1251.6 2533.7L1254.3 2634.4L1293 2634.4L1302 2379.3L1307.1 2634.4L1314.3 2377.1L1319.2 2580.7L1320.7 2418.9M2267.2 2522.9L2270 2530.2L2271.7 2430L2275.9 2473.2L2278.6 2322.8L2281 2305.5L2283.8 2319.4L2287.3 2169L2289 2115.4" fill="none" stroke="#a9d6ee" stroke-width="6.6" stroke-linejoin="round"/>
<path d="M295.7 2147.3L297.7 2173.2L300.7 2241.1L302.2 2203.9L303.7 2249.4L305.2 2214L306.7 2256.1L308.2 2213.3L309.7 2264.9L311.2 2202.5L312.7 2276.4L314.2 2206.1L315.7 2295.8L317.2 2231.3L318.7 2285L320.2 2244.8L321.7 2309.4L323.2 2247.3L324.7 2295.4L326.2 2258.1L327.7 2316.2L329.2 2262.5L330.7 2327.6L332.2 2275.3L333.7 2328.8L335.2 2278.3L336.7 2339.9L338.2 2271.8L339.7 2328.2L341.2 2280.1L342.7 2339.5L344.2 2283.7L345.7 2349.1L347.2 2298.8L348.7 2359.6L350.2 2306.2L351.7 2357.6L353.2 2310.2L354.7 2354.8L356.2 2317.3L357.7 2352.2L359.2 2319.3L360.7 2353.8L362.2 2321.8L363.7 2355.8L365.2 2326.7L366.7 2363.5L368.2 2323.3L369.7 2363.4L371.2 2329.3L372.7 2375.8L374.2 2334.2L375.7 2381.4L377.2 2339.3L378.7 2374.5L380.2 2332.1L381.7 2390.9L383.2 2333.4L384.7 2378.6L386.2 2337.7L387.7 2379.6L389.2 2346.6L390.7 2382.6L392.2 2349L393.7 2382.3L395.2 2350L396.7 2386.7L398.2 2350.9L399.7 2381.5L401.2 2354.3L402.7 2387.9L404.2 2351.6L405.7 2388.3L407.2 2346.9L408.7 2404.8L410.2 2351.7L411.7 2398.2L413.2 2352.6L414.7 2390L416.2 2345.1L417.7 2392.2L419.2 2335.6L420.7 2398.3L422.2 2347.9L423.7 2390.5L425.2 2359.6L426.7 2400.9L428.2 2347L429.7 2390.7L431.2 2340.8L432.7 2398.7L434.2 2315.8L435.7 2390.7L437.2 2337.2L438.7 2391.1L440.2 2348.6L441.7 2399.6L443.2 2336.7L444.7 2391.1L446.2 2348.8L447.7 2406.2L449.2 2360.7L450.7 2406L452.2 2354.5L453.7 2401L455.2 2356.9L456.7 2405.9L458.2 2357.5L459.7 2402.7L461.2 2346.5L462.7 2399.7L464.2 2349.5L465.7 2396.6L467.2 2359.5L468.7 2398L470.2 2352.5L471.7 2406.8L473.2 2355.6L474.7 2394.1L476.2 2359.9L477.7 2392.7L479.2 2358.9L480.7 2396.5L482.2 2350.2L483.7 2392.6L485.2 2347.2L486.7 2397.7L488.2 2343.5L489.7 2401.6L491.2 2343.1L492.7 2408.4L494.2 2335.9L495.7 2411.5L497.2 2340.3L498.7 2417.9L500.2 2346.3L501.7 2392.5L503.2 2347.8L504.7 2404.9L506.2 2355.8L507.7 2397.9L509.2 2352.1L510.7 2397.9L512.2 2353.4L513.7 2387L515.2 2356.8L516.7 2395.7L518.2 2346.2L519.7 2403.3L521.2 2330.8L522.7 2402.3L524.2 2341.4L525.7 2405.2L527.2 2354.3L528.7 2389.6L530.2 2341.5L531.7 2406L533.2 2351.6L534.7 2404.7L536.2 2352.9L537.7 2386.3L539.2 2351.4L540.7 2388.1L542.2 2353.9L543.7 2392.2L545.2 2340.6L546.7 2388.1L548.2 2309.7L549.7 2390.3L551.2 2342.2L552.7 2406.2L554.2 2350.9L555.7 2387.8L557.2 2352.8L558.7 2420.3L560.2 2351.8L561.7 2392.9L563.2 2325.6L564.7 2394.5L566.2 2332.7L567.7 2395.1L569.2 2336.9L570.7 2391.5L572.2 2331L573.7 2388.8L575.2 2337.8L576.7 2395L578.2 2354.6L579.7 2405.8L581.2 2356.5L582.7 2398.4L584.2 2357.2L585.7 2399.7L587.2 2348.1L588.7 2398.8L590.2 2350.7L591.7 2385.8L593.2 2352.7L594.7 2396L596.2 2352.7L597.7 2390.6L599.2 2348.4L600.7 2395.4L602.2 2338.4L603.7 2392.6L605.2 2353.5L606.7 2401.4L608.2 2350.2L609.7 2393.2L611.2 2338.3L612.7 2391.5L614.2 2340.1L615.7 2395L617.2 2353.3L618.7 2382.3L620.2 2339.2L621.7 2385.3L623.2 2345.4L624.7 2389.4L626.2 2331.4L627.7 2383.3L629.2 2348.6L630.7 2385.2L632.2 2333.1L633.7 2389.6L635.2 2351.8L636.7 2393.5L638.2 2342.6L639.7 2407.5L641.2 2342.9L642.7 2387.6L644.2 2351.2L645.7 2380.3L647.2 2342L648.7 2378.7L650.2 2336.8L651.7 2393.1L653.2 2343.4L654.7 2397.4L656.2 2309.7L657.7 2413.4L659.2 2327.7L660.7 2399.2L662.2 2341.5L663.7 2383.3L665.2 2339.8L666.7 2390.2L668.2 2343L669.7 2380.3L671.2 2345.8L672.7 2380.4L674.2 2342.2L675.7 2385.7L677.2 2341.9L678.7 2392.9L680.2 2341.6L681.7 2391.5L683.2 2338.9L684.7 2384.1L686.2 2330.9L687.7 2389.7L689.2 2335.3L690.7 2389.3L692.2 2348.8L693.7 2390.6L695.2 2347.8L696.7 2387.1L698.2 2356L699.7 2393.6L701.2 2339.8L702.7 2403.6L704.2 2315.2L705.7 2402L707.2 2346.1L708.7 2396.1L710.2 2347.6L711.7 2405.8L713.2 2357.5L714.7 2404L716.2 2348.1L717.7 2398.8L719.2 2329L720.7 2404.1L722.2 2343.3L723.7 2392.6L725.2 2345.7L726.7 2395.3L728.2 2345.3L729.7 2415.3L731.2 2304.5L732.7 2393.7L734.2 2339.9L735.7 2424.8L737.2 2356L738.7 2406L740.2 2349.3L741.7 2406.3L743.2 2350.2L744.7 2393.8L746.2 2347.3L747.7 2389.7L749.2 2352.4L750.7 2394.2L752.2 2329.7L753.7 2410L755.2 2342.5L756.7 2388.6L758.2 2319.4L759.7 2420.6L761.2 2327.6L762.7 2405.4L764.2 2335.4L765.7 2393.9L767.2 2355L768.7 2403.3L770.2 2334.8L771.7 2403.2L773.2 2345.1L774.7 2399.2L776.2 2337.4L777.7 2397.2L779.2 2345.9L780.7 2389.3L782.2 2339.3L783.7 2395.5L785.2 2319.4L786.7 2397.1L788.2 2342.9L789.7 2387.8L791.2 2336.1L792.7 2423L794.2 2352.7L795.7 2413.3L797.2 2344.7L798.7 2395L800.2 2336.6L801.7 2410.9L803.2 2326.4L804.7 2388.7L806.2 2320.3L807.7 2404.2L809.2 2348.9L810.7 2389.4L812.2 2336L813.7 2394.8L815.2 2349.7L816.7 2407.9L818.2 2348.3L819.7 2400L821.2 2355L822.7 2389.2L824.2 2344.2L825.7 2390.6L827.2 2351.1L828.7 2388.9L830.2 2341.1L831.7 2388.2L833.2 2339.6L834.7 2400.8L836.2 2348.7L837.7 2387L839.2 2354.3L840.7 2397.8L842.2 2353.9L843.7 2393.2L845.2 2352.5L846.7 2393.6L848.2 2341.7L849.7 2394.9L851.2 2339.3L852.7 2395.2L854.2 2342.6L855.7 2397.6L857.2 2345L858.7 2404.5L860.2 2295.2L861.7 2413.2L863.2 2330.7L864.7 2417.5L866.2 2343.4L867.7 2403.6L869.2 2354.6L870.7 2405.4L872.2 2347.6L873.7 2413.8L875.2 2358.8L876.7 2404.2L878.2 2355L879.7 2393.5L881.2 2333.2L882.7 2400.2L884.2 2346.9L885.7 2391.7L887.2 2357.2L888.7 2397.3L890.2 2347L891.7 2404.5L893.2 2329.7L894.7 2423L896.2 2348.8L897.7 2415.4L899.2 2350.1L900.7 2397.6L902.2 2356.1L903.7 2397.9L905.2 2348.6L906.7 2395.5L908.2 2331.5L909.7 2403.1L911.2 2358.8L912.7 2418.5L914.2 2348.9L915.7 2415.7L917.2 2355.1L918.7 2431.7L920.2 2359.9L921.7 2396.9L923.2 2363.5L924.7 2401.4L926.2 2366.9L927.7 2392.5L929.2 2348.7L930.7 2400.9L932.2 2346.2L933.7 2404.9L935.2 2335.3L936.7 2406.9L938.2 2343.9L939.7 2409.8L941.2 2322.8L942.7 2418L944.2 2337.6L945.7 2416.6L947.2 2350.8L948.7 2429.6L950.2 2345.7L951.7 2431.7L953.2 2346.9L954.7 2410.1L956.2 2352.8L957.7 2403.7L959.2 2356.7L960.7 2398.7L962.2 2355.8L963.7 2416.9L965.2 2346.6L966.7 2426.5L968.2 2363.2L969.7 2435.1L971.2 2353.7L972.7 2404.4L974.2 2331.3L975.7 2408.1L977.2 2359.6L978.7 2400.6L980.2 2357L981.7 2407.8L983.2 2348.4L984.7 2402.1L986.2 2349.8L987.7 2404.2L989.2 2325.6L990.7 2430L992.2 2355L993.7 2407.4L995.2 2366.3L996.7 2415.2L998.2 2354.8L999.7 2405.4L1001.2 2347.6L1002.7 2401.2L1004.2 2343L1005.7 2407.2L1007.2 2353.7L1008.7 2409.4L1010.2 2334.9L1011.7 2428.8L1013.2 2356.5L1014.7 2414.4L1016.2 2369.5L1017.7 2442.1L1019.2 2369.9L1020.7 2437L1022.2 2377.4L1023.7 2429L1025.2 2373.3L1026.7 2425.7L1028.2 2341.8L1029.7 2426.8L1031.2 2365.7L1032.7 2408.5L1034.2 2370L1035.7 2425.9L1037.2 2368.9L1038.7 2436.9L1040.2 2370.1L1041.7 2419.5L1043.2 2375.8L1044.7 2429.3L1046.2 2370.1L1047.7 2423.1L1049.2 2352.9L1050.7 2423.3L1052.2 2366L1053.7 2433.6L1055.2 2358.3L1056.7 2431.1L1058.2 2339.4L1059.7 2442.1L1061.2 2361.8L1062.7 2431.8L1064.2 2362.7L1065.7 2425.4L1067.2 2361.8L1068.7 2431.5L1070.2 2364.4L1071.7 2421.2L1073.2 2372L1074.7 2403.3L1076.2 2371.6L1077.7 2408.8L1079.2 2339.6L1080.7 2404.9L1082.2 2364.6L1083.7 2442.1L1085.2 2352.3L1086.7 2409.7L1088.2 2350.8L1089.7 2418.9L1091.2 2356.5L1092.7 2417.2L1094.2 2363.5L1095.7 2423.5L1097.2 2377.2L1098.7 2414.8L1100.2 2374.6L1101.7 2409.7L1103.2 2369.6L1104.7 2404.6L1106.2 2343.2L1107.7 2429.2L1109.2 2351.6L1110.7 2421.1L1112.2 2338.3L1113.7 2442.1L1115.2 2358.9L1116.7 2426.9L1118.2 2362.6L1119.7 2409L1121.2 2364.1L1122.7 2407.7L1124.2 2349.3L1125.7 2414.8L1127.2 2365.4L1128.7 2405.8L1130.2 2367.9L1131.7 2412.9L1133.2 2366.8L1134.7 2411.9L1136.2 2341.3L1137.7 2410.9L1139.2 2312.4L1140.7 2418.3L1142.2 2355.9L1143.7 2431.4L1145.2 2365.7L1146.7 2438.6L1148.2 2361L1149.7 2407.3L1151.2 2360.6L1152.7 2419.7L1154.2 2354.7L1155.7 2414.5L1157.2 2357.1L1158.7 2405.7L1160.2 2339.4L1161.7 2414.7L1163.2 2370.4L1164.7 2410.4L1166.2 2366.1L1167.7 2423.3L1169.2 2373.3L1170.7 2437.6L1172.2 2347L1173.7 2426.3L1175.2 2368.2L1176.7 2420L1178.2 2370.6L1179.7 2438.8L1181.2 2357.2L1182.7 2435.4L1184.2 2343.5L1185.7 2424.2L1187.2 2359.1L1188.7 2411.8L1190.2 2359.6L1191.7 2415.8L1193.2 2375.5L1194.7 2416.3L1196.2 2366.9L1197.7 2416.9L1199.2 2362.3L1200.7 2423.6L1202.2 2346.6L1203.7 2409.5L1205.2 2329L1206.7 2430.5L1208.2 2352.9L1209.7 2408.6L1211.2 2372L1212.7 2435.6L1214.2 2363.1L1215.7 2436.1L1217.2 2353.4L1218.7 2435.1L1220.2 2352.9L1221.7 2430.5L1223.2 2349L1224.7 2411.7L1226.2 2359.9L1227.7 2426.9L1229.2 2365.9L1230.7 2423.9L1232.2 2356.2M1320.7 2418.9L1322.2 2551.1L1323.7 2389.7L1325.2 2536L1326.7 2355.7L1328.2 2540.7L1329.7 2405.6L1331.2 2507.9L1332.7 2411.7L1334.2 2511.6L1335.7 2328L1337.2 2502.6L1338.7 2380.2L1340.2 2523.7L1341.7 2410.1L1343.2 2472.2L1344.7 2328.7L1346.2 2512.4L1347.7 2343.1L1349.2 2471.4L1350.7 2399.6L1352.2 2476L1353.7 2322.3L1355.2 2482.1L1356.7 2368.4L1358.2 2442.4L1359.7 2386.5L1361.2 2442.3L1362.7 2384.3L1364.2 2485.8L1365.7 2325.8L1367.2 2476.3L1368.7 2306.5L1370.2 2442.6L1371.7 2384L1373.2 2436.1L1374.7 2384.4L1376.2 2433.9L1377.7 2366.7L1379.2 2495L1380.7 2313.2L1382.2 2425.8L1383.7 2284L1385.2 2405.1L1386.7 2345.2L1388.2 2411.2L1389.7 2287.1L1391.2 2409.7L1392.7 2337.3L1394.2 2445.8L1395.7 2311.5L1397.2 2432.9L1398.7 2237.9L1400.2 2401.1L1401.7 2293.8L1403.2 2401L1404.7 2254.9L1406.2 2419.2L1407.7 2315.6L1409.2 2416.1L1410.7 2349.5L1412.2 2406.5L1413.7 2345.6L1415.2 2414.1L1416.7 2335.5L1418.2 2430.5L1419.7 2344.6L1421.2 2404.8L1422.7 2318.8L1424.2 2449.9L1425.7 2273.8L1427.2 2403.6L1428.7 2308.4L1430.2 2420.5L1431.7 2324.4L1433.2 2386.8L1434.7 2269.7L1436.2 2413.2L1437.7 2311.5L1439.2 2397.5L1440.7 2332.4L1442.2 2415.4L1443.7 2332L1445.2 2434.1L1446.7 2271.2L1448.2 2421.8L1449.7 2342.2L1451.2 2414.4L1452.7 2335.4L1454.2 2415.9L1455.7 2289.8L1457.2 2393.5L1458.7 2321.1L1460.2 2389.1L1461.7 2279.7L1463.2 2418.4L1464.7 2333.8L1466.2 2413.1L1467.7 2354.3L1469.2 2394.2L1470.7 2327.8L1472.2 2455.4L1473.7 2293.1L1475.2 2393.1L1476.7 2309.3L1478.2 2422.5L1479.7 2319.2L1481.2 2412L1482.7 2350.9L1484.2 2396.1L1485.7 2346.9L1487.2 2393.7L1488.7 2353.6L1490.2 2423.2L1491.7 2311L1493.2 2437.5L1494.7 2282.6L1496.2 2426.3L1497.7 2343.9L1499.2 2408.7L1500.7 2343.9L1502.2 2412L1503.7 2330L1505.2 2433.3L1506.7 2323.2L1508.2 2428L1509.7 2345.5L1511.2 2455.9L1512.7 2343.4L1514.2 2441.2L1515.7 2302.5L1517.2 2402.7L1518.7 2332.5L1520.2 2422.6L1521.7 2286.1L1523.2 2417.4L1524.7 2304.8L1526.2 2394.7L1527.7 2294.7L1529.2 2420.8L1530.7 2338.5L1532.2 2435.7L1533.7 2301L1535.2 2402.6L1536.7 2271L1538.2 2438.8L1539.7 2290.5L1541.2 2439.6L1542.7 2345.5L1544.2 2432.5L1545.7 2342.2L1547.2 2400.2L1548.7 2328L1550.2 2434.1L1551.7 2352.1L1553.2 2417L1554.7 2328.2L1556.2 2412.5L1557.7 2331.5L1559.2 2437.3L1560.7 2323.4L1562.2 2450.7L1563.7 2356.8L1565.2 2418.7L1566.7 2360.8L1568.2 2443L1569.7 2323.6L1571.2 2423.9L1572.7 2357.1L1574.2 2404.7L1575.7 2284.8L1577.2 2431.7L1578.7 2317.8L1580.2 2425.3L1581.7 2356.2L1583.2 2441.1L1584.7 2353.5L1586.2 2418.9L1587.7 2360.3L1589.2 2420L1590.7 2357L1592.2 2444.9L1593.7 2356.5L1595.2 2464.5L1596.7 2369.2L1598.2 2456.8L1599.7 2337.7L1601.2 2423L1602.7 2322L1604.2 2446L1605.7 2295.2L1607.2 2426L1608.7 2332.9L1610.2 2413.3L1611.7 2370.8L1613.2 2415.3L1614.7 2356.2L1616.2 2450.7L1617.7 2355.4L1619.2 2441.6L1620.7 2374.5L1622.2 2448.6L1623.7 2360.1L1625.2 2455L1626.7 2367.9L1628.2 2483.5L1629.7 2369.8L1631.2 2432L1632.7 2364.2L1634.2 2470.2L1635.7 2371.2L1637.2 2458.5L1638.7 2331.5L1640.2 2452L1641.7 2372.1L1643.2 2455.9L1644.7 2356.7L1646.2 2453.9L1647.7 2339.5L1649.2 2429.4L1650.7 2314.2L1652.2 2453.1L1653.7 2339L1655.2 2425L1656.7 2347.8L1658.2 2459.4L1659.7 2367.9L1661.2 2441.8L1662.7 2382.5L1664.2 2467.4L1665.7 2363.3L1667.2 2435.2L1668.7 2383.6L1670.2 2431.6L1671.7 2350.3L1673.2 2458.1L1674.7 2345.6L1676.2 2462.1L1677.7 2329.7L1679.2 2447.7L1680.7 2384.3L1682.2 2457.9L1683.7 2386.1L1685.2 2456.7L1686.7 2366.9L1688.2 2444.7L1689.7 2398.2L1691.2 2472.7L1692.7 2388.8L1694.2 2454.3L1695.7 2375L1697.2 2466L1698.7 2369.4L1700.2 2473.8L1701.7 2370.2L1703.2 2459.1L1704.7 2357.4L1706.2 2476.9L1707.7 2370.2L1709.2 2473.7L1710.7 2401L1712.2 2480.7L1713.7 2392.3L1715.2 2480.2L1716.7 2405L1718.2 2467.8L1719.7 2373.3L1721.2 2483.3L1722.7 2382.4L1724.2 2467.9L1725.7 2393.9L1727.2 2483.1L1728.7 2374.2L1730.2 2462.7L1731.7 2385.3L1733.2 2479.4L1734.7 2389L1736.2 2455.8L1737.7 2399.7L1739.2 2473.9L1740.7 2410.8L1742.2 2482.8L1743.7 2419.8L1745.2 2502.5L1746.7 2400L1748.2 2492L1749.7 2401.3L1751.2 2489.9L1752.7 2350.5L1754.2 2457.7L1755.7 2379.5L1757.2 2461.7L1758.7 2386.4L1760.2 2458.6L1761.7 2396.1L1763.2 2483.7L1764.7 2386.1L1766.2 2469.2L1767.7 2400.7L1769.2 2455.1L1770.7 2373.4L1772.2 2464.1L1773.7 2378.9L1775.2 2465L1776.7 2357.4L1778.2 2469.2L1779.7 2395.7L1781.2 2452.9L1782.7 2395.6L1784.2 2470L1785.7 2414L1787.2 2455.2L1788.7 2387.8L1790.2 2492.9L1791.7 2410.3L1793.2 2457.2L1794.7 2353.9L1796.2 2500.9L1797.7 2406.7L1799.2 2486.1L1800.7 2408.2L1802.2 2474.9L1803.7 2408.3L1805.2 2497.3L1806.7 2411.6L1808.2 2495.2L1809.7 2400.6L1811.2 2467.5L1812.7 2413L1814.2 2496.6L1815.7 2379.6L1817.2 2483.8L1818.7 2388.4L1820.2 2480.3L1821.7 2350.5L1823.2 2480L1824.7 2400.9L1826.2 2459.1L1827.7 2380.8L1829.2 2469.4L1830.7 2416.3L1832.2 2490.7L1833.7 2423.9L1835.2 2496.1L1836.7 2426.8L1838.2 2483.9L1839.7 2419.5L1841.2 2516.4L1842.7 2406.8L1844.2 2485.1L1845.7 2397.7L1847.2 2479.9L1848.7 2390.6L1850.2 2489.6L1851.7 2369L1853.2 2480.3L1854.7 2390.4L1856.2 2494.7L1857.7 2406.3L1859.2 2473.1L1860.7 2386.1L1862.2 2492.5L1863.7 2357.4L1865.2 2495.5L1866.7 2373.7L1868.2 2485.6L1869.7 2382.4L1871.2 2485.5L1872.7 2407.6L1874.2 2500L1875.7 2418.2L1877.2 2499.6L1878.7 2424.9L1880.2 2475.5L1881.7 2418.7L1883.2 2505.4L1884.7 2417.5L1886.2 2496.5L1887.7 2430.5L1889.2 2509L1890.7 2424.4L1892.2 2473.6L1893.7 2415.8L1895.2 2484.4L1896.7 2367.7L1898.2 2477.2L1899.7 2404.1L1901.2 2479.7L1902.7 2432.7L1904.2 2516.8L1905.7 2433.1L1907.2 2482.1L1908.7 2426.8L1910.2 2510.4L1911.7 2434.4L1913.2 2519.7L1914.7 2435.3L1916.2 2526.7L1917.7 2429.9L1919.2 2517.6L1920.7 2416.2L1922.2 2481L1923.7 2402L1925.2 2507.9L1926.7 2414.5L1928.2 2503.6L1929.7 2395.4L1931.2 2506.7L1932.7 2400.6L1934.2 2480.6L1935.7 2424.3L1937.2 2482.1L1938.7 2401.5L1940.2 2484.9L1941.7 2399.5L1943.2 2491.7L1944.7 2422.2L1946.2 2495L1947.7 2434.5L1949.2 2490.3L1950.7 2427.6L1952.2 2483L1953.7 2422.2L1955.2 2480.8L1956.7 2437L1958.2 2508.7L1959.7 2438.6L1961.2 2519.3L1962.7 2400.6L1964.2 2535.4L1965.7 2417.3L1967.2 2499.1L1968.7 2424.7L1970.2 2521.4L1971.7 2440L1973.2 2522L1974.7 2445.7L1976.2 2512.6L1977.7 2442.3L1979.2 2489.3L1980.7 2441.9L1982.2 2499L1983.7 2429.3L1985.2 2521L1986.7 2415.4L1988.2 2522.8L1989.7 2445.3L1991.2 2517.2L1992.7 2449L1994.2 2542.3L1995.7 2437.5L1997.2 2531.6L1998.7 2443.1L2000.2 2536.9L2001.7 2421.2L2003.2 2521.7L2004.7 2424.7L2006.2 2519.3L2007.7 2429L2009.2 2509.1L2010.7 2441.8L2012.2 2519.5L2013.7 2437L2015.2 2510.4L2016.7 2406.7L2018.2 2495.4L2019.7 2390.9L2021.2 2519.7L2022.7 2411.6L2024.2 2505.1L2025.7 2452.6L2027.2 2500.1L2028.7 2447.3L2030.2 2515.4L2031.7 2453.2L2033.2 2504.4L2034.7 2449.2L2036.2 2513.6L2037.7 2443.1L2039.2 2511.7L2040.7 2405.8L2042.2 2503.2L2043.7 2427.6L2045.2 2498.9L2046.7 2431.3L2048.2 2511.5L2049.7 2448.1L2051.2 2521.5L2052.7 2447.2L2054.2 2506.2L2055.7 2454.3L2057.2 2514L2058.7 2466L2060.2 2527L2061.7 2446.8L2063.2 2512.7L2064.7 2450L2066.2 2511.6L2067.7 2431.7L2069.2 2526.9L2070.7 2444.5L2072.2 2523.3L2073.7 2443.3L2075.2 2503.8L2076.7 2463.6L2078.2 2510.7L2079.7 2443.8L2081.2 2506.2L2082.7 2455L2084.2 2518.6L2085.7 2448.7L2087.2 2518.6L2088.7 2403.3L2090.2 2528.8L2091.7 2417.9L2093.2 2530.4L2094.7 2425.9L2096.2 2507.7L2097.7 2449.9L2099.2 2505L2100.7 2457.6L2102.2 2523.5L2103.7 2462.5L2105.2 2518.2L2106.7 2462.9L2108.2 2515.2L2109.7 2444.2L2111.2 2510.7L2112.7 2460.9L2114.2 2523.4L2115.7 2417.9L2117.2 2528.1L2118.7 2436.7L2120.2 2521.9L2121.7 2458.5L2123.2 2501.2L2124.7 2462.6L2126.2 2519.1L2127.7 2468.8L2129.2 2518.8L2130.7 2458.7L2132.2 2505L2133.7 2460.2L2135.2 2510.6L2136.7 2457.3L2138.2 2503.8L2139.7 2447.6L2141.2 2507.5L2142.7 2428.2L2144.2 2507.5L2145.7 2451.7L2147.2 2512.1L2148.7 2461.5L2150.2 2523.8L2151.7 2460.4L2153.2 2516.9L2154.7 2466.7L2156.2 2510.2L2157.7 2465.9L2159.2 2538.1L2160.7 2456.9L2162.2 2511.8L2163.7 2454.8L2165.2 2547.5L2166.7 2437.6L2168.2 2545L2169.7 2427.5L2171.2 2524L2172.7 2463.2L2174.2 2520.3L2175.7 2452L2177.2 2524.3L2178.7 2467.2L2180.2 2517.4L2181.7 2474.7L2183.2 2515L2184.7 2450.6L2186.2 2515.9L2187.7 2441.4L2189.2 2513.3L2190.7 2449.5L2192.2 2532L2193.7 2457.7L2195.2 2535.5L2196.7 2478.7L2198.2 2517.7L2199.7 2475.3L2201.2 2517.6L2202.7 2476.1L2204.2 2529.8L2205.7 2465.5L2207.2 2534.4L2208.7 2476.1L2210.2 2533.6L2211.7 2462L2213.2 2529.7L2214.7 2449.8L2216.2 2535.2L2217.7 2446.5L2219.2 2524.2L2220.7 2471L2222.2 2536.4L2223.7 2487.3L2225.2 2532.6L2226.7 2484.9L2228.2 2547.5L2229.7 2455.7L2231.2 2535.3L2232.7 2442.1L2234.2 2524.7L2235.7 2458L2237.2 2525.9L2238.7 2467.6L2240.2 2536.8L2241.7 2483.2L2243.2 2537.8L2244.7 2486.7L2246.2 2535L2247.7 2476.1L2249.2 2534.4L2250.7 2486L2252.2 2520.2L2253.7 2468.9L2255.2 2530.3L2256.7 2463.8L2258.2 2524.5L2259.7 2471.1L2261.2 2530.9L2262.7 2479.4L2264.2 2524.6L2265.7 2483.2L2267.2 2522.9" fill="none" stroke="#3fa2da" stroke-width="4.8" stroke-linejoin="miter"/>
<path d="M1232.2 2356.2L1233.7 2365.9L1237.1 2472.2L1241.5 2403.9L1244.4 2495.7L1247.1 2602L1251.6 2533.7L1254.3 2634.4L1293 2634.4L1302 2379.3L1307.1 2634.4L1314.3 2377.1L1319.2 2580.7L1320.7 2418.9M2267.2 2522.9L2270 2530.2L2271.7 2430L2275.9 2473.2L2278.6 2322.8L2281 2305.5L2283.8 2319.4L2287.3 2169L2289 2115.4" fill="none" stroke="#3fa2da" stroke-width="4.0" stroke-linejoin="round"/>
<path d="M295.7 2147.3L297.7 2173.2L300.7 2241.1L302.2 2203.9L303.7 2249.4L305.2 2214L306.7 2256.1L308.2 2213.3L309.7 2264.9L311.2 2202.5L312.7 2276.4L314.2 2206.1L315.7 2295.8L317.2 2231.3L318.7 2285L320.2 2244.8L321.7 2309.4L323.2 2247.3L324.7 2295.4L326.2 2258.1L327.7 2316.2L329.2 2262.5L330.7 2327.6L332.2 2275.3L333.7 2328.8L335.2 2278.3L336.7 2339.9L338.2 2271.8L339.7 2328.2L341.2 2280.1L342.7 2339.5L344.2 2283.7L345.7 2349.1L347.2 2298.8L348.7 2359.6L350.2 2306.2L351.7 2357.6L353.2 2310.2L354.7 2354.8L356.2 2317.3L357.7 2352.2L359.2 2319.3L360.7 2353.8L362.2 2321.8L363.7 2355.8L365.2 2326.7L366.7 2363.5L368.2 2323.3L369.7 2363.4L371.2 2329.3L372.7 2375.8L374.2 2334.2L375.7 2381.4L377.2 2339.3L378.7 2374.5L380.2 2332.1L381.7 2390.9L383.2 2333.4L384.7 2378.6L386.2 2337.7L387.7 2379.6L389.2 2346.6L390.7 2382.6L392.2 2349L393.7 2382.3L395.2 2350L396.7 2386.7L398.2 2350.9L399.7 2381.5L401.2 2354.3L402.7 2387.9L404.2 2351.6L405.7 2388.3L407.2 2346.9L408.7 2404.8L410.2 2351.7L411.7 2398.2L413.2 2352.6L414.7 2390L416.2 2345.1L417.7 2392.2L419.2 2335.6L420.7 2398.3L422.2 2347.9L423.7 2390.5L425.2 2359.6L426.7 2400.9L428.2 2347L429.7 2390.7L431.2 2340.8L432.7 2398.7L434.2 2315.8L435.7 2390.7L437.2 2337.2L438.7 2391.1L440.2 2348.6L441.7 2399.6L443.2 2336.7L444.7 2391.1L446.2 2348.8L447.7 2406.2L449.2 2360.7L450.7 2406L452.2 2354.5L453.7 2401L455.2 2356.9L456.7 2405.9L458.2 2357.5L459.7 2402.7L461.2 2346.5L462.7 2399.7L464.2 2349.5L465.7 2396.6L467.2 2359.5L468.7 2398L470.2 2352.5L471.7 2406.8L473.2 2355.6L474.7 2394.1L476.2 2359.9L477.7 2392.7L479.2 2358.9L480.7 2396.5L482.2 2350.2L483.7 2392.6L485.2 2347.2L486.7 2397.7L488.2 2343.5L489.7 2401.6L491.2 2343.1L492.7 2408.4L494.2 2335.9L495.7 2411.5L497.2 2340.3L498.7 2417.9L500.2 2346.3L501.7 2392.5L503.2 2347.8L504.7 2404.9L506.2 2355.8L507.7 2397.9L509.2 2352.1L510.7 2397.9L512.2 2353.4L513.7 2387L515.2 2356.8L516.7 2395.7L518.2 2346.2L519.7 2403.3L521.2 2330.8L522.7 2402.3L524.2 2341.4L525.7 2405.2L527.2 2354.3L528.7 2389.6L530.2 2341.5L531.7 2406L533.2 2351.6L534.7 2404.7L536.2 2352.9L537.7 2386.3L539.2 2351.4L540.7 2388.1L542.2 2353.9L543.7 2392.2L545.2 2340.6L546.7 2388.1L548.2 2309.7L549.7 2390.3L551.2 2342.2L552.7 2406.2L554.2 2350.9L555.7 2387.8L557.2 2352.8L558.7 2420.3L560.2 2351.8L561.7 2392.9L563.2 2325.6L564.7 2394.5L566.2 2332.7L567.7 2395.1L569.2 2336.9L570.7 2391.5L572.2 2331L573.7 2388.8L575.2 2337.8L576.7 2395L578.2 2354.6L579.7 2405.8L581.2 2356.5L582.7 2398.4L584.2 2357.2L585.7 2399.7L587.2 2348.1L588.7 2398.8L590.2 2350.7L591.7 2385.8L593.2 2352.7L594.7 2396L596.2 2352.7L597.7 2390.6L599.2 2348.4L600.7 2395.4L602.2 2338.4L603.7 2392.6L605.2 2353.5L606.7 2401.4L608.2 2350.2L609.7 2393.2L611.2 2338.3L612.7 2391.5L614.2 2340.1L615.7 2395L617.2 2353.3L618.7 2382.3L620.2 2339.2L621.7 2385.3L623.2 2345.4L624.7 2389.4L626.2 2331.4L627.7 2383.3L629.2 2348.6L630.7 2385.2L632.2 2333.1L633.7 2389.6L635.2 2351.8L636.7 2393.5L638.2 2342.6L639.7 2407.5L641.2 2342.9L642.7 2387.6L644.2 2351.2L645.7 2380.3L647.2 2342L648.7 2378.7L650.2 2336.8L651.7 2393.1L653.2 2343.4L654.7 2397.4L656.2 2309.7L657.7 2413.4L659.2 2327.7L660.7 2399.2L662.2 2341.5L663.7 2383.3L665.2 2339.8L666.7 2390.2L668.2 2343L669.7 2380.3L671.2 2345.8L672.7 2380.4L674.2 2342.2L675.7 2385.7L677.2 2341.9L678.7 2392.9L680.2 2341.6L681.7 2391.5L683.2 2338.9L684.7 2384.1L686.2 2330.9L687.7 2389.7L689.2 2335.3L690.7 2389.3L692.2 2348.8L693.7 2390.6L695.2 2347.8L696.7 2387.1L698.2 2356L699.7 2393.6L701.2 2339.8L702.7 2403.6L704.2 2315.2L705.7 2402L707.2 2346.1L708.7 2396.1L710.2 2347.6L711.7 2405.8L713.2 2357.5L714.7 2404L716.2 2348.1L717.7 2398.8L719.2 2329L720.7 2404.1L722.2 2343.3L723.7 2392.6L725.2 2345.7L726.7 2395.3L728.2 2345.3L729.7 2415.3L731.2 2304.5L732.7 2393.7L734.2 2339.9L735.7 2424.8L737.2 2356L738.7 2406L740.2 2349.3L741.7 2406.3L743.2 2350.2L744.7 2393.8L746.2 2347.3L747.7 2389.7L749.2 2352.4L750.7 2394.2L752.2 2329.7L753.7 2410L755.2 2342.5L756.7 2388.6L758.2 2319.4L759.7 2420.6L761.2 2327.6L762.7 2405.4L764.2 2335.4L765.7 2393.9L767.2 2355L768.7 2403.3L770.2 2334.8L771.7 2403.2L773.2 2345.1L774.7 2399.2L776.2 2337.4L777.7 2397.2L779.2 2345.9L780.7 2389.3L782.2 2339.3L783.7 2395.5L785.2 2319.4L786.7 2397.1L788.2 2342.9L789.7 2387.8L791.2 2336.1L792.7 2423L794.2 2352.7L795.7 2413.3L797.2 2344.7L798.7 2395L800.2 2336.6L801.7 2410.9L803.2 2326.4L804.7 2388.7L806.2 2320.3L807.7 2404.2L809.2 2348.9L810.7 2389.4L812.2 2336L813.7 2394.8L815.2 2349.7L816.7 2407.9L818.2 2348.3L819.7 2400L821.2 2355L822.7 2389.2L824.2 2344.2L825.7 2390.6L827.2 2351.1L828.7 2388.9L830.2 2341.1L831.7 2388.2L833.2 2339.6L834.7 2400.8L836.2 2348.7L837.7 2387L839.2 2354.3L840.7 2397.8L842.2 2353.9L843.7 2393.2L845.2 2352.5L846.7 2393.6L848.2 2341.7L849.7 2394.9L851.2 2339.3L852.7 2395.2L854.2 2342.6L855.7 2397.6L857.2 2345L858.7 2404.5L860.2 2295.2L861.7 2413.2L863.2 2330.7L864.7 2417.5L866.2 2343.4L867.7 2403.6L869.2 2354.6L870.7 2405.4L872.2 2347.6L873.7 2413.8L875.2 2358.8L876.7 2404.2L878.2 2355L879.7 2393.5L881.2 2333.2L882.7 2400.2L884.2 2346.9L885.7 2391.7L887.2 2357.2L888.7 2397.3L890.2 2347L891.7 2404.5L893.2 2329.7L894.7 2423L896.2 2348.8L897.7 2415.4L899.2 2350.1L900.7 2397.6L902.2 2356.1L903.7 2397.9L905.2 2348.6L906.7 2395.5L908.2 2331.5L909.7 2403.1L911.2 2358.8L912.7 2418.5L914.2 2348.9L915.7 2415.7L917.2 2355.1L918.7 2431.7L920.2 2359.9L921.7 2396.9L923.2 2363.5L924.7 2401.4L926.2 2366.9L927.7 2392.5L929.2 2348.7L930.7 2400.9L932.2 2346.2L933.7 2404.9L935.2 2335.3L936.7 2406.9L938.2 2343.9L939.7 2409.8L941.2 2322.8L942.7 2418L944.2 2337.6L945.7 2416.6L947.2 2350.8L948.7 2429.6L950.2 2345.7L951.7 2431.7L953.2 2346.9L954.7 2410.1L956.2 2352.8L957.7 2403.7L959.2 2356.7L960.7 2398.7L962.2 2355.8L963.7 2416.9L965.2 2346.6L966.7 2426.5L968.2 2363.2L969.7 2435.1L971.2 2353.7L972.7 2404.4L974.2 2331.3L975.7 2408.1L977.2 2359.6L978.7 2400.6L980.2 2357L981.7 2407.8L983.2 2348.4L984.7 2402.1L986.2 2349.8L987.7 2404.2L989.2 2325.6L990.7 2430L992.2 2355L993.7 2407.4L995.2 2366.3L996.7 2415.2L998.2 2354.8L999.7 2405.4L1001.2 2347.6L1002.7 2401.2L1004.2 2343L1005.7 2407.2L1007.2 2353.7L1008.7 2409.4L1010.2 2334.9L1011.7 2428.8L1013.2 2356.5L1014.7 2414.4L1016.2 2369.5L1017.7 2442.1L1019.2 2369.9L1020.7 2437L1022.2 2377.4L1023.7 2429L1025.2 2373.3L1026.7 2425.7L1028.2 2341.8L1029.7 2426.8L1031.2 2365.7L1032.7 2408.5L1034.2 2370L1035.7 2425.9L1037.2 2368.9L1038.7 2436.9L1040.2 2370.1L1041.7 2419.5L1043.2 2375.8L1044.7 2429.3L1046.2 2370.1L1047.7 2423.1L1049.2 2352.9L1050.7 2423.3L1052.2 2366L1053.7 2433.6L1055.2 2358.3L1056.7 2431.1L1058.2 2339.4L1059.7 2442.1L1061.2 2361.8L1062.7 2431.8L1064.2 2362.7L1065.7 2425.4L1067.2 2361.8L1068.7 2431.5L1070.2 2364.4L1071.7 2421.2L1073.2 2372L1074.7 2403.3L1076.2 2371.6L1077.7 2408.8L1079.2 2339.6L1080.7 2404.9L1082.2 2364.6L1083.7 2442.1L1085.2 2352.3L1086.7 2409.7L1088.2 2350.8L1089.7 2418.9L1091.2 2356.5L1092.7 2417.2L1094.2 2363.5L1095.7 2423.5L1097.2 2377.2L1098.7 2414.8L1100.2 2374.6L1101.7 2409.7L1103.2 2369.6L1104.7 2404.6L1106.2 2343.2L1107.7 2429.2L1109.2 2351.6L1110.7 2421.1L1112.2 2338.3L1113.7 2442.1L1115.2 2358.9L1116.7 2426.9L1118.2 2362.6L1119.7 2409L1121.2 2364.1L1122.7 2407.7L1124.2 2349.3L1125.7 2414.8L1127.2 2365.4L1128.7 2405.8L1130.2 2367.9L1131.7 2412.9L1133.2 2366.8L1134.7 2411.9L1136.2 2341.3L1137.7 2410.9L1139.2 2312.4L1140.7 2418.3L1142.2 2355.9L1143.7 2431.4L1145.2 2365.7L1146.7 2438.6L1148.2 2361L1149.7 2407.3L1151.2 2360.6L1152.7 2419.7L1154.2 2354.7L1155.7 2414.5L1157.2 2357.1L1158.7 2405.7L1160.2 2339.4L1161.7 2414.7L1163.2 2370.4L1164.7 2410.4L1166.2 2366.1L1167.7 2423.3L1169.2 2373.3L1170.7 2437.6L1172.2 2347L1173.7 2426.3L1175.2 2368.2L1176.7 2420L1178.2 2370.6L1179.7 2438.8L1181.2 2357.2L1182.7 2435.4L1184.2 2343.5L1185.7 2424.2L1187.2 2359.1L1188.7 2411.8L1190.2 2359.6L1191.7 2415.8L1193.2 2375.5L1194.7 2416.3L1196.2 2366.9L1197.7 2416.9L1199.2 2362.3L1200.7 2423.6L1202.2 2346.6L1203.7 2409.5L1205.2 2329L1206.7 2430.5L1208.2 2352.9L1209.7 2408.6L1211.2 2372L1212.7 2435.6L1214.2 2363.1L1215.7 2436.1L1217.2 2353.4L1218.7 2435.1L1220.2 2352.9L1221.7 2430.5L1223.2 2349L1224.7 2411.7L1226.2 2359.9L1227.7 2426.9L1229.2 2365.9L1230.7 2423.9L1232.2 2356.2M1320.7 2418.9L1322.2 2551.1L1323.7 2389.7L1325.2 2536L1326.7 2355.7L1328.2 2540.7L1329.7 2405.6L1331.2 2507.9L1332.7 2411.7L1334.2 2511.6L1335.7 2328L1337.2 2502.6L1338.7 2380.2L1340.2 2523.7L1341.7 2410.1L1343.2 2472.2L1344.7 2328.7L1346.2 2512.4L1347.7 2343.1L1349.2 2471.4L1350.7 2399.6L1352.2 2476L1353.7 2322.3L1355.2 2482.1L1356.7 2368.4L1358.2 2442.4L1359.7 2386.5L1361.2 2442.3L1362.7 2384.3L1364.2 2485.8L1365.7 2325.8L1367.2 2476.3L1368.7 2306.5L1370.2 2442.6L1371.7 2384L1373.2 2436.1L1374.7 2384.4L1376.2 2433.9L1377.7 2366.7L1379.2 2495L1380.7 2313.2L1382.2 2425.8L1383.7 2284L1385.2 2405.1L1386.7 2345.2L1388.2 2411.2L1389.7 2287.1L1391.2 2409.7L1392.7 2337.3L1394.2 2445.8L1395.7 2311.5L1397.2 2432.9L1398.7 2237.9L1400.2 2401.1L1401.7 2293.8L1403.2 2401L1404.7 2254.9L1406.2 2419.2L1407.7 2315.6L1409.2 2416.1L1410.7 2349.5L1412.2 2406.5L1413.7 2345.6L1415.2 2414.1L1416.7 2335.5L1418.2 2430.5L1419.7 2344.6L1421.2 2404.8L1422.7 2318.8L1424.2 2449.9L1425.7 2273.8L1427.2 2403.6L1428.7 2308.4L1430.2 2420.5L1431.7 2324.4L1433.2 2386.8L1434.7 2269.7L1436.2 2413.2L1437.7 2311.5L1439.2 2397.5L1440.7 2332.4L1442.2 2415.4L1443.7 2332L1445.2 2434.1L1446.7 2271.2L1448.2 2421.8L1449.7 2342.2L1451.2 2414.4L1452.7 2335.4L1454.2 2415.9L1455.7 2289.8L1457.2 2393.5L1458.7 2321.1L1460.2 2389.1L1461.7 2279.7L1463.2 2418.4L1464.7 2333.8L1466.2 2413.1L1467.7 2354.3L1469.2 2394.2L1470.7 2327.8L1472.2 2455.4L1473.7 2293.1L1475.2 2393.1L1476.7 2309.3L1478.2 2422.5L1479.7 2319.2L1481.2 2412L1482.7 2350.9L1484.2 2396.1L1485.7 2346.9L1487.2 2393.7L1488.7 2353.6L1490.2 2423.2L1491.7 2311L1493.2 2437.5L1494.7 2282.6L1496.2 2426.3L1497.7 2343.9L1499.2 2408.7L1500.7 2343.9L1502.2 2412L1503.7 2330L1505.2 2433.3L1506.7 2323.2L1508.2 2428L1509.7 2345.5L1511.2 2455.9L1512.7 2343.4L1514.2 2441.2L1515.7 2302.5L1517.2 2402.7L1518.7 2332.5L1520.2 2422.6L1521.7 2286.1L1523.2 2417.4L1524.7 2304.8L1526.2 2394.7L1527.7 2294.7L1529.2 2420.8L1530.7 2338.5L1532.2 2435.7L1533.7 2301L1535.2 2402.6L1536.7 2271L1538.2 2438.8L1539.7 2290.5L1541.2 2439.6L1542.7 2345.5L1544.2 2432.5L1545.7 2342.2L1547.2 2400.2L1548.7 2328L1550.2 2434.1L1551.7 2352.1L1553.2 2417L1554.7 2328.2L1556.2 2412.5L1557.7 2331.5L1559.2 2437.3L1560.7 2323.4L1562.2 2450.7L1563.7 2356.8L1565.2 2418.7L1566.7 2360.8L1568.2 2443L1569.7 2323.6L1571.2 2423.9L1572.7 2357.1L1574.2 2404.7L1575.7 2284.8L1577.2 2431.7L1578.7 2317.8L1580.2 2425.3L1581.7 2356.2L1583.2 2441.1L1584.7 2353.5L1586.2 2418.9L1587.7 2360.3L1589.2 2420L1590.7 2357L1592.2 2444.9L1593.7 2356.5L1595.2 2464.5L1596.7 2369.2L1598.2 2456.8L1599.7 2337.7L1601.2 2423L1602.7 2322L1604.2 2446L1605.7 2295.2L1607.2 2426L1608.7 2332.9L1610.2 2413.3L1611.7 2370.8L1613.2 2415.3L1614.7 2356.2L1616.2 2450.7L1617.7 2355.4L1619.2 2441.6L1620.7 2374.5L1622.2 2448.6L1623.7 2360.1L1625.2 2455L1626.7 2367.9L1628.2 2483.5L1629.7 2369.8L1631.2 2432L1632.7 2364.2L1634.2 2470.2L1635.7 2371.2L1637.2 2458.5L1638.7 2331.5L1640.2 2452L1641.7 2372.1L1643.2 2455.9L1644.7 2356.7L1646.2 2453.9L1647.7 2339.5L1649.2 2429.4L1650.7 2314.2L1652.2 2453.1L1653.7 2339L1655.2 2425L1656.7 2347.8L1658.2 2459.4L1659.7 2367.9L1661.2 2441.8L1662.7 2382.5L1664.2 2467.4L1665.7 2363.3L1667.2 2435.2L1668.7 2383.6L1670.2 2431.6L1671.7 2350.3L1673.2 2458.1L1674.7 2345.6L1676.2 2462.1L1677.7 2329.7L1679.2 2447.7L1680.7 2384.3L1682.2 2457.9L1683.7 2386.1L1685.2 2456.7L1686.7 2366.9L1688.2 2444.7L1689.7 2398.2L1691.2 2472.7L1692.7 2388.8L1694.2 2454.3L1695.7 2375L1697.2 2466L1698.7 2369.4L1700.2 2473.8L1701.7 2370.2L1703.2 2459.1L1704.7 2357.4L1706.2 2476.9L1707.7 2370.2L1709.2 2473.7L1710.7 2401L1712.2 2480.7L1713.7 2392.3L1715.2 2480.2L1716.7 2405L1718.2 2467.8L1719.7 2373.3L1721.2 2483.3L1722.7 2382.4L1724.2 2467.9L1725.7 2393.9L1727.2 2483.1L1728.7 2374.2L1730.2 2462.7L1731.7 2385.3L1733.2 2479.4L1734.7 2389L1736.2 2455.8L1737.7 2399.7L1739.2 2473.9L1740.7 2410.8L1742.2 2482.8L1743.7 2419.8L1745.2 2502.5L1746.7 2400L1748.2 2492L1749.7 2401.3L1751.2 2489.9L1752.7 2350.5L1754.2 2457.7L1755.7 2379.5L1757.2 2461.7L1758.7 2386.4L1760.2 2458.6L1761.7 2396.1L1763.2 2483.7L1764.7 2386.1L1766.2 2469.2L1767.7 2400.7L1769.2 2455.1L1770.7 2373.4L1772.2 2464.1L1773.7 2378.9L1775.2 2465L1776.7 2357.4L1778.2 2469.2L1779.7 2395.7L1781.2 2452.9L1782.7 2395.6L1784.2 2470L1785.7 2414L1787.2 2455.2L1788.7 2387.8L1790.2 2492.9L1791.7 2410.3L1793.2 2457.2L1794.7 2353.9L1796.2 2500.9L1797.7 2406.7L1799.2 2486.1L1800.7 2408.2L1802.2 2474.9L1803.7 2408.3L1805.2 2497.3L1806.7 2411.6L1808.2 2495.2L1809.7 2400.6L1811.2 2467.5L1812.7 2413L1814.2 2496.6L1815.7 2379.6L1817.2 2483.8L1818.7 2388.4L1820.2 2480.3L1821.7 2350.5L1823.2 2480L1824.7 2400.9L1826.2 2459.1L1827.7 2380.8L1829.2 2469.4L1830.7 2416.3L1832.2 2490.7L1833.7 2423.9L1835.2 2496.1L1836.7 2426.8L1838.2 2483.9L1839.7 2419.5L1841.2 2516.4L1842.7 2406.8L1844.2 2485.1L1845.7 2397.7L1847.2 2479.9L1848.7 2390.6L1850.2 2489.6L1851.7 2369L1853.2 2480.3L1854.7 2390.4L1856.2 2494.7L1857.7 2406.3L1859.2 2473.1L1860.7 2386.1L1862.2 2492.5L1863.7 2357.4L1865.2 2495.5L1866.7 2373.7L1868.2 2485.6L1869.7 2382.4L1871.2 2485.5L1872.7 2407.6L1874.2 2500L1875.7 2418.2L1877.2 2499.6L1878.7 2424.9L1880.2 2475.5L1881.7 2418.7L1883.2 2505.4L1884.7 2417.5L1886.2 2496.5L1887.7 2430.5L1889.2 2509L1890.7 2424.4L1892.2 2473.6L1893.7 2415.8L1895.2 2484.4L1896.7 2367.7L1898.2 2477.2L1899.7 2404.1L1901.2 2479.7L1902.7 2432.7L1904.2 2516.8L1905.7 2433.1L1907.2 2482.1L1908.7 2426.8L1910.2 2510.4L1911.7 2434.4L1913.2 2519.7L1914.7 2435.3L1916.2 2526.7L1917.7 2429.9L1919.2 2517.6L1920.7 2416.2L1922.2 2481L1923.7 2402L1925.2 2507.9L1926.7 2414.5L1928.2 2503.6L1929.7 2395.4L1931.2 2506.7L1932.7 2400.6L1934.2 2480.6L1935.7 2424.3L1937.2 2482.1L1938.7 2401.5L1940.2 2484.9L1941.7 2399.5L1943.2 2491.7L1944.7 2422.2L1946.2 2495L1947.7 2434.5L1949.2 2490.3L1950.7 2427.6L1952.2 2483L1953.7 2422.2L1955.2 2480.8L1956.7 2437L1958.2 2508.7L1959.7 2438.6L1961.2 2519.3L1962.7 2400.6L1964.2 2535.4L1965.7 2417.3L1967.2 2499.1L1968.7 2424.7L1970.2 2521.4L1971.7 2440L1973.2 2522L1974.7 2445.7L1976.2 2512.6L1977.7 2442.3L1979.2 2489.3L1980.7 2441.9L1982.2 2499L1983.7 2429.3L1985.2 2521L1986.7 2415.4L1988.2 2522.8L1989.7 2445.3L1991.2 2517.2L1992.7 2449L1994.2 2542.3L1995.7 2437.5L1997.2 2531.6L1998.7 2443.1L2000.2 2536.9L2001.7 2421.2L2003.2 2521.7L2004.7 2424.7L2006.2 2519.3L2007.7 2429L2009.2 2509.1L2010.7 2441.8L2012.2 2519.5L2013.7 2437L2015.2 2510.4L2016.7 2406.7L2018.2 2495.4L2019.7 2390.9L2021.2 2519.7L2022.7 2411.6L2024.2 2505.1L2025.7 2452.6L2027.2 2500.1L2028.7 2447.3L2030.2 2515.4L2031.7 2453.2L2033.2 2504.4L2034.7 2449.2L2036.2 2513.6L2037.7 2443.1L2039.2 2511.7L2040.7 2405.8L2042.2 2503.2L2043.7 2427.6L2045.2 2498.9L2046.7 2431.3L2048.2 2511.5L2049.7 2448.1L2051.2 2521.5L2052.7 2447.2L2054.2 2506.2L2055.7 2454.3L2057.2 2514L2058.7 2466L2060.2 2527L2061.7 2446.8L2063.2 2512.7L2064.7 2450L2066.2 2511.6L2067.7 2431.7L2069.2 2526.9L2070.7 2444.5L2072.2 2523.3L2073.7 2443.3L2075.2 2503.8L2076.7 2463.6L2078.2 2510.7L2079.7 2443.8L2081.2 2506.2L2082.7 2455L2084.2 2518.6L2085.7 2448.7L2087.2 2518.6L2088.7 2403.3L2090.2 2528.8L2091.7 2417.9L2093.2 2530.4L2094.7 2425.9L2096.2 2507.7L2097.7 2449.9L2099.2 2505L2100.7 2457.6L2102.2 2523.5L2103.7 2462.5L2105.2 2518.2L2106.7 2462.9L2108.2 2515.2L2109.7 2444.2L2111.2 2510.7L2112.7 2460.9L2114.2 2523.4L2115.7 2417.9L2117.2 2528.1L2118.7 2436.7L2120.2 2521.9L2121.7 2458.5L2123.2 2501.2L2124.7 2462.6L2126.2 2519.1L2127.7 2468.8L2129.2 2518.8L2130.7 2458.7L2132.2 2505L2133.7 2460.2L2135.2 2510.6L2136.7 2457.3L2138.2 2503.8L2139.7 2447.6L2141.2 2507.5L2142.7 2428.2L2144.2 2507.5L2145.7 2451.7L2147.2 2512.1L2148.7 2461.5L2150.2 2523.8L2151.7 2460.4L2153.2 2516.9L2154.7 2466.7L2156.2 2510.2L2157.7 2465.9L2159.2 2538.1L2160.7 2456.9L2162.2 2511.8L2163.7 2454.8L2165.2 2547.5L2166.7 2437.6L2168.2 2545L2169.7 2427.5L2171.2 2524L2172.7 2463.2L2174.2 2520.3L2175.7 2452L2177.2 2524.3L2178.7 2467.2L2180.2 2517.4L2181.7 2474.7L2183.2 2515L2184.7 2450.6L2186.2 2515.9L2187.7 2441.4L2189.2 2513.3L2190.7 2449.5L2192.2 2532L2193.7 2457.7L2195.2 2535.5L2196.7 2478.7L2198.2 2517.7L2199.7 2475.3L2201.2 2517.6L2202.7 2476.1L2204.2 2529.8L2205.7 2465.5L2207.2 2534.4L2208.7 2476.1L2210.2 2533.6L2211.7 2462L2213.2 2529.7L2214.7 2449.8L2216.2 2535.2L2217.7 2446.5L2219.2 2524.2L2220.7 2471L2222.2 2536.4L2223.7 2487.3L2225.2 2532.6L2226.7 2484.9L2228.2 2547.5L2229.7 2455.7L2231.2 2535.3L2232.7 2442.1L2234.2 2524.7L2235.7 2458L2237.2 2525.9L2238.7 2467.6L2240.2 2536.8L2241.7 2483.2L2243.2 2537.8L2244.7 2486.7L2246.2 2535L2247.7 2476.1L2249.2 2534.4L2250.7 2486L2252.2 2520.2L2253.7 2468.9L2255.2 2530.3L2256.7 2463.8L2258.2 2524.5L2259.7 2471.1L2261.2 2530.9L2262.7 2479.4L2264.2 2524.6L2265.7 2483.2L2267.2 2522.9" fill="none" stroke="#0072bd" stroke-width="3.3" stroke-linejoin="miter"/>
<path d="M1232.2 2356.2L1233.7 2365.9L1237.1 2472.2L1241.5 2403.9L1244.4 2495.7L1247.1 2602L1251.6 2533.7L1254.3 2634.4L1293 2634.4L1302 2379.3L1307.1 2634.4L1314.3 2377.1L1319.2 2580.7L1320.7 2418.9M2267.2 2522.9L2270 2530.2L2271.7 2430L2275.9 2473.2L2278.6 2322.8L2281 2305.5L2283.8 2319.4L2287.3 2169L2289 2115.4" fill="none" stroke="#0072bd" stroke-width="2.7" stroke-linejoin="round"/>
</g>
<text class="tk" transform="scale(0.95 1)"><tspan x="381.9" y="2697.4">1</tspan></text>
<text class="tk" transform="scale(0.95 1)"><tspan x="601.3" y="2697.4">2</tspan></text>
<text class="tk" transform="scale(0.95 1)"><tspan x="820.2" y="2697.4">3</tspan></text>
<text class="tk" transform="scale(0.95 1)"><tspan x="1039.6" y="2697.4">4</tspan></text>
<text class="tk" transform="scale(0.95 1)"><tspan x="1256.3" y="2697.4">5</tspan></text>
<text class="tk" transform="scale(0.95 1)"><tspan x="1475.4" y="2697.4">6</tspan></text>
<text class="tk" transform="scale(0.95 1)"><tspan x="1694.3" y="2697.4">7</tspan></text>
<text class="tk" transform="scale(0.95 1)"><tspan x="1914.2" y="2697.4">8</tspan></text>
<text class="tk" transform="scale(0.95 1)"><tspan x="2133" y="2697.4">9</tspan></text>
<text class="tk" transform="scale(0.95 1)"><tspan x="2335.9" y="2697.4" style="letter-spacing:-1.3px">10</tspan></text>
<text class="tk" transform="scale(0.95 1)"><tspan x="181.1" y="2184">1</tspan></text>
<text class="tk" transform="scale(0.95 1)"><tspan x="181.1" y="2412.3">0</tspan></text>
<text class="tk" transform="scale(0.95 1)"><tspan x="132.1" y="2647.1" style="font-size:82px">−</tspan><tspan x="181.1" y="2635.3">1</tspan></text>
<text class="lb" x="1263.6" y="2792.7" text-anchor="middle">Time [s]</text>
<text class="tk" transform="scale(0.95 1)"><tspan x="2241.4" y="2787.7" style="font-size:81px">×</tspan><tspan x="2292.9" y="2775.2" style="letter-spacing:-1.3px">10</tspan><tspan x="2359.7" y="2758.7" style="font-size:55px">−</tspan><tspan x="2395.9" y="2754.4" style="font-size:46px">5</tspan></text>
<text class="lb" transform="translate(92.6 2392.3) rotate(-90)" text-anchor="middle">[V]</text>
</g>
</svg>
</body></html>
